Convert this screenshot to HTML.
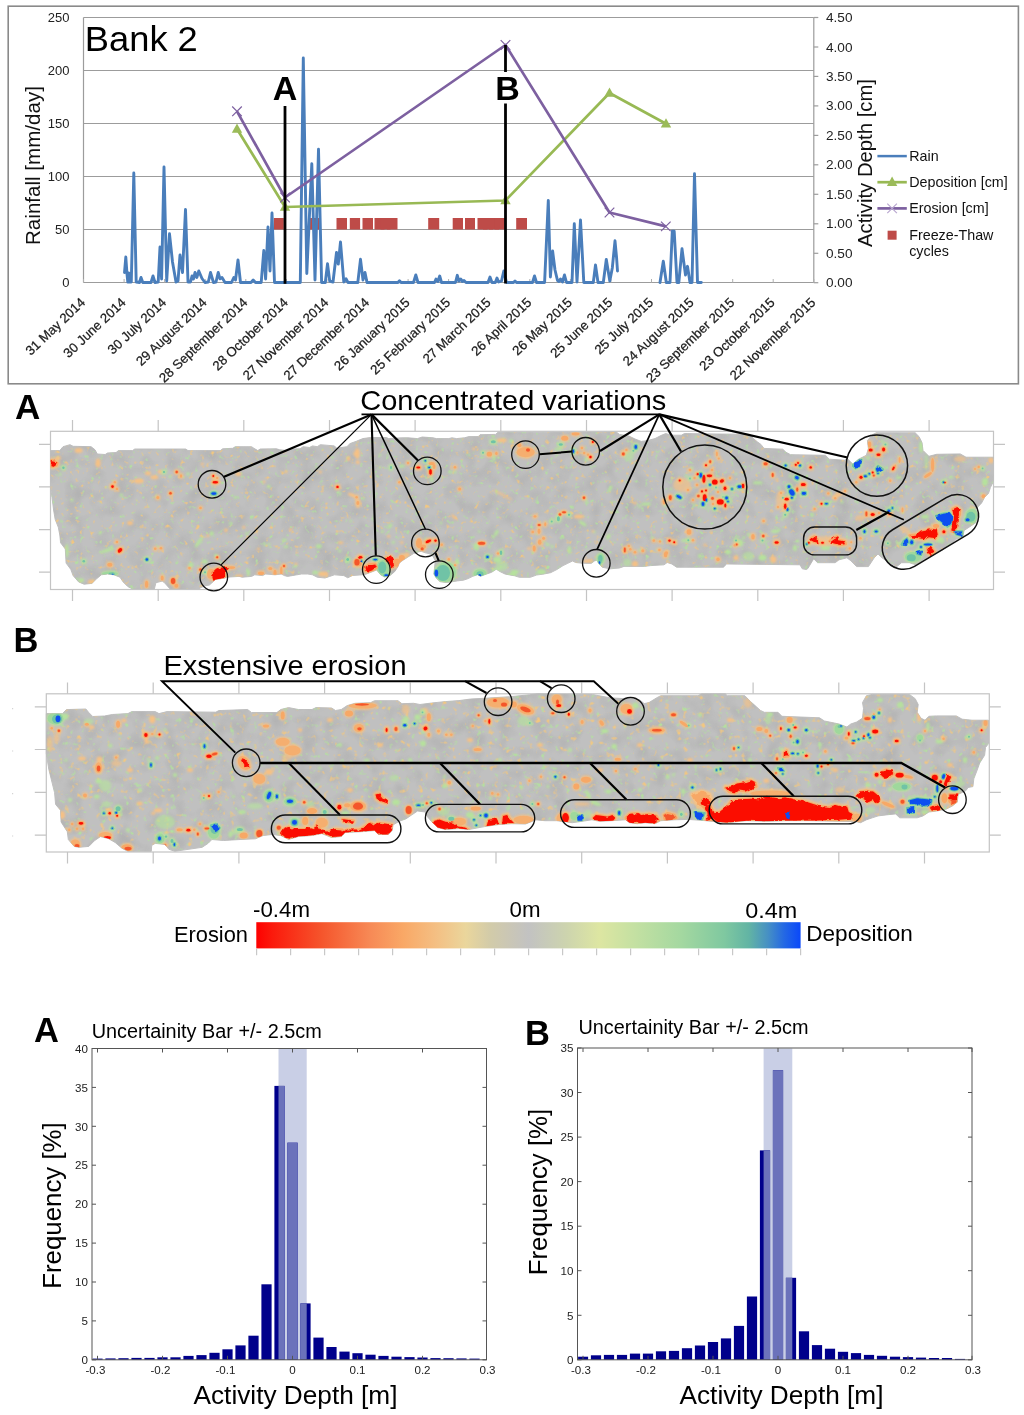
<!DOCTYPE html>
<html lang="en"><head><meta charset="utf-8"><title>Bank 2</title>
<style>html,body{margin:0;padding:0;background:#fff}svg{display:block}text{font-family:"Liberation Sans",sans-serif}</style></head>
<body>
<svg width="1024" height="1415" viewBox="0 0 1024 1415">
<rect width="1024" height="1415" fill="#fff"/>
<defs>
<filter id="nzA" x="0" y="0" width="100%" height="100%" color-interpolation-filters="sRGB">
<feTurbulence type="fractalNoise" baseFrequency="0.2" numOctaves="2" seed="7" result="t"/>
<feColorMatrix in="t" type="matrix" values="0 0 0 0 0.95  0 0 0 0 0.78  0 0 0 0 0.50  4 0 0 0 -2.5" result="o"/>
<feColorMatrix in="t" type="matrix" values="0 0 0 0 0.70  0 0 0 0 0.88  0 0 0 0 0.62  0 4 0 0 -2.55" result="g"/>
<feTurbulence type="fractalNoise" baseFrequency="0.06" numOctaves="2" seed="3" result="t2"/>
<feColorMatrix in="t2" type="matrix" values="0 0 0 0 0.64  0 0 0 0 0.64  0 0 0 0 0.64  0 0 1.0 0 -0.42" result="d"/>
<feMerge result="m0"><feMergeNode in="o"/><feMergeNode in="g"/></feMerge>
<feGaussianBlur in="m0" stdDeviation="0.55" result="m1"/>
<feMerge result="m"><feMergeNode in="d"/><feMergeNode in="m1"/></feMerge>
<feComposite in="m" in2="SourceAlpha" operator="in"/>
</filter>
<filter id="nzB" x="0" y="0" width="100%" height="100%" color-interpolation-filters="sRGB">
<feTurbulence type="fractalNoise" baseFrequency="0.17" numOctaves="2" seed="23" result="t"/>
<feColorMatrix in="t" type="matrix" values="0 0 0 0 0.95  0 0 0 0 0.78  0 0 0 0 0.50  4 0 0 0 -2.5" result="o"/>
<feColorMatrix in="t" type="matrix" values="0 0 0 0 0.70  0 0 0 0 0.88  0 0 0 0 0.62  0 4 0 0 -2.55" result="g"/>
<feTurbulence type="fractalNoise" baseFrequency="0.06" numOctaves="2" seed="5" result="t2"/>
<feColorMatrix in="t2" type="matrix" values="0 0 0 0 0.64  0 0 0 0 0.64  0 0 0 0 0.64  0 0 1.0 0 -0.42" result="d"/>
<feMerge result="m0"><feMergeNode in="o"/><feMergeNode in="g"/></feMerge>
<feGaussianBlur in="m0" stdDeviation="0.55" result="m1"/>
<feMerge result="m"><feMergeNode in="d"/><feMergeNode in="m1"/></feMerge>
<feComposite in="m" in2="SourceAlpha" operator="in"/>
</filter>
<filter id="b1" x="-5%" y="-20%" width="110%" height="140%"><feGaussianBlur stdDeviation="0.8"/></filter>
<filter id="b2" x="-5%" y="-20%" width="110%" height="140%"><feGaussianBlur stdDeviation="0.6"/></filter>
<filter id="jag" x="-5%" y="-20%" width="110%" height="140%"><feTurbulence type="fractalNoise" baseFrequency="0.18" numOctaves="2" seed="11" result="n"/><feDisplacementMap in="SourceGraphic" in2="n" scale="4.5" xChannelSelector="R" yChannelSelector="G" result="dd"/><feGaussianBlur in="dd" stdDeviation="0.4"/></filter>
<filter id="b3" x="-5%" y="-20%" width="110%" height="140%"><feGaussianBlur stdDeviation="0.45"/></filter>
<clipPath id="cpA"><polygon points="50.5,450.6 59.8,450.6 63,446.7 70,444.7 73.1,446.3 91.1,446.7 95,449.8 97.3,454 105.2,454.5 107.5,453 116.1,452.5 118.4,450.6 132.5,450.6 134.8,449 185.6,449 188,450.6 220.3,450.6 222.7,448.8 232.8,448.3 235.2,446.7 251.6,446.7 253.9,448.3 257.8,450.6 260.2,449 276.6,448.8 279.7,449.8 287.5,450.6 290.6,449 300,448.8 303.1,446.7 309.4,447.5 312.5,445.9 317.2,446.7 320.3,444.7 334.4,445.9 336.7,448.3 346.9,446.7 350,443.6 356.3,441.3 362.8,438.6 370.6,437.5 386.3,437.5 388.6,438.6 401.9,437.8 408,437.8 417.5,438.6 422.2,437 433,437.8 436.3,438.6 448.8,438.6 451.9,437.8 456.6,438.6 464.4,437.8 469,436.6 478.4,436.6 480,434.7 495.6,434.4 498,432.3 616.3,432 619.4,434.4 628.8,436 635,439 641.3,441.4 647.5,440.6 655,438.6 661,435.5 665.6,433.6 671.9,435.2 681.3,435.2 684.4,433.6 750,434.4 753.1,438.3 757.8,442.2 761,444.5 764,448.4 782.8,449.2 786,452.3 790.6,454.7 825.4,455.3 829.3,459.2 845,460.2 846.9,458.2 852.7,464 858.6,459.2 866.4,455.3 868.4,448.4 867.4,440.6 872.3,434.8 876.2,432.8 915.2,432.8 919.1,436.7 922,442.6 923,450.4 928.9,456.3 936.7,454.3 960.2,453.9 966,457.2 993.4,457.2 993.4,481.6 990.4,487.5 988.5,493.4 984.6,497.3 981.6,503 975.8,509 977.7,514.8 975.8,522.7 970,526.6 964,530.5 963,536.3 956.3,539.3 950.4,544 942.6,550 934.8,554 925,559.8 915.2,564.6 909.4,562.7 901.6,562.7 896.7,566.6 887.9,561.7 882,557.8 878,554 874.2,557.8 868.4,566.6 856.6,566.6 850.8,560.7 846.9,557.8 839,559.8 835.2,562.7 817.6,562.7 813.7,558.8 807.8,568.6 806.3,569.5 802.3,568.8 800,564.8 726.6,564 723.4,567.2 676.6,567.2 671.9,564 667.2,562.5 664,564.8 650.6,565.6 644.4,566.4 624,566.4 619.4,568 610,568.8 602.2,567.2 599,564 596.7,560.2 594.4,561 591.3,563.3 583.4,563.3 575.6,562.5 572.5,561 567.8,563.3 563.1,565.6 556.9,569.5 550.6,572.7 542.8,574.2 536.6,575 530.3,577.3 519.4,577.3 514.7,575.8 510,575 505,574 500,571.6 496.3,569.2 491.6,572.3 486.9,573.9 480.6,576.3 477.5,574.7 472.8,576.3 468.1,578.6 463.4,580.2 457.2,580.9 452.5,581.7 446.3,582.5 440,581.7 436,577.8 433.8,573.9 434.5,568.4 435.3,560.6 432.2,555.2 429,553.6 425.2,552.8 421.3,551.3 418.1,552 413.4,553.6 407.2,557.5 402.5,560.6 399.4,563 397.8,566.9 394.7,571.6 390,575.5 384.5,577 380.6,574.7 376.7,570 366.6,573.9 363.4,574.7 352.5,575.5 347.8,577.8 343.8,575.6 334.4,574.8 329.7,576.4 325,578 317.2,577.2 312.5,574.8 307.8,574 301.6,574 296.9,574.8 287.5,576.4 284.4,575.6 281.3,574 275,574.8 265.6,574 262.5,575.6 254.7,574.8 251.6,576.4 242.2,577.2 239,576.4 226.6,577.2 225,578 215.6,579.5 209.4,585 204.7,585.8 200,588.1 199,589 170,588.9 164.5,582.7 162.2,581.1 155.9,582.7 154.4,588.9 132.5,588.9 127.8,586.6 123.1,581.9 120,577.2 113.8,574.8 107.5,574 101.3,574.8 96.6,578.8 91.9,583.4 84.1,584.2 78.6,581.9 73.1,575.6 70.8,569.4 66.1,563.1 65.3,549 60.6,542.8 59.8,535 58.3,527.2 55.2,519.4 53.6,510 52,497.5 50.5,486.6"/></clipPath>
<clipPath id="cpB"><polygon points="46.3,713.6 62.5,713.6 66.4,709.6 85.9,709 88.8,712.6 92.7,716.5 104.5,716 112.3,714.5 127.9,713.6 131.8,711.6 155.2,711.6 159,713.6 167,711.6 215.8,712.2 218.7,710.6 247.6,709.5 251.5,712.5 276.9,712.5 280.8,709.5 288.6,707.6 298.4,709.5 312,709.5 316,707.6 331.6,708 335.5,710.5 341.3,709.5 347.2,705.6 355,703.3 370.6,702.7 374.5,700.7 398,700.7 401.9,703.7 413.6,703.3 420,704.5 431.7,703 445.4,701.6 459,700.6 470.8,699 484.5,698.3 509.8,696.7 529.4,694.8 537.2,693.8 592.5,694.5 610,697.8 639.3,699.6 644.2,703.6 649,702.6 656.9,697.7 660.8,695.7 697.9,695.7 701.8,693.8 725.2,693.8 727.2,695.7 744.8,695.7 750.6,701.6 760.4,710.4 764.3,712.3 778,712.3 781.9,716.3 819.5,717.8 824.4,721 834.2,723 839,724 846.9,727 850.8,724 856.6,722 862.5,718.2 863.5,708.4 862.5,702.6 866.4,695.7 872.3,694.4 909.4,694.4 915.2,698.7 918.2,704.5 917.2,712.3 921,718.2 925,720.2 928.9,716.3 936.7,715.9 956.3,715.9 962.1,719.2 971.9,720.2 988.5,720.2 988.5,743.6 985.5,747.5 984.6,755.3 979.7,763 976.8,771 973.8,778.8 972.9,786.6 968,787.5 966,790.5 958.2,794.4 957.2,802.2 952.3,806 946.5,809 936.7,811 928.9,812 923,815.9 917.2,817.8 899.6,817.8 895.7,813.9 886,814.9 878,815.9 872.3,817.8 866.4,819.8 860.5,822.7 856.6,821.7 850,821.5 810,820.7 785.8,820.7 766.3,821.3 746.7,820.7 727.2,822.7 715.5,821.7 705.7,820.7 694,819.8 688,819.4 674.5,819.8 660.8,820.7 655,823.7 645.2,822.7 637.3,823.7 629.5,822.7 625.6,819.8 611.4,820.7 599.7,821.3 591.9,819.8 582.1,821.3 572.3,822.7 564.5,821.7 556.7,820.7 545,820.7 535.2,819.8 531.3,821.7 525.5,824 511.8,823.7 498,824.6 484.5,826.6 468.8,829.5 459,828.6 445.4,829.5 437.6,827.6 431.7,821.7 425.9,814.9 425.3,812 417.5,811 411.6,815 405.8,818.9 400,820.9 393.1,824.8 392.1,830.6 388.2,834.5 378.4,834.5 374.5,830.6 362.8,831.6 345.2,832.6 341.3,836.5 331.6,837.5 321.8,833.6 312,835.5 298.4,836.5 288.6,839.4 280.8,835.5 272,834.5 263.2,835.5 255.4,838.8 240,839.5 223.6,840.5 211.9,839.5 208,843.4 202.1,847.3 174.8,851.3 168.9,849.3 165,844.4 155.2,843.4 151.7,845.4 151.3,851.3 127.9,851.3 122,848.3 115.2,842.5 108.4,838.6 100.5,836.6 94.7,840.5 88.8,846.4 79,847.3 74.2,846.4 68.3,839.5 67.3,831.7 61.1,822 60.5,810.2 55.6,804.4 54.6,792.7 51.7,781 48.8,769.2 46.3,753.6"/></clipPath>
</defs>
<g id="chart">
<rect x="8.2" y="6.2" width="1010.2" height="377.6" fill="#fff" stroke="#8a8a8a" stroke-width="1.6"/>
<line x1="83.5" y1="17.5" x2="813.8" y2="17.5" stroke="#9c9c9c" stroke-width="1.2"/>
<line x1="83.5" y1="70.5" x2="813.8" y2="70.5" stroke="#9c9c9c" stroke-width="1.2"/>
<line x1="83.5" y1="123.5" x2="813.8" y2="123.5" stroke="#9c9c9c" stroke-width="1.2"/>
<line x1="83.5" y1="176.5" x2="813.8" y2="176.5" stroke="#9c9c9c" stroke-width="1.2"/>
<line x1="83.5" y1="229.5" x2="813.8" y2="229.5" stroke="#9c9c9c" stroke-width="1.2"/>
<line x1="83.5" y1="282.5" x2="813.8" y2="282.5" stroke="#9c9c9c" stroke-width="1.2"/>
<line x1="83.5" y1="17.5" x2="83.5" y2="282.5" stroke="#9c9c9c" stroke-width="1.2"/>
<line x1="813.8" y1="17.5" x2="813.8" y2="282.5" stroke="#9c9c9c" stroke-width="1.2"/>
<line x1="813.8" y1="17.5" x2="818.3" y2="17.5" stroke="#9c9c9c" stroke-width="1.2"/>
<line x1="813.8" y1="47" x2="818.3" y2="47" stroke="#9c9c9c" stroke-width="1.2"/>
<line x1="813.8" y1="76.4" x2="818.3" y2="76.4" stroke="#9c9c9c" stroke-width="1.2"/>
<line x1="813.8" y1="105.9" x2="818.3" y2="105.9" stroke="#9c9c9c" stroke-width="1.2"/>
<line x1="813.8" y1="135.4" x2="818.3" y2="135.4" stroke="#9c9c9c" stroke-width="1.2"/>
<line x1="813.8" y1="164.8" x2="818.3" y2="164.8" stroke="#9c9c9c" stroke-width="1.2"/>
<line x1="813.8" y1="194.3" x2="818.3" y2="194.3" stroke="#9c9c9c" stroke-width="1.2"/>
<line x1="813.8" y1="223.8" x2="818.3" y2="223.8" stroke="#9c9c9c" stroke-width="1.2"/>
<line x1="813.8" y1="253.3" x2="818.3" y2="253.3" stroke="#9c9c9c" stroke-width="1.2"/>
<line x1="813.8" y1="282.7" x2="818.3" y2="282.7" stroke="#9c9c9c" stroke-width="1.2"/>
<line x1="83.5" y1="279" x2="83.5" y2="282.5" stroke="#b0b0b0" stroke-width="1"/>
<line x1="124.1" y1="279" x2="124.1" y2="282.5" stroke="#b0b0b0" stroke-width="1"/>
<line x1="164.6" y1="279" x2="164.6" y2="282.5" stroke="#b0b0b0" stroke-width="1"/>
<line x1="205.2" y1="279" x2="205.2" y2="282.5" stroke="#b0b0b0" stroke-width="1"/>
<line x1="245.8" y1="279" x2="245.8" y2="282.5" stroke="#b0b0b0" stroke-width="1"/>
<line x1="286.4" y1="279" x2="286.4" y2="282.5" stroke="#b0b0b0" stroke-width="1"/>
<line x1="326.9" y1="279" x2="326.9" y2="282.5" stroke="#b0b0b0" stroke-width="1"/>
<line x1="367.5" y1="279" x2="367.5" y2="282.5" stroke="#b0b0b0" stroke-width="1"/>
<line x1="408.1" y1="279" x2="408.1" y2="282.5" stroke="#b0b0b0" stroke-width="1"/>
<line x1="448.6" y1="279" x2="448.6" y2="282.5" stroke="#b0b0b0" stroke-width="1"/>
<line x1="489.2" y1="279" x2="489.2" y2="282.5" stroke="#b0b0b0" stroke-width="1"/>
<line x1="529.8" y1="279" x2="529.8" y2="282.5" stroke="#b0b0b0" stroke-width="1"/>
<line x1="570.4" y1="279" x2="570.4" y2="282.5" stroke="#b0b0b0" stroke-width="1"/>
<line x1="610.9" y1="279" x2="610.9" y2="282.5" stroke="#b0b0b0" stroke-width="1"/>
<line x1="651.5" y1="279" x2="651.5" y2="282.5" stroke="#b0b0b0" stroke-width="1"/>
<line x1="692.1" y1="279" x2="692.1" y2="282.5" stroke="#b0b0b0" stroke-width="1"/>
<line x1="732.7" y1="279" x2="732.7" y2="282.5" stroke="#b0b0b0" stroke-width="1"/>
<line x1="773.2" y1="279" x2="773.2" y2="282.5" stroke="#b0b0b0" stroke-width="1"/>
<line x1="813.8" y1="279" x2="813.8" y2="282.5" stroke="#b0b0b0" stroke-width="1"/>
<g font-size="13" fill="#222" text-anchor="end">
<text x="69.5" y="22">250</text>
<text x="69.5" y="75">200</text>
<text x="69.5" y="128">150</text>
<text x="69.5" y="181">100</text>
<text x="69.5" y="234">50</text>
<text x="69.5" y="287">0</text>
</g>
<g font-size="13" fill="#222">
<text x="826" y="22" textLength="26.5" lengthAdjust="spacingAndGlyphs">4.50</text>
<text x="826" y="51.5" textLength="26.5" lengthAdjust="spacingAndGlyphs">4.00</text>
<text x="826" y="80.9" textLength="26.5" lengthAdjust="spacingAndGlyphs">3.50</text>
<text x="826" y="110.4" textLength="26.5" lengthAdjust="spacingAndGlyphs">3.00</text>
<text x="826" y="139.9" textLength="26.5" lengthAdjust="spacingAndGlyphs">2.50</text>
<text x="826" y="169.3" textLength="26.5" lengthAdjust="spacingAndGlyphs">2.00</text>
<text x="826" y="198.8" textLength="26.5" lengthAdjust="spacingAndGlyphs">1.50</text>
<text x="826" y="228.3" textLength="26.5" lengthAdjust="spacingAndGlyphs">1.00</text>
<text x="826" y="257.8" textLength="26.5" lengthAdjust="spacingAndGlyphs">0.50</text>
<text x="826" y="287.2" textLength="26.5" lengthAdjust="spacingAndGlyphs">0.00</text>
</g>
<g font-size="13.2" fill="#1c1c1c" stroke="#1c1c1c" stroke-width="0.25" text-anchor="end">
<text transform="translate(86,303.5) rotate(-43.5)">31 May 2014</text>
<text transform="translate(126.6,303.5) rotate(-43.5)">30 June 2014</text>
<text transform="translate(167.1,303.5) rotate(-43.5)">30 July 2014</text>
<text transform="translate(207.7,303.5) rotate(-43.5)">29 August 2014</text>
<text transform="translate(248.3,303.5) rotate(-43.5)">28 September 2014</text>
<text transform="translate(288.9,303.5) rotate(-43.5)">28 October 2014</text>
<text transform="translate(329.4,303.5) rotate(-43.5)">27 November 2014</text>
<text transform="translate(370,303.5) rotate(-43.5)">27 December 2014</text>
<text transform="translate(410.6,303.5) rotate(-43.5)">26 January 2015</text>
<text transform="translate(451.1,303.5) rotate(-43.5)">25 February 2015</text>
<text transform="translate(491.7,303.5) rotate(-43.5)">27 March 2015</text>
<text transform="translate(532.3,303.5) rotate(-43.5)">26 April 2015</text>
<text transform="translate(572.9,303.5) rotate(-43.5)">26 May 2015</text>
<text transform="translate(613.4,303.5) rotate(-43.5)">25 June 2015</text>
<text transform="translate(654,303.5) rotate(-43.5)">25 July 2015</text>
<text transform="translate(694.6,303.5) rotate(-43.5)">24 August 2015</text>
<text transform="translate(735.2,303.5) rotate(-43.5)">23 September 2015</text>
<text transform="translate(775.7,303.5) rotate(-43.5)">23 October 2015</text>
<text transform="translate(816.3,303.5) rotate(-43.5)">22 November 2015</text>
</g>
<text transform="translate(40,165.5) rotate(-90)" font-size="20.5" text-anchor="middle" fill="#111" textLength="159" lengthAdjust="spacingAndGlyphs">Rainfall [mm/day]</text>
<text transform="translate(872.3,163) rotate(-90)" font-size="20.5" text-anchor="middle" fill="#111" textLength="168" lengthAdjust="spacingAndGlyphs">Activity Depth [cm]</text>
<rect x="273.8" y="218" width="10" height="11.5" fill="#be4b48"/>
<rect x="309.5" y="218" width="11" height="11.5" fill="#be4b48"/>
<rect x="336.5" y="218" width="10.5" height="11.5" fill="#be4b48"/>
<rect x="349.8" y="218" width="10.3" height="11.5" fill="#be4b48"/>
<rect x="362.5" y="218" width="10.5" height="11.5" fill="#be4b48"/>
<rect x="374.5" y="218" width="10" height="11.5" fill="#be4b48"/>
<rect x="380.5" y="218" width="10" height="11.5" fill="#be4b48"/>
<rect x="387" y="218" width="10.5" height="11.5" fill="#be4b48"/>
<rect x="428.2" y="218" width="11" height="11.5" fill="#be4b48"/>
<rect x="452.7" y="218" width="10.3" height="11.5" fill="#be4b48"/>
<rect x="465" y="218" width="10" height="11.5" fill="#be4b48"/>
<rect x="477.5" y="218" width="10" height="11.5" fill="#be4b48"/>
<rect x="483" y="218" width="10" height="11.5" fill="#be4b48"/>
<rect x="489" y="218" width="10" height="11.5" fill="#be4b48"/>
<rect x="494.7" y="218" width="10.3" height="11.5" fill="#be4b48"/>
<rect x="516.2" y="218" width="10.8" height="11.5" fill="#be4b48"/>
<polyline points="124.5,272.5 125.8,257 127,274 127.8,282 128.8,273 129.8,282 131.3,282 133.8,173 136.2,282 139.5,282.5 141,277.5 142.8,282.5 151,282.5 153,276 155,282.5 158.2,282 160,247 161.6,279 164,167 166.7,281 169.5,233.8 172.5,262 176,282 178,281 180,255 182.5,272.5 185.5,209.5 188,282 190.5,282 192,276 193.5,279 195,272.5 196.8,277.5 198.8,271 202,278.5 205,282.5 208.3,282 210.5,272.5 213.5,282.5 216,282 218.2,272.5 220,278.8 222,277.5 225,282.5 231.5,282.5 233.8,277.5 235.5,280 238,260 240.5,282.5 251,282.5 253.2,280 255.5,282.5 261.2,282.5 263.8,250.5 265.6,279 268,227 270,271 272,213 274.5,282.5 300.3,282.5 303.3,58 306.8,273.5 311.8,163.8 315,280 318.5,149.3 321.6,282.5 325.3,282.5 327.5,263.8 329.7,281 333,282 336.5,252.5 338.3,264 340.5,242 343.8,282 346,278.8 348,282.5 357.8,282.5 360.5,259.3 363,280 365,272.5 367,282.5 398,282.5 399.5,280.8 401,282.5 413.5,282.5 415.8,275 418,282.5 434.5,282.5 436,279 437.8,281.5 439.7,276 441.5,282.5 455.5,282.5 457.3,275.3 458.9,281 460.8,279 462.3,281.5 464,280.5 466,282.5 488,282.5 490,277 492,282.5 495.3,282.5 497,278 498.7,282 501.5,281 503.8,271 506.5,282.5 513.5,282.5 515,281 516.5,282.5 532.5,282.5 534.5,276 536.5,282.5 544.6,282.5 548.3,200.5 550.4,277 552.6,251 555,270 557.5,280.5 559,281.5 560.5,279 562.5,282 564.5,275 566.5,282.5 572,282.5 574.3,223.8 577,282 580.5,220 583.8,282.5 593.3,282.5 595.5,265 598,282.5 603.3,282.5 606.3,259.5 609.8,281 612.3,268 615,240.8 616.6,258 617.5,271" fill="none" stroke="#4a7ebb" stroke-width="2.9" stroke-linejoin="round" stroke-linecap="round"/>
<polyline points="660,282.5 663.3,261.3 666.3,282.5 670,282.5 672.3,231.3 674.2,231.3 677,282.5 678.8,282.5 682,248.8 685.5,275 687.5,266.3 690,282.5 692,282.5 694.5,173.8 697.5,282.5 701.3,282.5" fill="none" stroke="#4a7ebb" stroke-width="2.9" stroke-linejoin="round" stroke-linecap="round"/>
<polyline points="237,129 285,207 505.5,200.5 609.5,93 666,123.8" fill="none" stroke="#98b954" stroke-width="2.7" stroke-linejoin="round"/>
<path d="M237 123.4l5.2 9.4h-10.4z" fill="#9bbb59"/>
<path d="M285 201.4l5.2 9.4h-10.4z" fill="#9bbb59"/>
<path d="M505.5 194.9l5.2 9.4h-10.4z" fill="#9bbb59"/>
<path d="M609.5 87.4l5.2 9.4h-10.4z" fill="#9bbb59"/>
<path d="M666 118.2l5.2 9.4h-10.4z" fill="#9bbb59"/>
<polyline points="237,111.3 285,197.5 505.5,45 609.5,212.5 665.8,226.4" fill="none" stroke="#7d60a0" stroke-width="2.7" stroke-linejoin="round"/>
<path d="M232.2 106.5l9.6 9.6m0 -9.6l-9.6 9.6" stroke="#7d60a0" stroke-width="1.2" fill="none"/>
<path d="M280.2 192.7l9.6 9.6m0 -9.6l-9.6 9.6" stroke="#7d60a0" stroke-width="1.2" fill="none"/>
<path d="M500.7 40.2l9.6 9.6m0 -9.6l-9.6 9.6" stroke="#7d60a0" stroke-width="1.2" fill="none"/>
<path d="M604.7 207.7l9.6 9.6m0 -9.6l-9.6 9.6" stroke="#7d60a0" stroke-width="1.2" fill="none"/>
<path d="M661 221.6l9.6 9.6m0 -9.6l-9.6 9.6" stroke="#7d60a0" stroke-width="1.2" fill="none"/>
<line x1="285" y1="106" x2="285" y2="283.8" stroke="#000" stroke-width="2.8"/>
<line x1="505.5" y1="45" x2="505.5" y2="283.5" stroke="#000" stroke-width="2.8"/>
<rect x="495" y="72" width="25" height="31.5" fill="#fff"/>
<text x="285" y="100" font-size="34" font-weight="bold" text-anchor="middle" fill="#000">A</text>
<text x="507.5" y="99.5" font-size="34" font-weight="bold" text-anchor="middle" fill="#000">B</text>
<text x="84.8" y="50.8" font-size="35" fill="#000" textLength="113" lengthAdjust="spacingAndGlyphs">Bank 2</text>
<g font-size="14.3" fill="#111">
<line x1="877.4" y1="156.1" x2="906.8" y2="156.1" stroke="#4a7ebb" stroke-width="2.5"/>
<text x="909.2" y="160.9">Rain</text>
<line x1="877.4" y1="182.2" x2="906.8" y2="182.2" stroke="#98b954" stroke-width="2.7"/>
<path d="M892.1 176.6l5.2 9.4h-10.4z" fill="#9bbb59"/>
<text x="909.2" y="187">Deposition [cm]</text>
<line x1="877.4" y1="208.4" x2="906.8" y2="208.4" stroke="#7d60a0" stroke-width="2.7"/>
<path d="M887.3 203.6l9.6 9.6m0 -9.6l-9.6 9.6" stroke="#b9a8d0" stroke-width="1.2" fill="none"/>
<text x="909.2" y="213.3">Erosion [cm]</text>
<rect x="887.6" y="230.7" width="9" height="9" fill="#be4b48"/>
<text x="909.2" y="239.8">Freeze-Thaw</text>
<text x="909.2" y="255.8">cycles</text>
</g>
</g>
<g id="mapA">
<text x="15" y="418.8" font-size="35" font-weight="bold" fill="#000">A</text>
<rect x="50.5" y="431.3" width="943" height="158.2" fill="#fff" stroke="#c4c4c4" stroke-width="1.2"/>
<path d="M72.5 431.3v-11.3M72.5 589.5v11.5M158.2 431.3v-11.3M158.2 589.5v11.5M243.8 431.3v-11.3M243.8 589.5v11.5M329.5 431.3v-11.3M329.5 589.5v11.5M415.1 431.3v-11.3M415.1 589.5v11.5M500.8 431.3v-11.3M500.8 589.5v11.5M586.5 431.3v-11.3M586.5 589.5v11.5M672.1 431.3v-11.3M672.1 589.5v11.5M757.8 431.3v-11.3M757.8 589.5v11.5M843.4 431.3v-11.3M843.4 589.5v11.5M929.1 431.3v-11.3M929.1 589.5v11.5M50.5 444.3h-11.5M993.5 444.3h11.5M50.5 486.9h-11.5M993.5 486.9h11.5M50.5 529.6h-11.5M993.5 529.6h11.5M50.5 572.2h-11.5M993.5 572.2h11.5" stroke="#c4c4c4" stroke-width="1.2" fill="none"/>
<polygon points="50.5,450.6 59.8,450.6 63,446.7 70,444.7 73.1,446.3 91.1,446.7 95,449.8 97.3,454 105.2,454.5 107.5,453 116.1,452.5 118.4,450.6 132.5,450.6 134.8,449 185.6,449 188,450.6 220.3,450.6 222.7,448.8 232.8,448.3 235.2,446.7 251.6,446.7 253.9,448.3 257.8,450.6 260.2,449 276.6,448.8 279.7,449.8 287.5,450.6 290.6,449 300,448.8 303.1,446.7 309.4,447.5 312.5,445.9 317.2,446.7 320.3,444.7 334.4,445.9 336.7,448.3 346.9,446.7 350,443.6 356.3,441.3 362.8,438.6 370.6,437.5 386.3,437.5 388.6,438.6 401.9,437.8 408,437.8 417.5,438.6 422.2,437 433,437.8 436.3,438.6 448.8,438.6 451.9,437.8 456.6,438.6 464.4,437.8 469,436.6 478.4,436.6 480,434.7 495.6,434.4 498,432.3 616.3,432 619.4,434.4 628.8,436 635,439 641.3,441.4 647.5,440.6 655,438.6 661,435.5 665.6,433.6 671.9,435.2 681.3,435.2 684.4,433.6 750,434.4 753.1,438.3 757.8,442.2 761,444.5 764,448.4 782.8,449.2 786,452.3 790.6,454.7 825.4,455.3 829.3,459.2 845,460.2 846.9,458.2 852.7,464 858.6,459.2 866.4,455.3 868.4,448.4 867.4,440.6 872.3,434.8 876.2,432.8 915.2,432.8 919.1,436.7 922,442.6 923,450.4 928.9,456.3 936.7,454.3 960.2,453.9 966,457.2 993.4,457.2 993.4,481.6 990.4,487.5 988.5,493.4 984.6,497.3 981.6,503 975.8,509 977.7,514.8 975.8,522.7 970,526.6 964,530.5 963,536.3 956.3,539.3 950.4,544 942.6,550 934.8,554 925,559.8 915.2,564.6 909.4,562.7 901.6,562.7 896.7,566.6 887.9,561.7 882,557.8 878,554 874.2,557.8 868.4,566.6 856.6,566.6 850.8,560.7 846.9,557.8 839,559.8 835.2,562.7 817.6,562.7 813.7,558.8 807.8,568.6 806.3,569.5 802.3,568.8 800,564.8 726.6,564 723.4,567.2 676.6,567.2 671.9,564 667.2,562.5 664,564.8 650.6,565.6 644.4,566.4 624,566.4 619.4,568 610,568.8 602.2,567.2 599,564 596.7,560.2 594.4,561 591.3,563.3 583.4,563.3 575.6,562.5 572.5,561 567.8,563.3 563.1,565.6 556.9,569.5 550.6,572.7 542.8,574.2 536.6,575 530.3,577.3 519.4,577.3 514.7,575.8 510,575 505,574 500,571.6 496.3,569.2 491.6,572.3 486.9,573.9 480.6,576.3 477.5,574.7 472.8,576.3 468.1,578.6 463.4,580.2 457.2,580.9 452.5,581.7 446.3,582.5 440,581.7 436,577.8 433.8,573.9 434.5,568.4 435.3,560.6 432.2,555.2 429,553.6 425.2,552.8 421.3,551.3 418.1,552 413.4,553.6 407.2,557.5 402.5,560.6 399.4,563 397.8,566.9 394.7,571.6 390,575.5 384.5,577 380.6,574.7 376.7,570 366.6,573.9 363.4,574.7 352.5,575.5 347.8,577.8 343.8,575.6 334.4,574.8 329.7,576.4 325,578 317.2,577.2 312.5,574.8 307.8,574 301.6,574 296.9,574.8 287.5,576.4 284.4,575.6 281.3,574 275,574.8 265.6,574 262.5,575.6 254.7,574.8 251.6,576.4 242.2,577.2 239,576.4 226.6,577.2 225,578 215.6,579.5 209.4,585 204.7,585.8 200,588.1 199,589 170,588.9 164.5,582.7 162.2,581.1 155.9,582.7 154.4,588.9 132.5,588.9 127.8,586.6 123.1,581.9 120,577.2 113.8,574.8 107.5,574 101.3,574.8 96.6,578.8 91.9,583.4 84.1,584.2 78.6,581.9 73.1,575.6 70.8,569.4 66.1,563.1 65.3,549 60.6,542.8 59.8,535 58.3,527.2 55.2,519.4 53.6,510 52,497.5 50.5,486.6" fill="#c0c0c0" stroke="#c0c0c0" stroke-width="1" stroke-linejoin="round"/>
<polygon points="50.5,450.6 59.8,450.6 63,446.7 70,444.7 73.1,446.3 91.1,446.7 95,449.8 97.3,454 105.2,454.5 107.5,453 116.1,452.5 118.4,450.6 132.5,450.6 134.8,449 185.6,449 188,450.6 220.3,450.6 222.7,448.8 232.8,448.3 235.2,446.7 251.6,446.7 253.9,448.3 257.8,450.6 260.2,449 276.6,448.8 279.7,449.8 287.5,450.6 290.6,449 300,448.8 303.1,446.7 309.4,447.5 312.5,445.9 317.2,446.7 320.3,444.7 334.4,445.9 336.7,448.3 346.9,446.7 350,443.6 356.3,441.3 362.8,438.6 370.6,437.5 386.3,437.5 388.6,438.6 401.9,437.8 408,437.8 417.5,438.6 422.2,437 433,437.8 436.3,438.6 448.8,438.6 451.9,437.8 456.6,438.6 464.4,437.8 469,436.6 478.4,436.6 480,434.7 495.6,434.4 498,432.3 616.3,432 619.4,434.4 628.8,436 635,439 641.3,441.4 647.5,440.6 655,438.6 661,435.5 665.6,433.6 671.9,435.2 681.3,435.2 684.4,433.6 750,434.4 753.1,438.3 757.8,442.2 761,444.5 764,448.4 782.8,449.2 786,452.3 790.6,454.7 825.4,455.3 829.3,459.2 845,460.2 846.9,458.2 852.7,464 858.6,459.2 866.4,455.3 868.4,448.4 867.4,440.6 872.3,434.8 876.2,432.8 915.2,432.8 919.1,436.7 922,442.6 923,450.4 928.9,456.3 936.7,454.3 960.2,453.9 966,457.2 993.4,457.2 993.4,481.6 990.4,487.5 988.5,493.4 984.6,497.3 981.6,503 975.8,509 977.7,514.8 975.8,522.7 970,526.6 964,530.5 963,536.3 956.3,539.3 950.4,544 942.6,550 934.8,554 925,559.8 915.2,564.6 909.4,562.7 901.6,562.7 896.7,566.6 887.9,561.7 882,557.8 878,554 874.2,557.8 868.4,566.6 856.6,566.6 850.8,560.7 846.9,557.8 839,559.8 835.2,562.7 817.6,562.7 813.7,558.8 807.8,568.6 806.3,569.5 802.3,568.8 800,564.8 726.6,564 723.4,567.2 676.6,567.2 671.9,564 667.2,562.5 664,564.8 650.6,565.6 644.4,566.4 624,566.4 619.4,568 610,568.8 602.2,567.2 599,564 596.7,560.2 594.4,561 591.3,563.3 583.4,563.3 575.6,562.5 572.5,561 567.8,563.3 563.1,565.6 556.9,569.5 550.6,572.7 542.8,574.2 536.6,575 530.3,577.3 519.4,577.3 514.7,575.8 510,575 505,574 500,571.6 496.3,569.2 491.6,572.3 486.9,573.9 480.6,576.3 477.5,574.7 472.8,576.3 468.1,578.6 463.4,580.2 457.2,580.9 452.5,581.7 446.3,582.5 440,581.7 436,577.8 433.8,573.9 434.5,568.4 435.3,560.6 432.2,555.2 429,553.6 425.2,552.8 421.3,551.3 418.1,552 413.4,553.6 407.2,557.5 402.5,560.6 399.4,563 397.8,566.9 394.7,571.6 390,575.5 384.5,577 380.6,574.7 376.7,570 366.6,573.9 363.4,574.7 352.5,575.5 347.8,577.8 343.8,575.6 334.4,574.8 329.7,576.4 325,578 317.2,577.2 312.5,574.8 307.8,574 301.6,574 296.9,574.8 287.5,576.4 284.4,575.6 281.3,574 275,574.8 265.6,574 262.5,575.6 254.7,574.8 251.6,576.4 242.2,577.2 239,576.4 226.6,577.2 225,578 215.6,579.5 209.4,585 204.7,585.8 200,588.1 199,589 170,588.9 164.5,582.7 162.2,581.1 155.9,582.7 154.4,588.9 132.5,588.9 127.8,586.6 123.1,581.9 120,577.2 113.8,574.8 107.5,574 101.3,574.8 96.6,578.8 91.9,583.4 84.1,584.2 78.6,581.9 73.1,575.6 70.8,569.4 66.1,563.1 65.3,549 60.6,542.8 59.8,535 58.3,527.2 55.2,519.4 53.6,510 52,497.5 50.5,486.6" fill="#000" filter="url(#nzA)"/>
<g clip-path="url(#cpA)">
<g filter="url(#b1)"><circle cx="63.4" cy="467.8" r="3" fill="#b6e29c" opacity="0.9"/>
<ellipse cx="98.1" cy="463.1" rx="2.5" ry="4.5" fill="#f6c184"/>
<ellipse cx="78.6" cy="450.6" rx="4" ry="2.5" fill="#f6c184"/>
<circle cx="112.5" cy="486.6" r="3.5" fill="#f6c184" opacity="0.9"/>
<circle cx="114.8" cy="482.3" r="2.6" fill="#f6c184" opacity="0.85"/>
<circle cx="116.9" cy="488.9" r="2.6" fill="#f6c184" opacity="0.85"/>
<circle cx="121.3" cy="495.2" r="1.6" fill="#b6e29c"/>
<ellipse cx="138.8" cy="481.1" rx="5" ry="2.5" fill="#f6c184"/>
<ellipse cx="154.4" cy="477.2" rx="4" ry="2" fill="#f6c184"/>
<ellipse cx="160.6" cy="471.7" rx="3" ry="2" fill="#f6c184"/>
<ellipse cx="148" cy="473.3" rx="3" ry="2" fill="#f6c184"/>
<circle cx="164" cy="472" r="2.9" fill="#b6e29c" opacity="0.9"/>
<circle cx="176.7" cy="472" r="3" fill="#f6c184" opacity="0.9"/>
<ellipse cx="181" cy="476" rx="2.6" ry="3.2" fill="#f6c184" opacity="0.85"/>
<circle cx="188" cy="474" r="1.8" fill="#b6e29c"/>
<circle cx="170" cy="476.4" r="1.5" fill="#b6e29c"/>
<circle cx="170.5" cy="493.3" r="3" fill="#f6c184" opacity="0.9"/>
<circle cx="157.8" cy="497.5" r="2.9" fill="#f6c184" opacity="0.85"/>
<circle cx="200.5" cy="508" r="2.7" fill="#f6c184" opacity="0.85"/>
<ellipse cx="120" cy="550.3" rx="4.8" ry="4" fill="#f6c184" transform="rotate(-45 120 550.3)" opacity="0.9"/>
<ellipse cx="107" cy="550.5" rx="8" ry="1.6" fill="#b6e29c" transform="rotate(-17 107 550.5)"/>
<circle cx="83.8" cy="561.3" r="3.1" fill="#b6e29c" opacity="0.9"/>
<circle cx="146.9" cy="559.5" r="3.6" fill="#b6e29c" opacity="0.9"/>
<circle cx="155.2" cy="548.8" r="2.7" fill="#f6c184" opacity="0.85"/>
<circle cx="161" cy="548.3" r="2.7" fill="#f6c184" opacity="0.85"/>
<ellipse cx="109.8" cy="564.7" rx="4" ry="3.4" fill="#f6c184" opacity="0.85"/>
<circle cx="116.9" cy="542" r="2.7" fill="#f6c184" opacity="0.85"/>
<ellipse cx="110" cy="573.6" rx="9.2" ry="3.2" fill="#b6e29c" opacity="0.85"/>
<ellipse cx="111.5" cy="573.8" rx="4.8" ry="3" fill="#b6e29c" opacity="0.9"/>
<ellipse cx="112.6" cy="574.6" rx="3.5" ry="3.3" fill="#b6e29c" opacity="0.9"/>
<ellipse cx="66.9" cy="550.6" rx="1.6" ry="7" fill="#b6e29c"/>
<ellipse cx="81" cy="580.3" rx="3" ry="2" fill="#b6e29c"/>
<ellipse cx="91.9" cy="581.9" rx="4" ry="2.5" fill="#f6c184"/>
<ellipse cx="173.1" cy="581.1" rx="4" ry="4.8" fill="#f6c184" opacity="0.9"/>
<ellipse cx="162.2" cy="578" rx="2.9" ry="3.9" fill="#f6c184" opacity="0.85"/>
<circle cx="176.3" cy="585.8" r="3.4" fill="#f6c184" opacity="0.85"/>
<ellipse cx="146.6" cy="584.2" rx="3" ry="4.9" fill="#f6c184" opacity="0.85"/>
<circle cx="189.5" cy="568.1" r="2.7" fill="#f6c184" opacity="0.85"/>
<circle cx="191" cy="564.7" r="2.5" fill="#b6e29c"/>
<ellipse cx="200.5" cy="569.7" rx="3.1" ry="2.9" fill="#f6c184" opacity="0.9"/>
<ellipse cx="199" cy="542" rx="1.6" ry="7" fill="#b6e29c" transform="rotate(35 199 542)"/>
<circle cx="60" cy="474" r="1.5" fill="#b6e29c"/>
<ellipse cx="58" cy="458" rx="3" ry="2" fill="#f6c184"/>
<circle cx="72" cy="500" r="1.5" fill="#b6e29c"/>
<ellipse cx="130" cy="523" rx="3" ry="2" fill="#f6c184"/>
<circle cx="100" cy="533" r="1.5" fill="#b6e29c"/>
<circle cx="213.3" cy="476" r="3.1" fill="#f6c184" opacity="0.9"/>
<ellipse cx="217.2" cy="478" rx="2.6" ry="2.4" fill="#f6c184" opacity="0.85"/>
<ellipse cx="215.3" cy="482.3" rx="5" ry="3.4" fill="#f6c184" opacity="0.9"/>
<ellipse cx="213.8" cy="493.6" rx="5" ry="3.8" fill="#b6e29c" opacity="0.9"/>
<circle cx="268.8" cy="486.6" r="1.8" fill="#b6e29c"/>
<ellipse cx="238.3" cy="474" rx="3" ry="2" fill="#f6c184"/>
<circle cx="286" cy="471.7" r="1.5" fill="#f6c184"/>
<circle cx="202.3" cy="464" r="1.5" fill="#f6c184"/>
<circle cx="264" cy="481.9" r="1.3" fill="#f6c184"/>
<circle cx="320.3" cy="472" r="1.5" fill="#f6c184"/>
<circle cx="316.4" cy="467" r="1.3" fill="#b6e29c"/>
<circle cx="337.5" cy="486.9" r="3.4" fill="#f6c184" opacity="0.9"/>
<ellipse cx="339.8" cy="493.6" rx="1" ry="2.6" fill="#b6e29c"/>
<ellipse cx="353" cy="495.5" rx="5.5" ry="1.6" fill="#f6c184" transform="rotate(22 353 495.5)"/>
<ellipse cx="357.8" cy="503" rx="2.9" ry="3.4" fill="#f6c184" opacity="0.85"/>
<ellipse cx="356.3" cy="453.8" rx="3" ry="2.5" fill="#f6c184"/>
<ellipse cx="348.4" cy="458.4" rx="2" ry="2.5" fill="#f6c184"/>
<circle cx="357.8" cy="462.3" r="2" fill="#f6c184"/>
<circle cx="235.2" cy="497.5" r="1.5" fill="#b6e29c"/>
<circle cx="230.5" cy="523.3" r="1.5" fill="#b6e29c"/>
<circle cx="246.9" cy="533.4" r="1.5" fill="#b6e29c"/>
<circle cx="243.8" cy="527.2" r="1.5" fill="#f6c184"/>
<ellipse cx="284.4" cy="540" rx="2.6" ry="1.5" fill="#b6e29c"/>
<ellipse cx="286" cy="546.7" rx="2.5" ry="1.3" fill="#b6e29c"/>
<ellipse cx="318.8" cy="546.3" rx="3" ry="2" fill="#b6e29c"/>
<circle cx="264.8" cy="544.4" r="1.5" fill="#b6e29c"/>
<circle cx="269" cy="544.4" r="1.3" fill="#b6e29c"/>
<circle cx="258.6" cy="549" r="1.5" fill="#f6c184"/>
<ellipse cx="225.8" cy="530.3" rx="1.5" ry="2" fill="#f6c184"/>
<ellipse cx="211.7" cy="533.4" rx="2" ry="2.5" fill="#b6e29c"/>
<circle cx="207.8" cy="535.8" r="1.5" fill="#f6c184"/>
<circle cx="350.8" cy="521" r="1.3" fill="#b6e29c"/>
<circle cx="290.6" cy="529.5" r="1.5" fill="#f6c184"/>
<circle cx="217.2" cy="557.2" r="2.8" fill="#f6c184" opacity="0.9"/>
<circle cx="215.6" cy="555.3" r="1.5" fill="#b6e29c"/>
<ellipse cx="204.7" cy="561.6" rx="3" ry="2" fill="#b6e29c"/>
<ellipse cx="211" cy="574" rx="5.4" ry="6.4" fill="#f6c184" opacity="0.85"/>
<ellipse cx="231.5" cy="567.6" rx="4.9" ry="2.7" fill="#f6c184" opacity="0.85"/>
<circle cx="205" cy="572.2" r="2.8" fill="#b6e29c" opacity="0.9"/>
<ellipse cx="239" cy="576" rx="4" ry="1.5" fill="#f6c184"/>
<ellipse cx="248.4" cy="572.5" rx="1.6" ry="3.5" fill="#b6e29c"/>
<ellipse cx="261" cy="573.3" rx="4.4" ry="3.2" fill="#f6c184" opacity="0.85"/>
<ellipse cx="270.3" cy="568.6" rx="3.4" ry="2.9" fill="#f6c184" opacity="0.85"/>
<ellipse cx="275" cy="573.3" rx="3" ry="4.9" fill="#f6c184" opacity="0.85"/>
<ellipse cx="281.3" cy="571" rx="2.6" ry="5.9" fill="#f6c184" opacity="0.85"/>
<circle cx="284" cy="566" r="2.9" fill="#f6c184" opacity="0.9"/>
<circle cx="295.3" cy="566.3" r="1.5" fill="#b6e29c"/>
<ellipse cx="296" cy="564" rx="1.5" ry="1.2" fill="#f6c184"/>
<ellipse cx="323.4" cy="574" rx="5" ry="2.5" fill="#f6c184"/>
<ellipse cx="315.6" cy="572.5" rx="3" ry="1.8" fill="#b6e29c"/>
<circle cx="347.7" cy="559.5" r="3" fill="#b6e29c" opacity="0.9"/>
<ellipse cx="357" cy="562.3" rx="4.4" ry="5" fill="#f6c184" opacity="0.9"/>
<circle cx="359.4" cy="557.7" r="3.2" fill="#f6c184" opacity="0.9"/>
<ellipse cx="340.6" cy="542.8" rx="3" ry="1.3" fill="#f6c184"/>
<circle cx="339.8" cy="551" r="1.5" fill="#b6e29c"/>
<ellipse cx="418.3" cy="467.5" rx="4.2" ry="3.3" fill="#f6c184" opacity="0.9"/>
<ellipse cx="431.6" cy="463.6" rx="4.4" ry="2.9" fill="#f6c184" opacity="0.85"/>
<ellipse cx="434" cy="466.5" rx="2.9" ry="3.9" fill="#f6c184" opacity="0.85"/>
<ellipse cx="430.5" cy="471.9" rx="3.6" ry="5" fill="#f6c184" opacity="0.9"/>
<ellipse cx="429.2" cy="467.5" rx="3.4" ry="3.2" fill="#b6e29c" opacity="0.9"/>
<circle cx="425.3" cy="460.8" r="3.1" fill="#b6e29c" opacity="0.9"/>
<ellipse cx="431.6" cy="479.2" rx="1.8" ry="2.8" fill="#b6e29c"/>
<ellipse cx="391" cy="467.5" rx="2.7" ry="3.6" fill="#b6e29c" opacity="0.9"/>
<ellipse cx="401.9" cy="466" rx="3" ry="1.5" fill="#b6e29c"/>
<circle cx="408" cy="463" r="2.6" fill="#f6c184" opacity="0.85"/>
<circle cx="380" cy="467.5" r="1.3" fill="#b6e29c"/>
<circle cx="380" cy="455" r="1.3" fill="#b6e29c"/>
<ellipse cx="450.3" cy="471.9" rx="2" ry="1.5" fill="#b6e29c"/>
<circle cx="455" cy="471.9" r="1.5" fill="#b6e29c"/>
<circle cx="455" cy="467.2" r="2.7" fill="#f6c184" opacity="0.85"/>
<circle cx="399.5" cy="482.3" r="2.7" fill="#f6c184" opacity="0.85"/>
<circle cx="459.7" cy="489" r="2.9" fill="#f6c184" opacity="0.85"/>
<ellipse cx="357.3" cy="453.4" rx="2.5" ry="5.5" fill="#f6c184"/>
<ellipse cx="358" cy="503.4" rx="2.5" ry="4.5" fill="#f6c184"/>
<circle cx="356.6" cy="497.2" r="2.6" fill="#f6c184" opacity="0.85"/>
<circle cx="363.6" cy="498.8" r="1.3" fill="#b6e29c"/>
<ellipse cx="493.3" cy="441.7" rx="4.3" ry="3.3" fill="#b6e29c" opacity="0.9"/>
<circle cx="483" cy="452.7" r="2.8" fill="#b6e29c" opacity="0.9"/>
<ellipse cx="489.4" cy="454.2" rx="4" ry="3.8" fill="#f6c184" opacity="0.85"/>
<ellipse cx="494" cy="458" rx="1.5" ry="3.5" fill="#b6e29c"/>
<ellipse cx="496.4" cy="453.4" rx="2.7" ry="3" fill="#f6c184" opacity="0.85"/>
<ellipse cx="501.9" cy="440.2" rx="5" ry="2" fill="#f6c184"/>
<circle cx="511.3" cy="441" r="2" fill="#b6e29c"/>
<circle cx="473.8" cy="448.8" r="1.5" fill="#f6c184"/>
<circle cx="469" cy="455" r="1.3" fill="#b6e29c"/>
<ellipse cx="502.6" cy="494.8" rx="11" ry="1.5" fill="#f6c184" transform="rotate(28 502.6 494.8)" opacity="0.65"/>
<ellipse cx="454" cy="517" rx="3.5" ry="1.3" fill="#f6c184" transform="rotate(45 454 517)"/>
<ellipse cx="390" cy="526" rx="1.6" ry="3" fill="#b6e29c" transform="rotate(35 390 526)"/>
<circle cx="382.3" cy="531.6" r="1.5" fill="#b6e29c"/>
<circle cx="388.6" cy="536.3" r="1.5" fill="#f6c184"/>
<circle cx="393.3" cy="542.2" r="1.5" fill="#b6e29c"/>
<circle cx="401.9" cy="542.5" r="1.5" fill="#f6c184"/>
<circle cx="441" cy="523" r="1.3" fill="#b6e29c"/>
<circle cx="479.2" cy="531.6" r="1.3" fill="#b6e29c"/>
<ellipse cx="496.4" cy="533" rx="1.6" ry="3.5" fill="#b6e29c" transform="rotate(30 496.4 533)"/>
<circle cx="493.3" cy="537" r="1.5" fill="#b6e29c"/>
<ellipse cx="419" cy="543.3" rx="4.4" ry="6.4" fill="#f6c184" opacity="0.85"/>
<ellipse cx="423" cy="546.5" rx="4.4" ry="3.4" fill="#f6c184" opacity="0.85"/>
<ellipse cx="428.4" cy="541.3" rx="5.2" ry="3.6" fill="#f6c184" transform="rotate(-25 428.4 541.3)" opacity="0.9"/>
<circle cx="435.5" cy="540.6" r="3.4" fill="#f6c184" opacity="0.9"/>
<circle cx="422.2" cy="548.8" r="3.3" fill="#f6c184" opacity="0.9"/>
<circle cx="425.3" cy="538.6" r="1.2" fill="#b6e29c"/>
<circle cx="441.7" cy="544.8" r="2.6" fill="#f6c184" opacity="0.85"/>
<circle cx="444.8" cy="548.8" r="1.3" fill="#b6e29c"/>
<circle cx="448.8" cy="559.4" r="2.7" fill="#f6c184" opacity="0.85"/>
<ellipse cx="457.3" cy="561.3" rx="1.3" ry="3.5" fill="#b6e29c"/>
<circle cx="455" cy="565.2" r="2.6" fill="#f6c184" opacity="0.85"/>
<ellipse cx="481.6" cy="543.3" rx="5.3" ry="3.3" fill="#f6c184" opacity="0.9"/>
<ellipse cx="476" cy="546.4" rx="2.5" ry="3.5" fill="#b6e29c"/>
<ellipse cx="489.4" cy="546.4" rx="1" ry="2.5" fill="#b6e29c"/>
<circle cx="487.5" cy="556.9" r="3.6" fill="#b6e29c" opacity="0.9"/>
<ellipse cx="501" cy="552.7" rx="3.1" ry="4" fill="#b6e29c" opacity="0.9"/>
<circle cx="498" cy="553.4" r="2.6" fill="#f6c184" opacity="0.85"/>
<ellipse cx="497.2" cy="559.7" rx="4" ry="3" fill="#b6e29c"/>
<ellipse cx="501.9" cy="566" rx="6" ry="5" fill="#b6e29c" opacity="0.65"/>
<ellipse cx="360.5" cy="557.3" rx="4" ry="3.4" fill="#f6c184" opacity="0.9"/>
<circle cx="361.3" cy="561.3" r="3.3" fill="#b6e29c" opacity="0.9"/>
<ellipse cx="358" cy="562.8" rx="5.4" ry="4.9" fill="#f6c184" opacity="0.85"/>
<circle cx="366" cy="568.3" r="4.4" fill="#f6c184" opacity="0.85"/>
<circle cx="347.8" cy="559.4" r="3" fill="#b6e29c" opacity="0.9"/>
<ellipse cx="375.3" cy="559.6" rx="4.4" ry="3.2" fill="#b6e29c" opacity="0.9"/>
<ellipse cx="383" cy="568" rx="7.7" ry="9.2" fill="#b6e29c" opacity="0.85"/>
<ellipse cx="382.3" cy="567.5" rx="5.8" ry="7.8" fill="#b6e29c" opacity="0.9"/>
<ellipse cx="383.5" cy="566.5" rx="1.5" ry="2.5" fill="#b6e29c"/>
<ellipse cx="386.3" cy="575.3" rx="4.4" ry="3.4" fill="#b6e29c" opacity="0.9"/>
<circle cx="397.2" cy="562.8" r="5.4" fill="#f6c184" opacity="0.85"/>
<circle cx="401.9" cy="558" r="4.4" fill="#f6c184" opacity="0.85"/>
<ellipse cx="406.6" cy="555" rx="3" ry="2.5" fill="#f6c184"/>
<circle cx="446" cy="572" r="11.2" fill="#b6e29c" opacity="0.85"/>
<ellipse cx="443" cy="573" rx="8.8" ry="9.8" fill="#b6e29c" opacity="0.9"/>
<ellipse cx="444.8" cy="568.3" rx="3" ry="1.8" fill="#b6e29c"/>
<ellipse cx="436.4" cy="573.2" rx="4.2" ry="5.8" fill="#b6e29c" opacity="0.9"/>
<ellipse cx="480" cy="573.8" rx="7.7" ry="5.7" fill="#b6e29c" opacity="0.85"/>
<ellipse cx="480" cy="574.2" rx="5.3" ry="4.8" fill="#b6e29c" opacity="0.9"/>
<ellipse cx="479.7" cy="575.5" rx="3.9" ry="4" fill="#b6e29c" opacity="0.9"/>
<ellipse cx="495.6" cy="570.6" rx="4" ry="2.5" fill="#b6e29c"/>
<ellipse cx="511.3" cy="575.3" rx="5" ry="2" fill="#b6e29c"/>
<ellipse cx="525.6" cy="452.3" rx="10.4" ry="6.4" fill="#f6c184" opacity="0.85"/>
<ellipse cx="528" cy="450" rx="3.8" ry="3.6" fill="#f6c184" opacity="0.9"/>
<circle cx="519.4" cy="445.3" r="3.4" fill="#f6c184" opacity="0.85"/>
<ellipse cx="564.7" cy="438.3" rx="4.9" ry="3.9" fill="#f6c184" opacity="0.85"/>
<ellipse cx="560.8" cy="444.5" rx="3.8" ry="3.1" fill="#b6e29c" opacity="0.9"/>
<ellipse cx="558.4" cy="449.2" rx="4" ry="1.4" fill="#b6e29c"/>
<ellipse cx="575.6" cy="433.8" rx="5.4" ry="3" fill="#f6c184" opacity="0.85"/>
<ellipse cx="573.3" cy="451.3" rx="3.3" ry="4.2" fill="#b6e29c" opacity="0.9"/>
<circle cx="590.5" cy="457" r="3.4" fill="#f6c184" opacity="0.9"/>
<circle cx="592.8" cy="441.9" r="3.2" fill="#f6c184" opacity="0.9"/>
<circle cx="581.9" cy="448" r="2.7" fill="#f6c184" opacity="0.85"/>
<circle cx="584.2" cy="453" r="2.6" fill="#f6c184" opacity="0.85"/>
<circle cx="588" cy="454.7" r="2.6" fill="#f6c184" opacity="0.85"/>
<ellipse cx="577.5" cy="452.5" rx="2.4" ry="2.6" fill="#f6c184" opacity="0.85"/>
<circle cx="586.3" cy="459.4" r="2" fill="#b6e29c"/>
<ellipse cx="635.8" cy="446.9" rx="3.7" ry="4.3" fill="#b6e29c" opacity="0.9"/>
<circle cx="633.4" cy="450.8" r="2.8" fill="#b6e29c" opacity="0.9"/>
<circle cx="623.3" cy="454" r="3.2" fill="#f6c184" opacity="0.9"/>
<circle cx="626.4" cy="450" r="2.6" fill="#f6c184" opacity="0.85"/>
<circle cx="628.8" cy="456.3" r="5" fill="#b6e29c" opacity="0.65"/>
<ellipse cx="610" cy="489" rx="1.5" ry="4" fill="#b6e29c" transform="rotate(30 610 489)"/>
<circle cx="584" cy="497.7" r="3" fill="#f6c184" opacity="0.9"/>
<ellipse cx="586.5" cy="501.5" rx="1.2" ry="2.5" fill="#b6e29c"/>
<circle cx="560" cy="514.4" r="3" fill="#f6c184" opacity="0.9"/>
<ellipse cx="564" cy="512.2" rx="3.8" ry="2.8" fill="#f6c184" opacity="0.9"/>
<circle cx="569" cy="514.8" r="2.9" fill="#b6e29c" opacity="0.9"/>
<ellipse cx="558.4" cy="518.8" rx="3.3" ry="4.3" fill="#b6e29c" opacity="0.9"/>
<circle cx="551.7" cy="521.4" r="2.8" fill="#b6e29c" opacity="0.9"/>
<ellipse cx="539.2" cy="525" rx="3.3" ry="2.8" fill="#f6c184" opacity="0.9"/>
<ellipse cx="535" cy="516.4" rx="2.9" ry="2.6" fill="#f6c184" opacity="0.85"/>
<ellipse cx="545.2" cy="524.2" rx="2.4" ry="3.4" fill="#f6c184" opacity="0.85"/>
<ellipse cx="539" cy="531.3" rx="2.8" ry="4.2" fill="#f6c184" opacity="0.85"/>
<circle cx="532.7" cy="532" r="2.7" fill="#f6c184" opacity="0.85"/>
<ellipse cx="582.7" cy="523.4" rx="4.5" ry="1.6" fill="#b6e29c" transform="rotate(35 582.7 523.4)"/>
<circle cx="594.4" cy="532" r="1.3" fill="#b6e29c"/>
<circle cx="592.8" cy="531.3" r="1.2" fill="#f6c184"/>
<ellipse cx="578.8" cy="516.4" rx="5" ry="2" fill="#f6c184"/>
<ellipse cx="608.4" cy="536.7" rx="1.8" ry="3" fill="#b6e29c" transform="rotate(30 608.4 536.7)"/>
<ellipse cx="547.5" cy="544.5" rx="2" ry="1.5" fill="#b6e29c"/>
<circle cx="552.2" cy="546.6" r="1.5" fill="#b6e29c"/>
<ellipse cx="539.7" cy="542.2" rx="3.2" ry="4" fill="#f6c184" opacity="0.85"/>
<circle cx="543.6" cy="538.3" r="2.9" fill="#f6c184" opacity="0.85"/>
<ellipse cx="534.2" cy="548.4" rx="2.9" ry="4.4" fill="#f6c184" opacity="0.85"/>
<ellipse cx="569.4" cy="550" rx="1.8" ry="4" fill="#b6e29c"/>
<ellipse cx="624.8" cy="550" rx="2.8" ry="4.2" fill="#f6c184" opacity="0.9"/>
<circle cx="630.3" cy="549.2" r="2.7" fill="#f6c184" opacity="0.85"/>
<circle cx="635" cy="552.3" r="2.7" fill="#f6c184" opacity="0.85"/>
<circle cx="642.8" cy="550.8" r="2.9" fill="#f6c184" opacity="0.85"/>
<circle cx="628.8" cy="546" r="2.6" fill="#f6c184" opacity="0.85"/>
<circle cx="639.7" cy="550" r="1.3" fill="#b6e29c"/>
<circle cx="653.8" cy="540.6" r="2.7" fill="#f6c184" opacity="0.85"/>
<circle cx="660" cy="541.4" r="2.6" fill="#f6c184" opacity="0.85"/>
<circle cx="666.3" cy="553" r="3.2" fill="#f6c184" opacity="0.85"/>
<circle cx="652.2" cy="537.5" r="1.5" fill="#b6e29c"/>
<circle cx="657" cy="550" r="1.3" fill="#b6e29c"/>
<circle cx="660.8" cy="540.6" r="1.3" fill="#b6e29c"/>
<ellipse cx="646" cy="504" rx="5" ry="1.5" fill="#b6e29c"/>
<circle cx="639.7" cy="506.3" r="1.5" fill="#b6e29c"/>
<circle cx="635" cy="503" r="1.5" fill="#f6c184"/>
<ellipse cx="600.6" cy="558.6" rx="4.7" ry="6.2" fill="#b6e29c" opacity="0.85"/>
<ellipse cx="600.4" cy="558.4" rx="4" ry="5.3" fill="#b6e29c" opacity="0.9"/>
<ellipse cx="599.5" cy="562.6" rx="3.2" ry="3.8" fill="#b6e29c" opacity="0.9"/>
<ellipse cx="588" cy="561" rx="5" ry="1.8" fill="#f6c184"/>
<circle cx="627.2" cy="562.5" r="4" fill="#b6e29c" opacity="0.65"/>
<circle cx="635" cy="564" r="3" fill="#f6c184"/>
<ellipse cx="514.7" cy="572" rx="4" ry="2.2" fill="#b6e29c"/>
<ellipse cx="541.3" cy="572" rx="4.5" ry="2.8" fill="#b6e29c"/>
<circle cx="528.8" cy="548.4" r="1.5" fill="#f6c184"/>
<ellipse cx="664" cy="501.6" rx="2.8" ry="4.2" fill="#f6c184" opacity="0.85"/>
<ellipse cx="703.9" cy="478.9" rx="3.7" ry="6" fill="#f6c184" opacity="0.9"/>
<ellipse cx="709.4" cy="475.8" rx="5" ry="3.6" fill="#f6c184" opacity="0.9"/>
<ellipse cx="714.8" cy="482" rx="5" ry="4.8" fill="#f6c184" opacity="0.9"/>
<ellipse cx="721.9" cy="481" rx="4.4" ry="3.8" fill="#f6c184" transform="rotate(-30 721.9 481)" opacity="0.9"/>
<ellipse cx="704.7" cy="497.7" rx="4.1" ry="5.6" fill="#f6c184" opacity="0.9"/>
<ellipse cx="720.3" cy="501.9" rx="5.6" ry="4.8" fill="#f6c184" opacity="0.9"/>
<ellipse cx="725.3" cy="505.5" rx="3.2" ry="4.2" fill="#f6c184" opacity="0.9"/>
<ellipse cx="725" cy="488.3" rx="3.6" ry="4.1" fill="#f6c184" opacity="0.9"/>
<ellipse cx="743" cy="486" rx="3.6" ry="4.5" fill="#f6c184" opacity="0.9"/>
<ellipse cx="710.2" cy="461.7" rx="2.8" ry="3.2" fill="#f6c184" opacity="0.9"/>
<circle cx="706" cy="465.3" r="3.2" fill="#f6c184" opacity="0.9"/>
<circle cx="697.7" cy="474.2" r="3.3" fill="#f6c184" opacity="0.9"/>
<circle cx="679.7" cy="480.5" r="3.2" fill="#f6c184" opacity="0.9"/>
<ellipse cx="670.3" cy="497.7" rx="3.2" ry="4.2" fill="#f6c184" opacity="0.9"/>
<circle cx="702" cy="491.4" r="3.3" fill="#f6c184" opacity="0.9"/>
<circle cx="706" cy="490.6" r="3.2" fill="#f6c184" opacity="0.9"/>
<circle cx="698.4" cy="496" r="3.1" fill="#f6c184" opacity="0.9"/>
<circle cx="712.5" cy="498.4" r="3.1" fill="#f6c184" opacity="0.9"/>
<ellipse cx="716.9" cy="454" rx="2.4" ry="3.8" fill="#f6c184" opacity="0.85"/>
<circle cx="718.8" cy="458.6" r="2.5" fill="#f6c184" opacity="0.85"/>
<ellipse cx="700.8" cy="475.3" rx="3.7" ry="4.8" fill="#b6e29c" opacity="0.9"/>
<ellipse cx="679" cy="496.9" rx="5.2" ry="3.8" fill="#b6e29c" transform="rotate(30 679 496.9)" opacity="0.9"/>
<ellipse cx="739.5" cy="486.7" rx="4.4" ry="3.8" fill="#b6e29c" opacity="0.9"/>
<ellipse cx="703" cy="504" rx="3.8" ry="4.3" fill="#b6e29c" opacity="0.9"/>
<circle cx="726.6" cy="498" r="3.8" fill="#b6e29c" opacity="0.9"/>
<circle cx="728" cy="501.6" r="3.2" fill="#b6e29c" opacity="0.9"/>
<circle cx="710" cy="484.8" r="3.3" fill="#b6e29c" opacity="0.9"/>
<ellipse cx="706.3" cy="500" rx="3.3" ry="3.8" fill="#b6e29c" opacity="0.9"/>
<circle cx="714.8" cy="508.6" r="3.2" fill="#b6e29c" opacity="0.9"/>
<circle cx="732" cy="489" r="3.2" fill="#b6e29c" opacity="0.9"/>
<ellipse cx="682" cy="485" rx="9" ry="7" fill="#f6c184" opacity="0.65"/>
<circle cx="690" cy="470" r="2.7" fill="#f6c184" opacity="0.85"/>
<circle cx="694.5" cy="478" r="2.6" fill="#f6c184" opacity="0.85"/>
<circle cx="688" cy="490" r="2.7" fill="#f6c184" opacity="0.85"/>
<circle cx="693" cy="500" r="2.6" fill="#f6c184" opacity="0.85"/>
<circle cx="712" cy="470" r="2.7" fill="#f6c184" opacity="0.85"/>
<circle cx="718" cy="492" r="2.6" fill="#f6c184" opacity="0.85"/>
<circle cx="697" cy="485" r="2.7" fill="#f6c184" opacity="0.85"/>
<circle cx="730" cy="478" r="2.6" fill="#f6c184" opacity="0.85"/>
<circle cx="713" cy="504" r="2.6" fill="#f6c184" opacity="0.85"/>
<circle cx="692" cy="468" r="1.4" fill="#b6e29c"/>
<circle cx="686" cy="476" r="1.4" fill="#b6e29c"/>
<circle cx="722" cy="494" r="1.3" fill="#b6e29c"/>
<circle cx="733" cy="495" r="1.3" fill="#b6e29c"/>
<circle cx="709" cy="508" r="1.5" fill="#b6e29c"/>
<circle cx="695" cy="505" r="1.4" fill="#b6e29c"/>
<circle cx="736" cy="474" r="1.3" fill="#b6e29c"/>
<circle cx="716" cy="487.5" r="2.7" fill="#b6e29c" opacity="0.9"/>
<circle cx="690" cy="478.5" r="2.7" fill="#b6e29c" opacity="0.9"/>
<circle cx="723" cy="497" r="2.6" fill="#b6e29c" opacity="0.9"/>
<circle cx="671" cy="489" r="1.3" fill="#b6e29c"/>
<circle cx="700" cy="520" r="1.5" fill="#b6e29c"/>
<circle cx="665" cy="506" r="1.4" fill="#b6e29c"/>
<ellipse cx="791.9" cy="492.5" rx="4.8" ry="5.8" fill="#b6e29c" transform="rotate(-30 791.9 492.5)" opacity="0.9"/>
<circle cx="789" cy="486.7" r="3.8" fill="#b6e29c" opacity="0.9"/>
<ellipse cx="796.9" cy="477.7" rx="4.4" ry="4" fill="#b6e29c" transform="rotate(30 796.9 477.7)" opacity="0.9"/>
<ellipse cx="803.9" cy="493.3" rx="4.3" ry="3.8" fill="#b6e29c" opacity="0.9"/>
<circle cx="785.6" cy="465.6" r="3.4" fill="#b6e29c" opacity="0.9"/>
<circle cx="800" cy="465.6" r="3.4" fill="#b6e29c" opacity="0.9"/>
<ellipse cx="787.5" cy="509.4" rx="3.4" ry="3.9" fill="#b6e29c" opacity="0.9"/>
<circle cx="791.9" cy="497.7" r="3.4" fill="#b6e29c" opacity="0.9"/>
<circle cx="795.8" cy="464.8" r="3.3" fill="#f6c184" opacity="0.9"/>
<circle cx="798" cy="463" r="3.2" fill="#f6c184" opacity="0.9"/>
<ellipse cx="803.4" cy="484.7" rx="4.6" ry="3.6" fill="#f6c184" opacity="0.9"/>
<ellipse cx="786.7" cy="499.2" rx="4.2" ry="3.6" fill="#f6c184" opacity="0.9"/>
<ellipse cx="785.2" cy="506.3" rx="3.5" ry="5.1" fill="#f6c184" opacity="0.9"/>
<ellipse cx="797.2" cy="489.4" rx="2.8" ry="3.8" fill="#f6c184" opacity="0.9"/>
<ellipse cx="765.6" cy="463.8" rx="3.8" ry="3.3" fill="#f6c184" opacity="0.9"/>
<ellipse cx="772.7" cy="475" rx="2.8" ry="3.8" fill="#f6c184" opacity="0.9"/>
<ellipse cx="776.6" cy="542.5" rx="4.2" ry="3.4" fill="#f6c184" opacity="0.9"/>
<circle cx="763.6" cy="521" r="2.7" fill="#f6c184" opacity="0.85"/>
<circle cx="785.2" cy="514.8" r="2.9" fill="#b6e29c" opacity="0.9"/>
<circle cx="782.8" cy="497.7" r="2.8" fill="#b6e29c" opacity="0.9"/>
<ellipse cx="757.8" cy="482.8" rx="5" ry="1.5" fill="#b6e29c"/>
<ellipse cx="780" cy="500" rx="4" ry="9" fill="#f6c184" opacity="0.65"/>
<circle cx="777" cy="480" r="1.5" fill="#f6c184"/>
<circle cx="778" cy="507" r="2.6" fill="#f6c184" opacity="0.85"/>
<circle cx="781" cy="493" r="2.6" fill="#f6c184" opacity="0.85"/>
<circle cx="782" cy="519" r="1.5" fill="#b6e29c"/>
<circle cx="779" cy="488" r="1.4" fill="#b6e29c"/>
<circle cx="790" cy="476" r="1.5" fill="#b6e29c"/>
<circle cx="669.5" cy="540.6" r="3.4" fill="#f6c184" opacity="0.9"/>
<circle cx="674.2" cy="542.2" r="3.2" fill="#f6c184" opacity="0.9"/>
<ellipse cx="689" cy="532" rx="3.8" ry="4.2" fill="#f6c184" opacity="0.85"/>
<ellipse cx="685" cy="540.6" rx="4" ry="1.5" fill="#b6e29c"/>
<circle cx="688.3" cy="540.3" r="2.8" fill="#b6e29c" opacity="0.9"/>
<circle cx="693" cy="540.3" r="2.6" fill="#f6c184" opacity="0.85"/>
<circle cx="736" cy="540.6" r="2.8" fill="#b6e29c" opacity="0.9"/>
<circle cx="739.8" cy="543" r="3.5" fill="#b6e29c"/>
<circle cx="735" cy="545.3" r="2.7" fill="#f6c184" opacity="0.85"/>
<circle cx="736.7" cy="544.5" r="2.7" fill="#f6c184" opacity="0.9"/>
<ellipse cx="753" cy="536.7" rx="3.2" ry="4.2" fill="#f6c184" opacity="0.85"/>
<circle cx="748.4" cy="534.4" r="1.6" fill="#b6e29c"/>
<circle cx="743.8" cy="537.5" r="1.5" fill="#b6e29c"/>
<ellipse cx="775" cy="531.3" rx="4" ry="1.8" fill="#b6e29c"/>
<circle cx="779" cy="529.7" r="1.5" fill="#b6e29c"/>
<circle cx="763.3" cy="536" r="3" fill="#f6c184" opacity="0.9"/>
<circle cx="762.5" cy="540.6" r="2.8" fill="#b6e29c" opacity="0.9"/>
<ellipse cx="748.4" cy="556.3" rx="6" ry="4.5" fill="#b6e29c" opacity="0.65"/>
<ellipse cx="762.5" cy="557.8" rx="4" ry="3" fill="#b6e29c"/>
<ellipse cx="773.4" cy="559.4" rx="3" ry="3.5" fill="#f6c184"/>
<circle cx="736" cy="557.8" r="2.5" fill="#f6c184"/>
<circle cx="718" cy="559.4" r="3.2" fill="#f6c184" opacity="0.85"/>
<ellipse cx="665.6" cy="554.7" rx="3.2" ry="4" fill="#f6c184" opacity="0.85"/>
<circle cx="659.4" cy="550" r="2.7" fill="#f6c184" opacity="0.85"/>
<ellipse cx="728" cy="552" rx="3" ry="2.5" fill="#b6e29c"/>
<circle cx="700" cy="556" r="2" fill="#b6e29c"/>
<circle cx="705" cy="545" r="1.5" fill="#f6c184"/>
<ellipse cx="795" cy="548" rx="2" ry="3" fill="#b6e29c"/>
<circle cx="798" cy="541" r="1.5" fill="#b6e29c"/>
<ellipse cx="870.7" cy="450" rx="4.2" ry="3.7" fill="#f6c184" opacity="0.9"/>
<ellipse cx="869.3" cy="444.5" rx="3.4" ry="4.4" fill="#f6c184" opacity="0.85"/>
<ellipse cx="883.6" cy="449.4" rx="3.7" ry="4.2" fill="#f6c184" opacity="0.9"/>
<ellipse cx="878.5" cy="454.7" rx="4.2" ry="3.5" fill="#f6c184" opacity="0.9"/>
<ellipse cx="865.4" cy="476.2" rx="3.9" ry="3.4" fill="#b6e29c" opacity="0.9"/>
<circle cx="869.3" cy="473.8" r="3.2" fill="#b6e29c" opacity="0.9"/>
<circle cx="878" cy="473.4" r="3.1" fill="#b6e29c" opacity="0.9"/>
<circle cx="861" cy="477.3" r="3.7" fill="#f6c184" opacity="0.9"/>
<circle cx="872.7" cy="472.5" r="3.2" fill="#f6c184" opacity="0.9"/>
<circle cx="873.8" cy="475.4" r="2.8" fill="#f6c184" opacity="0.9"/>
<ellipse cx="893.4" cy="468.4" rx="3.2" ry="4.2" fill="#f6c184" transform="rotate(30 893.4 468.4)" opacity="0.9"/>
<circle cx="890.2" cy="480.7" r="2.6" fill="#f6c184" opacity="0.85"/>
<circle cx="856.3" cy="482.2" r="2.6" fill="#f6c184" opacity="0.85"/>
<ellipse cx="898.6" cy="477.7" rx="3" ry="1.4" fill="#b6e29c"/>
<ellipse cx="899.6" cy="460" rx="2.4" ry="4.4" fill="#f6c184" opacity="0.85"/>
<ellipse cx="895.3" cy="466" rx="2.4" ry="2.9" fill="#f6c184" opacity="0.85"/>
<circle cx="885.4" cy="444.5" r="2.8" fill="#b6e29c" opacity="0.9"/>
<circle cx="882" cy="441" r="1.5" fill="#b6e29c"/>
<circle cx="876" cy="462" r="1.5" fill="#b6e29c"/>
<circle cx="868" cy="458" r="2" fill="#b6e29c"/>
<ellipse cx="932.6" cy="465" rx="3" ry="8.4" fill="#f6c184" opacity="0.85"/>
<ellipse cx="928" cy="475" rx="5.9" ry="3" fill="#f6c184" transform="rotate(-32 928 475)" opacity="0.85"/>
<ellipse cx="926.3" cy="462" rx="1.8" ry="8" fill="#b6e29c" opacity="0.65"/>
<ellipse cx="921" cy="447" rx="2" ry="6" fill="#b6e29c"/>
<circle cx="944.9" cy="482.6" r="3" fill="#f6c184" opacity="0.9"/>
<circle cx="943.5" cy="482.2" r="3.1" fill="#b6e29c" opacity="0.9"/>
<circle cx="978.7" cy="467" r="2.6" fill="#f6c184" opacity="0.85"/>
<circle cx="975" cy="469" r="2.4" fill="#f6c184" opacity="0.85"/>
<circle cx="982.6" cy="468.4" r="2.7" fill="#b6e29c" opacity="0.9"/>
<ellipse cx="951.4" cy="477.3" rx="3" ry="1.1" fill="#b6e29c"/>
<circle cx="946" cy="479" r="1.3" fill="#b6e29c"/>
<circle cx="810.7" cy="467.4" r="3.4" fill="#f6c184" opacity="0.9"/>
<ellipse cx="803" cy="484.6" rx="4.2" ry="3.5" fill="#f6c184" opacity="0.9"/>
<ellipse cx="803.9" cy="493.4" rx="4.4" ry="3.7" fill="#b6e29c" opacity="0.9"/>
<circle cx="828.3" cy="493.4" r="2.6" fill="#f6c184" opacity="0.85"/>
<circle cx="835.2" cy="498.2" r="2.6" fill="#f6c184" opacity="0.85"/>
<circle cx="845" cy="491" r="2.6" fill="#f6c184" opacity="0.85"/>
<circle cx="821.5" cy="503.7" r="3.2" fill="#f6c184" opacity="0.9"/>
<ellipse cx="826.4" cy="503.7" rx="3.9" ry="3.2" fill="#b6e29c" opacity="0.9"/>
<circle cx="814.6" cy="509" r="2.6" fill="#f6c184" opacity="0.85"/>
<ellipse cx="838" cy="495" rx="6" ry="2" fill="#f6c184" transform="rotate(-20 838 495)"/>
<circle cx="812" cy="515" r="2" fill="#b6e29c"/>
<circle cx="842" cy="502" r="1.5" fill="#b6e29c"/>
<ellipse cx="872.7" cy="514.5" rx="4.2" ry="3.7" fill="#f6c184" opacity="0.9"/>
<ellipse cx="866.4" cy="513.9" rx="2.8" ry="4.2" fill="#f6c184" opacity="0.9"/>
<circle cx="879" cy="513" r="2.6" fill="#f6c184" opacity="0.85"/>
<circle cx="888.9" cy="511" r="3.9" fill="#b6e29c" opacity="0.9"/>
<circle cx="892.4" cy="508" r="3.2" fill="#b6e29c" opacity="0.9"/>
<ellipse cx="889.8" cy="514" rx="3.7" ry="3.2" fill="#f6c184" opacity="0.9"/>
<ellipse cx="902.5" cy="510" rx="2.4" ry="3.8" fill="#f6c184" opacity="0.85"/>
<ellipse cx="876.2" cy="531.4" rx="3.9" ry="3.4" fill="#b6e29c" opacity="0.9"/>
<ellipse cx="864.5" cy="531.4" rx="3.4" ry="3.9" fill="#b6e29c" opacity="0.9"/>
<circle cx="860.5" cy="538.3" r="2.6" fill="#f6c184" opacity="0.85"/>
<ellipse cx="860" cy="518" rx="5" ry="3" fill="#f6c184" opacity="0.65"/>
<circle cx="898" cy="508" r="1.3" fill="#b6e29c"/>
<ellipse cx="822.5" cy="542.8" rx="3.7" ry="3.2" fill="#f6c184" opacity="0.9"/>
<circle cx="849.8" cy="548.4" r="2.6" fill="#f6c184" opacity="0.85"/>
<circle cx="851.2" cy="542.2" r="2.4" fill="#f6c184" opacity="0.85"/>
<circle cx="808.8" cy="542.8" r="3.2" fill="#f6c184" opacity="0.9"/>
<ellipse cx="825.4" cy="548" rx="5" ry="2" fill="#b6e29c"/>
<circle cx="806.8" cy="544.1" r="3.1" fill="#b6e29c" opacity="0.9"/>
<ellipse cx="828" cy="541" rx="20" ry="5" fill="#f6c184" opacity="0.65"/>
<circle cx="943.9" cy="531.8" r="3.7" fill="#f6c184" opacity="0.9"/>
<ellipse cx="972" cy="516" rx="7.7" ry="8.2" fill="#b6e29c" opacity="0.85"/>
<ellipse cx="970.9" cy="516.8" rx="6.3" ry="6.8" fill="#b6e29c" opacity="0.9"/>
<ellipse cx="967.6" cy="519.7" rx="4.4" ry="3.9" fill="#b6e29c" opacity="0.9"/>
<ellipse cx="911.7" cy="542.2" rx="3.9" ry="4.4" fill="#b6e29c" opacity="0.9"/>
<ellipse cx="928" cy="544.5" rx="6.4" ry="3.4" fill="#b6e29c" opacity="0.9"/>
<circle cx="921" cy="547" r="3.3" fill="#b6e29c" opacity="0.9"/>
<ellipse cx="913" cy="557" rx="9.2" ry="6.2" fill="#b6e29c" opacity="0.85"/>
<ellipse cx="911.3" cy="557.8" rx="6.3" ry="5.3" fill="#b6e29c" opacity="0.9"/>
<ellipse cx="925" cy="516.8" rx="4" ry="2" fill="#b6e29c"/>
<circle cx="897.7" cy="543.2" r="1.5" fill="#b6e29c"/>
<circle cx="887.9" cy="543.2" r="2.8" fill="#b6e29c" opacity="0.9"/>
<ellipse cx="905" cy="530" rx="6" ry="3" fill="#f6c184" transform="rotate(30 905 530)" opacity="0.65"/>
<circle cx="983.6" cy="496.3" r="3.4" fill="#f6c184" opacity="0.85"/>
<ellipse cx="991" cy="460.5" rx="2.5" ry="3" fill="#f6c184"/>
<ellipse cx="940" cy="540" rx="4" ry="3" fill="#b6e29c"/>
<ellipse cx="950" cy="546" rx="3" ry="2" fill="#b6e29c"/>
<ellipse cx="936" cy="526" rx="4.4" ry="3.4" fill="#f6c184" opacity="0.85"/>
<ellipse cx="985" cy="482" rx="3" ry="4" fill="#b6e29c"/>
<ellipse cx="960" cy="459" rx="6" ry="3" fill="#f6c184" opacity="0.65"/>
<polygon points="50.5,460 54.4,460.8 57.5,463.1 56.7,465.5 52.8,466.7 50.5,466.3" fill="#f6c184" stroke="#f6c184" stroke-width="5" stroke-linejoin="round" opacity="0.9"/>
<polygon points="211.7,572.5 215.6,569.4 220.3,567.8 225.8,567 228.9,567.8 225,571 225,578 217.2,579.5 213.3,579.5 212.5,576.4" fill="#f6c184" stroke="#f6c184" stroke-width="5" stroke-linejoin="round" opacity="0.9"/>
<polygon points="364.4,567.5 369,564.4 375.3,563.6 376.9,567.5 373.8,569.8 369,571.4 365.2,570.6" fill="#f6c184" stroke="#f6c184" stroke-width="5" stroke-linejoin="round" opacity="0.9"/>
<polygon points="386.3,557.3 391,556.6 393.3,561.3 394,566 391.7,567.5 388.6,562.8 386.3,560.5" fill="#f6c184" stroke="#f6c184" stroke-width="5" stroke-linejoin="round" opacity="0.9"/>
<polygon points="853.7,463 858.6,459.8 861.5,459.8 859.6,466 855.7,468.4 853.1,466" fill="#b6e29c" stroke="#b6e29c" stroke-width="5" stroke-linejoin="round" opacity="0.9"/>
<polygon points="875.8,469 878,466 883,469.5 877,471.9" fill="#b6e29c" stroke="#b6e29c" stroke-width="5" stroke-linejoin="round" opacity="0.9"/>
<polygon points="810.7,538.3 814.6,536.3 817.6,539.3 818.6,543.2 814.6,542.2 810.7,540.2" fill="#f6c184" stroke="#f6c184" stroke-width="5" stroke-linejoin="round" opacity="0.9"/>
<polygon points="829.3,541.2 833.2,538.3 837.1,536.3 839,540.2 844.9,541.2 845.9,544.1 840,545.1 833.2,543.2" fill="#f6c184" stroke="#f6c184" stroke-width="5" stroke-linejoin="round" opacity="0.9"/>
<polygon points="952.3,509 956.3,507 960.2,510 959.8,514.8 957.8,518.8 957.2,526.6 954.3,532.4 951.4,531.4 952.3,522.7 953.3,514.8" fill="#f6c184" stroke="#f6c184" stroke-width="5" stroke-linejoin="round" opacity="0.9"/>
<polygon points="936.3,515.8 942.6,513.9 949.4,512.9 952.3,516.8 951.4,523.6 947.5,526.6 942.6,522.7 938.7,519.7" fill="#b6e29c" stroke="#b6e29c" stroke-width="5" stroke-linejoin="round" opacity="0.9"/>
<polygon points="954.3,531.4 962.1,531.4 962.5,535.9 956.3,534.4" fill="#b6e29c" stroke="#b6e29c" stroke-width="5" stroke-linejoin="round" opacity="0.9"/>
<polygon points="909.4,535.4 917.2,534.4 921,531.4 927,530.5 928.9,528.5 936.7,529.5 937.7,534.4 935.7,538.3 928.9,537.3 925,539.3 919.1,538.3 911.3,537.3" fill="#f6c184" stroke="#f6c184" stroke-width="5" stroke-linejoin="round" opacity="0.9"/>
<polygon points="903.5,541.2 907,538.3 908.4,542.2 905.5,545.1 901.6,544.5" fill="#b6e29c" stroke="#b6e29c" stroke-width="5" stroke-linejoin="round" opacity="0.9"/>
<polygon points="916.2,552 922,551 921,554.9 917.2,553.9" fill="#b6e29c" stroke="#b6e29c" stroke-width="5" stroke-linejoin="round" opacity="0.9"/>
<polygon points="927,548 930.9,547 934.8,552 930.9,554.9 928,552.9" fill="#f6c184" stroke="#f6c184" stroke-width="5" stroke-linejoin="round" opacity="0.9"/></g>
<g filter="url(#b2)"><circle cx="63.4" cy="467.8" r="1.2" fill="#6fc3a6"/>
<circle cx="112.5" cy="486.6" r="2.3" fill="#f7a866"/>
<circle cx="114.8" cy="482.3" r="1.2" fill="#f7a866"/>
<circle cx="116.9" cy="488.9" r="1.2" fill="#f7a866"/>
<circle cx="164" cy="472" r="1.1" fill="#6fc3a6"/>
<circle cx="176.7" cy="472" r="2" fill="#f7a866"/>
<ellipse cx="181" cy="476" rx="1.2" ry="1.8" fill="#f7a866"/>
<circle cx="170.5" cy="493.3" r="2" fill="#f7a866"/>
<circle cx="157.8" cy="497.5" r="1.5" fill="#f7a866"/>
<circle cx="200.5" cy="508" r="1.3" fill="#f7a866"/>
<ellipse cx="120" cy="550.3" rx="3.6" ry="2.8" fill="#f7a866" transform="rotate(-45 120 550.3)"/>
<circle cx="83.8" cy="561.3" r="1.3" fill="#6fc3a6"/>
<circle cx="146.9" cy="559.5" r="2.3" fill="#6fc3a6"/>
<circle cx="155.2" cy="548.8" r="1.3" fill="#f7a866"/>
<circle cx="161" cy="548.3" r="1.3" fill="#f7a866"/>
<ellipse cx="109.8" cy="564.7" rx="2.6" ry="2" fill="#f7a866"/>
<circle cx="116.9" cy="542" r="1.3" fill="#f7a866"/>
<ellipse cx="110" cy="573.6" rx="8" ry="2" fill="#9fd89c"/>
<ellipse cx="111.5" cy="573.8" rx="3" ry="1.2" fill="#6fc3a6"/>
<ellipse cx="112.6" cy="574.6" rx="2.2" ry="2" fill="#6fc3a6"/>
<ellipse cx="173.1" cy="581.1" rx="3" ry="3.8" fill="#f7a866"/>
<ellipse cx="162.2" cy="578" rx="1.5" ry="2.5" fill="#f7a866"/>
<circle cx="176.3" cy="585.8" r="2" fill="#f7a866"/>
<ellipse cx="146.6" cy="584.2" rx="1.6" ry="3.5" fill="#f7a866"/>
<circle cx="189.5" cy="568.1" r="1.3" fill="#f7a866"/>
<ellipse cx="200.5" cy="569.7" rx="2.1" ry="1.9" fill="#f7a866"/>
<circle cx="213.3" cy="476" r="1.9" fill="#f7a866"/>
<ellipse cx="217.2" cy="478" rx="1.2" ry="1" fill="#f7a866"/>
<ellipse cx="215.3" cy="482.3" rx="3.8" ry="2.2" fill="#f7a866"/>
<ellipse cx="213.8" cy="493.6" rx="3.7" ry="2.5" fill="#6fc3a6"/>
<circle cx="337.5" cy="486.9" r="2.2" fill="#f7a866"/>
<ellipse cx="357.8" cy="503" rx="1.5" ry="2" fill="#f7a866"/>
<circle cx="217.2" cy="557.2" r="1.8" fill="#f7a866"/>
<ellipse cx="211" cy="574" rx="4" ry="5" fill="#f7a866" opacity="0.75"/>
<ellipse cx="231.5" cy="567.6" rx="3.5" ry="1.3" fill="#f7a866"/>
<circle cx="205" cy="572.2" r="1" fill="#6fc3a6"/>
<ellipse cx="261" cy="573.3" rx="3" ry="1.8" fill="#f7a866"/>
<ellipse cx="270.3" cy="568.6" rx="2" ry="1.5" fill="#f7a866"/>
<ellipse cx="275" cy="573.3" rx="1.6" ry="3.5" fill="#f7a866"/>
<ellipse cx="281.3" cy="571" rx="1.2" ry="4.5" fill="#f7a866"/>
<circle cx="284" cy="566" r="1.9" fill="#f7a866"/>
<circle cx="347.7" cy="559.5" r="1.2" fill="#6fc3a6"/>
<ellipse cx="357" cy="562.3" rx="3.4" ry="4" fill="#f7a866"/>
<circle cx="359.4" cy="557.7" r="2" fill="#f7a866"/>
<ellipse cx="418.3" cy="467.5" rx="3" ry="2.1" fill="#f7a866"/>
<ellipse cx="431.6" cy="463.6" rx="3" ry="1.5" fill="#f7a866"/>
<ellipse cx="434" cy="466.5" rx="1.5" ry="2.5" fill="#f7a866"/>
<ellipse cx="430.5" cy="471.9" rx="2.4" ry="3.8" fill="#f7a866"/>
<ellipse cx="429.2" cy="467.5" rx="2.1" ry="1.9" fill="#6fc3a6"/>
<circle cx="425.3" cy="460.8" r="1.8" fill="#6fc3a6"/>
<ellipse cx="391" cy="467.5" rx="0.9" ry="1.8" fill="#6fc3a6"/>
<circle cx="408" cy="463" r="1.2" fill="#f7a866"/>
<circle cx="455" cy="467.2" r="1.3" fill="#f7a866"/>
<circle cx="399.5" cy="482.3" r="1.3" fill="#f7a866"/>
<circle cx="459.7" cy="489" r="1.5" fill="#f7a866"/>
<circle cx="356.6" cy="497.2" r="1.2" fill="#f7a866"/>
<ellipse cx="493.3" cy="441.7" rx="2.5" ry="1.5" fill="#6fc3a6"/>
<circle cx="483" cy="452.7" r="1" fill="#6fc3a6"/>
<ellipse cx="489.4" cy="454.2" rx="2.6" ry="2.4" fill="#f7a866"/>
<ellipse cx="496.4" cy="453.4" rx="1.3" ry="1.6" fill="#f7a866"/>
<ellipse cx="419" cy="543.3" rx="3" ry="5" fill="#f7a866"/>
<ellipse cx="423" cy="546.5" rx="3" ry="2" fill="#f7a866"/>
<ellipse cx="428.4" cy="541.3" rx="4" ry="2.4" fill="#f7a866" transform="rotate(-25 428.4 541.3)"/>
<circle cx="435.5" cy="540.6" r="2.2" fill="#f7a866"/>
<circle cx="422.2" cy="548.8" r="2.3" fill="#f7a866"/>
<circle cx="441.7" cy="544.8" r="1.2" fill="#f7a866"/>
<circle cx="448.8" cy="559.4" r="1.3" fill="#f7a866"/>
<circle cx="455" cy="565.2" r="1.2" fill="#f7a866"/>
<ellipse cx="481.6" cy="543.3" rx="4.3" ry="2.3" fill="#f7a866"/>
<circle cx="487.5" cy="556.9" r="2.3" fill="#6fc3a6"/>
<ellipse cx="501" cy="552.7" rx="1.3" ry="2.2" fill="#6fc3a6"/>
<circle cx="498" cy="553.4" r="1.2" fill="#f7a866"/>
<ellipse cx="360.5" cy="557.3" rx="2.8" ry="2.2" fill="#f7a866"/>
<circle cx="361.3" cy="561.3" r="2" fill="#6fc3a6"/>
<ellipse cx="358" cy="562.8" rx="4" ry="3.5" fill="#f7a866"/>
<circle cx="366" cy="568.3" r="3" fill="#f7a866"/>
<circle cx="347.8" cy="559.4" r="1.2" fill="#6fc3a6"/>
<ellipse cx="375.3" cy="559.6" rx="3.1" ry="1.9" fill="#6fc3a6"/>
<ellipse cx="383" cy="568" rx="6.5" ry="8" fill="#9fd89c"/>
<ellipse cx="382.3" cy="567.5" rx="4" ry="6" fill="#6fc3a6"/>
<ellipse cx="386.3" cy="575.3" rx="3.1" ry="2.1" fill="#6fc3a6"/>
<circle cx="397.2" cy="562.8" r="4" fill="#f7a866"/>
<circle cx="401.9" cy="558" r="3" fill="#f7a866"/>
<circle cx="446" cy="572" r="10" fill="#9fd89c"/>
<ellipse cx="443" cy="573" rx="7" ry="8" fill="#6fc3a6"/>
<ellipse cx="436.4" cy="573.2" rx="2.9" ry="4.5" fill="#6fc3a6"/>
<ellipse cx="480" cy="573.8" rx="6.5" ry="4.5" fill="#9fd89c"/>
<ellipse cx="480" cy="574.2" rx="3.5" ry="3" fill="#6fc3a6"/>
<ellipse cx="479.7" cy="575.5" rx="2.6" ry="2.7" fill="#6fc3a6"/>
<ellipse cx="525.6" cy="452.3" rx="9" ry="5" fill="#f7a866" opacity="0.75"/>
<ellipse cx="528" cy="450" rx="2.8" ry="2.6" fill="#f7a866"/>
<circle cx="519.4" cy="445.3" r="2" fill="#f7a866"/>
<ellipse cx="564.7" cy="438.3" rx="3.5" ry="2.5" fill="#f7a866"/>
<ellipse cx="560.8" cy="444.5" rx="2" ry="1.3" fill="#6fc3a6"/>
<ellipse cx="575.6" cy="433.8" rx="4" ry="1.6" fill="#f7a866"/>
<ellipse cx="573.3" cy="451.3" rx="2" ry="2.9" fill="#6fc3a6"/>
<circle cx="590.5" cy="457" r="2.2" fill="#f7a866"/>
<circle cx="592.8" cy="441.9" r="2" fill="#f7a866"/>
<circle cx="581.9" cy="448" r="1.3" fill="#f7a866"/>
<circle cx="584.2" cy="453" r="1.2" fill="#f7a866"/>
<circle cx="588" cy="454.7" r="1.2" fill="#f7a866"/>
<ellipse cx="577.5" cy="452.5" rx="1" ry="1.2" fill="#f7a866"/>
<ellipse cx="635.8" cy="446.9" rx="2.4" ry="3" fill="#6fc3a6"/>
<circle cx="633.4" cy="450.8" r="1" fill="#6fc3a6"/>
<circle cx="623.3" cy="454" r="2.2" fill="#f7a866"/>
<circle cx="626.4" cy="450" r="1.2" fill="#f7a866"/>
<circle cx="584" cy="497.7" r="2" fill="#f7a866"/>
<circle cx="560" cy="514.4" r="2" fill="#f7a866"/>
<ellipse cx="564" cy="512.2" rx="2.8" ry="1.8" fill="#f7a866"/>
<circle cx="569" cy="514.8" r="1.1" fill="#6fc3a6"/>
<ellipse cx="558.4" cy="518.8" rx="1.5" ry="2.5" fill="#6fc3a6"/>
<circle cx="551.7" cy="521.4" r="1" fill="#6fc3a6"/>
<ellipse cx="539.2" cy="525" rx="2.3" ry="1.8" fill="#f7a866"/>
<ellipse cx="535" cy="516.4" rx="1.5" ry="1.2" fill="#f7a866"/>
<ellipse cx="545.2" cy="524.2" rx="1" ry="2" fill="#f7a866"/>
<ellipse cx="539" cy="531.3" rx="1.4" ry="2.8" fill="#f7a866"/>
<circle cx="532.7" cy="532" r="1.3" fill="#f7a866"/>
<ellipse cx="539.7" cy="542.2" rx="1.8" ry="2.6" fill="#f7a866"/>
<circle cx="543.6" cy="538.3" r="1.5" fill="#f7a866"/>
<ellipse cx="534.2" cy="548.4" rx="1.5" ry="3" fill="#f7a866"/>
<ellipse cx="624.8" cy="550" rx="1.8" ry="3.2" fill="#f7a866"/>
<circle cx="630.3" cy="549.2" r="1.3" fill="#f7a866"/>
<circle cx="635" cy="552.3" r="1.3" fill="#f7a866"/>
<circle cx="642.8" cy="550.8" r="1.5" fill="#f7a866"/>
<circle cx="628.8" cy="546" r="1.2" fill="#f7a866"/>
<circle cx="653.8" cy="540.6" r="1.3" fill="#f7a866"/>
<circle cx="660" cy="541.4" r="1.2" fill="#f7a866"/>
<circle cx="666.3" cy="553" r="1.8" fill="#f7a866"/>
<ellipse cx="600.6" cy="558.6" rx="3.5" ry="5" fill="#9fd89c"/>
<ellipse cx="600.4" cy="558.4" rx="2.2" ry="3.5" fill="#6fc3a6"/>
<ellipse cx="599.5" cy="562.6" rx="1.9" ry="2.5" fill="#6fc3a6"/>
<ellipse cx="664" cy="501.6" rx="1.4" ry="2.8" fill="#f7a866"/>
<ellipse cx="703.9" cy="478.9" rx="2.5" ry="4.8" fill="#f7a866"/>
<ellipse cx="709.4" cy="475.8" rx="3.8" ry="2.4" fill="#f7a866"/>
<ellipse cx="714.8" cy="482" rx="3.8" ry="3.6" fill="#f7a866"/>
<ellipse cx="721.9" cy="481" rx="3.2" ry="2.6" fill="#f7a866" transform="rotate(-30 721.9 481)"/>
<ellipse cx="704.7" cy="497.7" rx="2.9" ry="4.4" fill="#f7a866"/>
<ellipse cx="720.3" cy="501.9" rx="4.4" ry="3.6" fill="#f7a866"/>
<ellipse cx="725.3" cy="505.5" rx="2" ry="3" fill="#f7a866"/>
<ellipse cx="725" cy="488.3" rx="2.4" ry="2.9" fill="#f7a866"/>
<ellipse cx="743" cy="486" rx="2.4" ry="3.3" fill="#f7a866"/>
<ellipse cx="710.2" cy="461.7" rx="1.8" ry="2.2" fill="#f7a866"/>
<circle cx="706" cy="465.3" r="2" fill="#f7a866"/>
<circle cx="697.7" cy="474.2" r="2.1" fill="#f7a866"/>
<circle cx="679.7" cy="480.5" r="2" fill="#f7a866"/>
<ellipse cx="670.3" cy="497.7" rx="2.2" ry="3.2" fill="#f7a866"/>
<circle cx="702" cy="491.4" r="2.1" fill="#f7a866"/>
<circle cx="706" cy="490.6" r="2" fill="#f7a866"/>
<circle cx="698.4" cy="496" r="2.1" fill="#f7a866"/>
<circle cx="712.5" cy="498.4" r="2.1" fill="#f7a866"/>
<ellipse cx="716.9" cy="454" rx="1" ry="2.4" fill="#f7a866"/>
<circle cx="718.8" cy="458.6" r="1.1" fill="#f7a866"/>
<ellipse cx="700.8" cy="475.3" rx="2.4" ry="3.5" fill="#6fc3a6"/>
<ellipse cx="679" cy="496.9" rx="3.9" ry="2.5" fill="#6fc3a6" transform="rotate(30 679 496.9)"/>
<ellipse cx="739.5" cy="486.7" rx="3.1" ry="2.5" fill="#6fc3a6"/>
<ellipse cx="703" cy="504" rx="2.5" ry="3" fill="#6fc3a6"/>
<circle cx="726.6" cy="498" r="2.5" fill="#6fc3a6"/>
<circle cx="728" cy="501.6" r="1.9" fill="#6fc3a6"/>
<circle cx="710" cy="484.8" r="2" fill="#6fc3a6"/>
<ellipse cx="706.3" cy="500" rx="2" ry="2.5" fill="#6fc3a6"/>
<circle cx="714.8" cy="508.6" r="1.9" fill="#6fc3a6"/>
<circle cx="732" cy="489" r="1.9" fill="#6fc3a6"/>
<circle cx="690" cy="470" r="1.3" fill="#f7a866"/>
<circle cx="694.5" cy="478" r="1.2" fill="#f7a866"/>
<circle cx="688" cy="490" r="1.3" fill="#f7a866"/>
<circle cx="693" cy="500" r="1.2" fill="#f7a866"/>
<circle cx="712" cy="470" r="1.3" fill="#f7a866"/>
<circle cx="718" cy="492" r="1.2" fill="#f7a866"/>
<circle cx="697" cy="485" r="1.3" fill="#f7a866"/>
<circle cx="730" cy="478" r="1.2" fill="#f7a866"/>
<circle cx="713" cy="504" r="1.2" fill="#f7a866"/>
<circle cx="716" cy="487.5" r="0.9" fill="#6fc3a6"/>
<circle cx="690" cy="478.5" r="0.9" fill="#6fc3a6"/>
<circle cx="723" cy="497" r="0.8" fill="#6fc3a6"/>
<ellipse cx="791.9" cy="492.5" rx="3.5" ry="4.5" fill="#6fc3a6" transform="rotate(-30 791.9 492.5)"/>
<circle cx="789" cy="486.7" r="2.5" fill="#6fc3a6"/>
<ellipse cx="796.9" cy="477.7" rx="3.1" ry="2.7" fill="#6fc3a6" transform="rotate(30 796.9 477.7)"/>
<ellipse cx="803.9" cy="493.3" rx="3" ry="2.5" fill="#6fc3a6"/>
<circle cx="785.6" cy="465.6" r="2.1" fill="#6fc3a6"/>
<circle cx="800" cy="465.6" r="2.1" fill="#6fc3a6"/>
<ellipse cx="787.5" cy="509.4" rx="2.1" ry="2.6" fill="#6fc3a6"/>
<circle cx="791.9" cy="497.7" r="2.1" fill="#6fc3a6"/>
<circle cx="795.8" cy="464.8" r="2.1" fill="#f7a866"/>
<circle cx="798" cy="463" r="2" fill="#f7a866"/>
<ellipse cx="803.4" cy="484.7" rx="3.4" ry="2.4" fill="#f7a866"/>
<ellipse cx="786.7" cy="499.2" rx="3" ry="2.4" fill="#f7a866"/>
<ellipse cx="785.2" cy="506.3" rx="2.3" ry="3.9" fill="#f7a866"/>
<ellipse cx="797.2" cy="489.4" rx="1.8" ry="2.8" fill="#f7a866"/>
<ellipse cx="765.6" cy="463.8" rx="2.8" ry="2.3" fill="#f7a866"/>
<ellipse cx="772.7" cy="475" rx="1.8" ry="2.8" fill="#f7a866"/>
<ellipse cx="776.6" cy="542.5" rx="3" ry="2.2" fill="#f7a866"/>
<circle cx="763.6" cy="521" r="1.3" fill="#f7a866"/>
<circle cx="785.2" cy="514.8" r="1.1" fill="#6fc3a6"/>
<circle cx="782.8" cy="497.7" r="1" fill="#6fc3a6"/>
<circle cx="778" cy="507" r="1.2" fill="#f7a866"/>
<circle cx="781" cy="493" r="1.2" fill="#f7a866"/>
<circle cx="669.5" cy="540.6" r="2.2" fill="#f7a866"/>
<circle cx="674.2" cy="542.2" r="2" fill="#f7a866"/>
<ellipse cx="689" cy="532" rx="2.4" ry="2.8" fill="#f7a866"/>
<circle cx="688.3" cy="540.3" r="1" fill="#6fc3a6"/>
<circle cx="693" cy="540.3" r="1.2" fill="#f7a866"/>
<circle cx="736" cy="540.6" r="1" fill="#6fc3a6"/>
<circle cx="735" cy="545.3" r="1.3" fill="#f7a866"/>
<circle cx="736.7" cy="544.5" r="1.7" fill="#f7a866"/>
<ellipse cx="753" cy="536.7" rx="1.8" ry="2.8" fill="#f7a866"/>
<circle cx="763.3" cy="536" r="2" fill="#f7a866"/>
<circle cx="762.5" cy="540.6" r="1" fill="#6fc3a6"/>
<circle cx="718" cy="559.4" r="1.8" fill="#f7a866"/>
<ellipse cx="665.6" cy="554.7" rx="1.8" ry="2.6" fill="#f7a866"/>
<circle cx="659.4" cy="550" r="1.3" fill="#f7a866"/>
<ellipse cx="870.7" cy="450" rx="3" ry="2.5" fill="#f7a866"/>
<ellipse cx="869.3" cy="444.5" rx="2" ry="3" fill="#f7a866"/>
<ellipse cx="883.6" cy="449.4" rx="2.5" ry="3" fill="#f7a866"/>
<ellipse cx="878.5" cy="454.7" rx="3" ry="2.3" fill="#f7a866"/>
<ellipse cx="865.4" cy="476.2" rx="2.6" ry="2.1" fill="#6fc3a6"/>
<circle cx="869.3" cy="473.8" r="1.9" fill="#6fc3a6"/>
<circle cx="878" cy="473.4" r="1.8" fill="#6fc3a6"/>
<circle cx="861" cy="477.3" r="2.5" fill="#f7a866"/>
<circle cx="872.7" cy="472.5" r="2" fill="#f7a866"/>
<circle cx="873.8" cy="475.4" r="1.8" fill="#f7a866"/>
<ellipse cx="893.4" cy="468.4" rx="2" ry="3" fill="#f7a866" transform="rotate(30 893.4 468.4)"/>
<circle cx="890.2" cy="480.7" r="1.2" fill="#f7a866"/>
<circle cx="856.3" cy="482.2" r="1.2" fill="#f7a866"/>
<ellipse cx="899.6" cy="460" rx="1" ry="3" fill="#f7a866"/>
<ellipse cx="895.3" cy="466" rx="1" ry="1.5" fill="#f7a866"/>
<circle cx="885.4" cy="444.5" r="1" fill="#6fc3a6"/>
<ellipse cx="932.6" cy="465" rx="1.6" ry="7" fill="#f7a866"/>
<ellipse cx="928" cy="475" rx="4.5" ry="1.6" fill="#f7a866" transform="rotate(-32 928 475)"/>
<circle cx="944.9" cy="482.6" r="1.8" fill="#f7a866"/>
<circle cx="943.5" cy="482.2" r="1.8" fill="#6fc3a6"/>
<circle cx="978.7" cy="467" r="1.2" fill="#f7a866"/>
<circle cx="975" cy="469" r="1" fill="#f7a866"/>
<circle cx="982.6" cy="468.4" r="0.9" fill="#6fc3a6"/>
<circle cx="810.7" cy="467.4" r="2.2" fill="#f7a866"/>
<ellipse cx="803" cy="484.6" rx="3" ry="2.3" fill="#f7a866"/>
<ellipse cx="803.9" cy="493.4" rx="3.1" ry="2.4" fill="#6fc3a6"/>
<circle cx="828.3" cy="493.4" r="1.2" fill="#f7a866"/>
<circle cx="835.2" cy="498.2" r="1.2" fill="#f7a866"/>
<circle cx="845" cy="491" r="1.2" fill="#f7a866"/>
<circle cx="821.5" cy="503.7" r="2" fill="#f7a866"/>
<ellipse cx="826.4" cy="503.7" rx="2.6" ry="1.9" fill="#6fc3a6"/>
<circle cx="814.6" cy="509" r="1.2" fill="#f7a866"/>
<ellipse cx="872.7" cy="514.5" rx="3" ry="2.5" fill="#f7a866"/>
<ellipse cx="866.4" cy="513.9" rx="1.8" ry="3.2" fill="#f7a866"/>
<circle cx="879" cy="513" r="1.2" fill="#f7a866"/>
<circle cx="888.9" cy="511" r="2.6" fill="#6fc3a6"/>
<circle cx="892.4" cy="508" r="1.9" fill="#6fc3a6"/>
<ellipse cx="889.8" cy="514" rx="2.5" ry="2" fill="#f7a866"/>
<ellipse cx="902.5" cy="510" rx="1" ry="2.4" fill="#f7a866"/>
<ellipse cx="876.2" cy="531.4" rx="2.6" ry="2.1" fill="#6fc3a6"/>
<ellipse cx="864.5" cy="531.4" rx="2.1" ry="2.6" fill="#6fc3a6"/>
<circle cx="860.5" cy="538.3" r="1.2" fill="#f7a866"/>
<ellipse cx="822.5" cy="542.8" rx="2.5" ry="2" fill="#f7a866"/>
<circle cx="849.8" cy="548.4" r="1.2" fill="#f7a866"/>
<circle cx="851.2" cy="542.2" r="1" fill="#f7a866"/>
<circle cx="808.8" cy="542.8" r="2" fill="#f7a866"/>
<circle cx="806.8" cy="544.1" r="1.8" fill="#6fc3a6"/>
<circle cx="943.9" cy="531.8" r="2.5" fill="#f7a866"/>
<ellipse cx="972" cy="516" rx="6.5" ry="7" fill="#9fd89c"/>
<ellipse cx="970.9" cy="516.8" rx="4.5" ry="5" fill="#6fc3a6"/>
<ellipse cx="967.6" cy="519.7" rx="3.1" ry="2.6" fill="#6fc3a6"/>
<ellipse cx="911.7" cy="542.2" rx="2.6" ry="3.1" fill="#6fc3a6"/>
<ellipse cx="928" cy="544.5" rx="5.1" ry="2.1" fill="#6fc3a6"/>
<circle cx="921" cy="547" r="2" fill="#6fc3a6"/>
<ellipse cx="913" cy="557" rx="8" ry="5" fill="#9fd89c"/>
<ellipse cx="911.3" cy="557.8" rx="4.5" ry="3.5" fill="#6fc3a6"/>
<circle cx="887.9" cy="543.2" r="1" fill="#6fc3a6"/>
<circle cx="983.6" cy="496.3" r="2" fill="#f7a866"/>
<ellipse cx="936" cy="526" rx="3" ry="2" fill="#f7a866"/>
<polygon points="50.5,460 54.4,460.8 57.5,463.1 56.7,465.5 52.8,466.7 50.5,466.3" fill="#f7a866" stroke="#f7a866" stroke-width="2.2" stroke-linejoin="round"/>
<polygon points="211.7,572.5 215.6,569.4 220.3,567.8 225.8,567 228.9,567.8 225,571 225,578 217.2,579.5 213.3,579.5 212.5,576.4" fill="#f7a866" stroke="#f7a866" stroke-width="2.2" stroke-linejoin="round"/>
<polygon points="364.4,567.5 369,564.4 375.3,563.6 376.9,567.5 373.8,569.8 369,571.4 365.2,570.6" fill="#f7a866" stroke="#f7a866" stroke-width="2.2" stroke-linejoin="round"/>
<polygon points="386.3,557.3 391,556.6 393.3,561.3 394,566 391.7,567.5 388.6,562.8 386.3,560.5" fill="#f7a866" stroke="#f7a866" stroke-width="2.2" stroke-linejoin="round"/>
<polygon points="853.7,463 858.6,459.8 861.5,459.8 859.6,466 855.7,468.4 853.1,466" fill="#6fc3a6" stroke="#6fc3a6" stroke-width="2.2" stroke-linejoin="round"/>
<polygon points="875.8,469 878,466 883,469.5 877,471.9" fill="#6fc3a6" stroke="#6fc3a6" stroke-width="2.2" stroke-linejoin="round"/>
<polygon points="810.7,538.3 814.6,536.3 817.6,539.3 818.6,543.2 814.6,542.2 810.7,540.2" fill="#f7a866" stroke="#f7a866" stroke-width="2.2" stroke-linejoin="round"/>
<polygon points="829.3,541.2 833.2,538.3 837.1,536.3 839,540.2 844.9,541.2 845.9,544.1 840,545.1 833.2,543.2" fill="#f7a866" stroke="#f7a866" stroke-width="2.2" stroke-linejoin="round"/>
<polygon points="952.3,509 956.3,507 960.2,510 959.8,514.8 957.8,518.8 957.2,526.6 954.3,532.4 951.4,531.4 952.3,522.7 953.3,514.8" fill="#f7a866" stroke="#f7a866" stroke-width="2.2" stroke-linejoin="round"/>
<polygon points="936.3,515.8 942.6,513.9 949.4,512.9 952.3,516.8 951.4,523.6 947.5,526.6 942.6,522.7 938.7,519.7" fill="#6fc3a6" stroke="#6fc3a6" stroke-width="2.2" stroke-linejoin="round"/>
<polygon points="954.3,531.4 962.1,531.4 962.5,535.9 956.3,534.4" fill="#6fc3a6" stroke="#6fc3a6" stroke-width="2.2" stroke-linejoin="round"/>
<polygon points="909.4,535.4 917.2,534.4 921,531.4 927,530.5 928.9,528.5 936.7,529.5 937.7,534.4 935.7,538.3 928.9,537.3 925,539.3 919.1,538.3 911.3,537.3" fill="#f7a866" stroke="#f7a866" stroke-width="2.2" stroke-linejoin="round"/>
<polygon points="903.5,541.2 907,538.3 908.4,542.2 905.5,545.1 901.6,544.5" fill="#6fc3a6" stroke="#6fc3a6" stroke-width="2.2" stroke-linejoin="round"/>
<polygon points="916.2,552 922,551 921,554.9 917.2,553.9" fill="#6fc3a6" stroke="#6fc3a6" stroke-width="2.2" stroke-linejoin="round"/>
<polygon points="927,548 930.9,547 934.8,552 930.9,554.9 928,552.9" fill="#f7a866" stroke="#f7a866" stroke-width="2.2" stroke-linejoin="round"/></g>
<g filter="url(#jag)"><polygon points="50.5,460 54.4,460.8 57.5,463.1 56.7,465.5 52.8,466.7 50.5,466.3" fill="#fb0a04"/>
<polygon points="211.7,572.5 215.6,569.4 220.3,567.8 225.8,567 228.9,567.8 225,571 225,578 217.2,579.5 213.3,579.5 212.5,576.4" fill="#fb0a04"/>
<polygon points="364.4,567.5 369,564.4 375.3,563.6 376.9,567.5 373.8,569.8 369,571.4 365.2,570.6" fill="#fb0a04"/>
<polygon points="386.3,557.3 391,556.6 393.3,561.3 394,566 391.7,567.5 388.6,562.8 386.3,560.5" fill="#fb0a04"/>
<polygon points="853.7,463 858.6,459.8 861.5,459.8 859.6,466 855.7,468.4 853.1,466" fill="#0a50f0"/>
<polygon points="875.8,469 878,466 883,469.5 877,471.9" fill="#0a50f0"/>
<polygon points="810.7,538.3 814.6,536.3 817.6,539.3 818.6,543.2 814.6,542.2 810.7,540.2" fill="#fb0a04"/>
<polygon points="829.3,541.2 833.2,538.3 837.1,536.3 839,540.2 844.9,541.2 845.9,544.1 840,545.1 833.2,543.2" fill="#fb0a04"/>
<polygon points="952.3,509 956.3,507 960.2,510 959.8,514.8 957.8,518.8 957.2,526.6 954.3,532.4 951.4,531.4 952.3,522.7 953.3,514.8" fill="#fb0a04"/>
<polygon points="936.3,515.8 942.6,513.9 949.4,512.9 952.3,516.8 951.4,523.6 947.5,526.6 942.6,522.7 938.7,519.7" fill="#0a50f0"/>
<polygon points="954.3,531.4 962.1,531.4 962.5,535.9 956.3,534.4" fill="#0a50f0"/>
<polygon points="909.4,535.4 917.2,534.4 921,531.4 927,530.5 928.9,528.5 936.7,529.5 937.7,534.4 935.7,538.3 928.9,537.3 925,539.3 919.1,538.3 911.3,537.3" fill="#fb0a04"/>
<polygon points="903.5,541.2 907,538.3 908.4,542.2 905.5,545.1 901.6,544.5" fill="#0a50f0"/>
<polygon points="916.2,552 922,551 921,554.9 917.2,553.9" fill="#0a50f0"/>
<polygon points="927,548 930.9,547 934.8,552 930.9,554.9 928,552.9" fill="#fb0a04"/></g>
<g filter="url(#b3)"><circle cx="112.5" cy="486.6" r="1.3" fill="#fb0a04"/>
<circle cx="176.7" cy="472" r="1.2" fill="#f4562c"/>
<circle cx="170.5" cy="493.3" r="1.2" fill="#f4562c"/>
<ellipse cx="120" cy="550.3" rx="2.6" ry="1.8" fill="#fb0a04" transform="rotate(-45 120 550.3)"/>
<circle cx="146.9" cy="559.5" r="1.2" fill="#0a50f0"/>
<ellipse cx="112.6" cy="574.6" rx="1.1" ry="0.9" fill="#0a50f0"/>
<ellipse cx="173.1" cy="581.1" rx="2.2" ry="3" fill="#f4562c"/>
<ellipse cx="200.5" cy="569.7" rx="1.3" ry="1.1" fill="#f4562c"/>
<circle cx="213.3" cy="476" r="0.9" fill="#fb0a04"/>
<ellipse cx="215.3" cy="482.3" rx="2.8" ry="1.2" fill="#fb0a04"/>
<ellipse cx="213.8" cy="493.6" rx="2.6" ry="1.4" fill="#0a50f0"/>
<circle cx="337.5" cy="486.9" r="1.2" fill="#fb0a04"/>
<circle cx="217.2" cy="557.2" r="1" fill="#f4562c"/>
<circle cx="284" cy="566" r="1.1" fill="#f4562c"/>
<ellipse cx="357" cy="562.3" rx="2.6" ry="3.2" fill="#f4562c"/>
<circle cx="359.4" cy="557.7" r="1" fill="#fb0a04"/>
<ellipse cx="418.3" cy="467.5" rx="2" ry="1.1" fill="#fb0a04"/>
<ellipse cx="430.5" cy="471.9" rx="1.4" ry="2.8" fill="#fb0a04"/>
<ellipse cx="429.2" cy="467.5" rx="1" ry="0.8" fill="#0a50f0"/>
<circle cx="425.3" cy="460.8" r="0.7" fill="#0a50f0"/>
<ellipse cx="428.4" cy="541.3" rx="3" ry="1.4" fill="#fb0a04" transform="rotate(-25 428.4 541.3)"/>
<circle cx="435.5" cy="540.6" r="1.2" fill="#fb0a04"/>
<circle cx="422.2" cy="548.8" r="1.5" fill="#f4562c"/>
<ellipse cx="481.6" cy="543.3" rx="3.5" ry="1.5" fill="#f4562c"/>
<circle cx="487.5" cy="556.9" r="1.2" fill="#0a50f0"/>
<ellipse cx="360.5" cy="557.3" rx="1.8" ry="1.2" fill="#fb0a04"/>
<circle cx="361.3" cy="561.3" r="0.9" fill="#0a50f0"/>
<ellipse cx="375.3" cy="559.6" rx="2" ry="0.8" fill="#0a50f0"/>
<ellipse cx="386.3" cy="575.3" rx="2" ry="1" fill="#0a50f0"/>
<ellipse cx="436.4" cy="573.2" rx="1.8" ry="3.4" fill="#0a50f0"/>
<ellipse cx="479.7" cy="575.5" rx="1.5" ry="1.6" fill="#0a50f0"/>
<ellipse cx="528" cy="450" rx="2" ry="1.8" fill="#f4562c"/>
<ellipse cx="573.3" cy="451.3" rx="0.9" ry="1.8" fill="#0a50f0"/>
<circle cx="590.5" cy="457" r="1.2" fill="#fb0a04"/>
<circle cx="592.8" cy="441.9" r="1" fill="#fb0a04"/>
<ellipse cx="635.8" cy="446.9" rx="1.3" ry="1.9" fill="#0a50f0"/>
<circle cx="623.3" cy="454" r="1.4" fill="#f4562c"/>
<circle cx="584" cy="497.7" r="1.2" fill="#f4562c"/>
<circle cx="560" cy="514.4" r="1.2" fill="#f4562c"/>
<ellipse cx="564" cy="512.2" rx="2" ry="1" fill="#f4562c"/>
<ellipse cx="539.2" cy="525" rx="1.5" ry="1" fill="#f4562c"/>
<ellipse cx="624.8" cy="550" rx="1" ry="2.4" fill="#f4562c"/>
<ellipse cx="599.5" cy="562.6" rx="0.8" ry="1.4" fill="#0a50f0"/>
<ellipse cx="703.9" cy="478.9" rx="1.5" ry="3.8" fill="#fb0a04"/>
<ellipse cx="709.4" cy="475.8" rx="2.8" ry="1.4" fill="#fb0a04"/>
<ellipse cx="714.8" cy="482" rx="2.8" ry="2.6" fill="#fb0a04"/>
<ellipse cx="721.9" cy="481" rx="2.2" ry="1.6" fill="#fb0a04" transform="rotate(-30 721.9 481)"/>
<ellipse cx="704.7" cy="497.7" rx="1.9" ry="3.4" fill="#fb0a04"/>
<ellipse cx="720.3" cy="501.9" rx="3.4" ry="2.6" fill="#fb0a04"/>
<ellipse cx="725.3" cy="505.5" rx="1" ry="2" fill="#fb0a04"/>
<ellipse cx="725" cy="488.3" rx="1.4" ry="1.9" fill="#fb0a04"/>
<ellipse cx="743" cy="486" rx="1.4" ry="2.3" fill="#fb0a04"/>
<ellipse cx="710.2" cy="461.7" rx="1" ry="1.4" fill="#f4562c"/>
<circle cx="706" cy="465.3" r="1" fill="#fb0a04"/>
<circle cx="697.7" cy="474.2" r="1.1" fill="#fb0a04"/>
<circle cx="679.7" cy="480.5" r="1" fill="#fb0a04"/>
<ellipse cx="670.3" cy="497.7" rx="1.4" ry="2.4" fill="#f4562c"/>
<circle cx="702" cy="491.4" r="1.1" fill="#fb0a04"/>
<circle cx="706" cy="490.6" r="1" fill="#fb0a04"/>
<circle cx="698.4" cy="496" r="1.3" fill="#f4562c"/>
<circle cx="712.5" cy="498.4" r="1.3" fill="#f4562c"/>
<ellipse cx="700.8" cy="475.3" rx="1.3" ry="2.4" fill="#0a50f0"/>
<ellipse cx="679" cy="496.9" rx="2.8" ry="1.4" fill="#0a50f0" transform="rotate(30 679 496.9)"/>
<ellipse cx="739.5" cy="486.7" rx="2" ry="1.4" fill="#0a50f0"/>
<ellipse cx="703" cy="504" rx="1.4" ry="1.9" fill="#0a50f0"/>
<circle cx="726.6" cy="498" r="1.4" fill="#0a50f0"/>
<circle cx="728" cy="501.6" r="0.8" fill="#0a50f0"/>
<circle cx="710" cy="484.8" r="0.9" fill="#0a50f0"/>
<ellipse cx="706.3" cy="500" rx="0.9" ry="1.4" fill="#0a50f0"/>
<circle cx="714.8" cy="508.6" r="0.8" fill="#0a50f0"/>
<circle cx="732" cy="489" r="0.8" fill="#0a50f0"/>
<ellipse cx="791.9" cy="492.5" rx="2.4" ry="3.4" fill="#0a50f0" transform="rotate(-30 791.9 492.5)"/>
<circle cx="789" cy="486.7" r="1.4" fill="#0a50f0"/>
<ellipse cx="796.9" cy="477.7" rx="2" ry="1.6" fill="#0a50f0" transform="rotate(30 796.9 477.7)"/>
<ellipse cx="803.9" cy="493.3" rx="1.9" ry="1.4" fill="#0a50f0"/>
<circle cx="785.6" cy="465.6" r="1" fill="#0a50f0"/>
<circle cx="800" cy="465.6" r="1" fill="#0a50f0"/>
<ellipse cx="787.5" cy="509.4" rx="1" ry="1.5" fill="#0a50f0"/>
<circle cx="791.9" cy="497.7" r="1" fill="#0a50f0"/>
<circle cx="795.8" cy="464.8" r="1.1" fill="#fb0a04"/>
<circle cx="798" cy="463" r="1" fill="#fb0a04"/>
<ellipse cx="803.4" cy="484.7" rx="2.4" ry="1.4" fill="#fb0a04"/>
<ellipse cx="786.7" cy="499.2" rx="2" ry="1.4" fill="#fb0a04"/>
<ellipse cx="785.2" cy="506.3" rx="1.3" ry="2.9" fill="#fb0a04"/>
<ellipse cx="797.2" cy="489.4" rx="1" ry="2" fill="#f4562c"/>
<ellipse cx="765.6" cy="463.8" rx="2" ry="1.5" fill="#f4562c"/>
<ellipse cx="772.7" cy="475" rx="1" ry="2" fill="#f4562c"/>
<ellipse cx="776.6" cy="542.5" rx="2" ry="1.2" fill="#fb0a04"/>
<circle cx="669.5" cy="540.6" r="1.2" fill="#fb0a04"/>
<circle cx="674.2" cy="542.2" r="1" fill="#fb0a04"/>
<circle cx="736.7" cy="544.5" r="0.9" fill="#f4562c"/>
<circle cx="763.3" cy="536" r="1.2" fill="#f4562c"/>
<ellipse cx="870.7" cy="450" rx="2" ry="1.5" fill="#fb0a04"/>
<ellipse cx="883.6" cy="449.4" rx="1.5" ry="2" fill="#fb0a04"/>
<ellipse cx="878.5" cy="454.7" rx="2" ry="1.3" fill="#fb0a04"/>
<ellipse cx="865.4" cy="476.2" rx="1.5" ry="1" fill="#0a50f0"/>
<circle cx="869.3" cy="473.8" r="0.8" fill="#0a50f0"/>
<circle cx="878" cy="473.4" r="0.7" fill="#0a50f0"/>
<circle cx="861" cy="477.3" r="1.5" fill="#fb0a04"/>
<circle cx="872.7" cy="472.5" r="1" fill="#fb0a04"/>
<circle cx="873.8" cy="475.4" r="1" fill="#f4562c"/>
<ellipse cx="893.4" cy="468.4" rx="1" ry="2" fill="#fb0a04" transform="rotate(30 893.4 468.4)"/>
<circle cx="944.9" cy="482.6" r="0.8" fill="#fb0a04"/>
<circle cx="943.5" cy="482.2" r="0.7" fill="#0a50f0"/>
<circle cx="810.7" cy="467.4" r="1.2" fill="#fb0a04"/>
<ellipse cx="803" cy="484.6" rx="2" ry="1.3" fill="#fb0a04"/>
<ellipse cx="803.9" cy="493.4" rx="2" ry="1.3" fill="#0a50f0"/>
<circle cx="821.5" cy="503.7" r="1" fill="#fb0a04"/>
<ellipse cx="826.4" cy="503.7" rx="1.5" ry="0.8" fill="#0a50f0"/>
<ellipse cx="872.7" cy="514.5" rx="2" ry="1.5" fill="#fb0a04"/>
<ellipse cx="866.4" cy="513.9" rx="1" ry="2.4" fill="#f4562c"/>
<circle cx="888.9" cy="511" r="1.5" fill="#0a50f0"/>
<circle cx="892.4" cy="508" r="0.8" fill="#0a50f0"/>
<ellipse cx="889.8" cy="514" rx="1.5" ry="1" fill="#fb0a04"/>
<ellipse cx="876.2" cy="531.4" rx="1.5" ry="1" fill="#0a50f0"/>
<ellipse cx="864.5" cy="531.4" rx="1" ry="1.5" fill="#0a50f0"/>
<ellipse cx="822.5" cy="542.8" rx="1.5" ry="1" fill="#fb0a04"/>
<circle cx="808.8" cy="542.8" r="1" fill="#fb0a04"/>
<circle cx="806.8" cy="544.1" r="0.7" fill="#0a50f0"/>
<circle cx="943.9" cy="531.8" r="1.5" fill="#fb0a04"/>
<ellipse cx="967.6" cy="519.7" rx="2" ry="1.5" fill="#0a50f0"/>
<ellipse cx="911.7" cy="542.2" rx="1.5" ry="2" fill="#0a50f0"/>
<ellipse cx="928" cy="544.5" rx="4" ry="1" fill="#0a50f0"/>
<circle cx="921" cy="547" r="0.9" fill="#0a50f0"/></g>
</g>
<text x="360.3" y="410" font-size="28" fill="#000" textLength="306" lengthAdjust="spacingAndGlyphs">Concentrated variations</text>
<line x1="361.5" y1="414.4" x2="660" y2="414.4" stroke="#000" stroke-width="1.8"/>
<line x1="371.5" y1="414.4" x2="223.5" y2="477" stroke="#000" stroke-width="2.2"/>
<line x1="371.5" y1="414.4" x2="221" y2="564.9" stroke="#000" stroke-width="1.3"/>
<line x1="371.5" y1="414.4" x2="375.8" y2="555.8" stroke="#000" stroke-width="2.1"/>
<line x1="371.5" y1="414.4" x2="425.6" y2="529.5" stroke="#000" stroke-width="1.5"/>
<line x1="371.5" y1="414.4" x2="418" y2="460.5" stroke="#000" stroke-width="2.2"/>
<line x1="435.5" y1="553" x2="438.8" y2="560.8" stroke="#000" stroke-width="2"/>
<line x1="539.5" y1="454.2" x2="572" y2="451.6" stroke="#000" stroke-width="2"/>
<line x1="659.3" y1="414.4" x2="600" y2="451" stroke="#000" stroke-width="2.1"/>
<line x1="659.3" y1="414.4" x2="597" y2="549.6" stroke="#000" stroke-width="1.7"/>
<line x1="659.3" y1="414.4" x2="681" y2="451.5" stroke="#000" stroke-width="2.2"/>
<line x1="659.3" y1="414.4" x2="847.5" y2="457.5" stroke="#000" stroke-width="2.2"/>
<line x1="659.3" y1="414.4" x2="903.8" y2="519.8" stroke="#000" stroke-width="1.7"/>
<line x1="856.3" y1="530" x2="888.8" y2="512" stroke="#000" stroke-width="2.2"/>
<circle cx="212" cy="484.3" r="13.8" fill="none" stroke="#111" stroke-width="1.3"/>
<circle cx="213.8" cy="577" r="13.8" fill="none" stroke="#111" stroke-width="1.3"/>
<circle cx="376.3" cy="569.6" r="13.8" fill="none" stroke="#111" stroke-width="1.3"/>
<circle cx="427.3" cy="470.9" r="13.8" fill="none" stroke="#111" stroke-width="1.3"/>
<circle cx="425.4" cy="543" r="13.8" fill="none" stroke="#111" stroke-width="1.3"/>
<circle cx="439.3" cy="574.6" r="13.8" fill="none" stroke="#111" stroke-width="1.3"/>
<circle cx="525.5" cy="454.6" r="13.8" fill="none" stroke="#111" stroke-width="1.3"/>
<circle cx="585.7" cy="451.3" r="13.8" fill="none" stroke="#111" stroke-width="1.3"/>
<circle cx="596.3" cy="563.3" r="13.8" fill="none" stroke="#111" stroke-width="1.3"/>
<circle cx="704.8" cy="487.1" r="42" fill="none" stroke="#111" stroke-width="1.5"/>
<circle cx="876.9" cy="465.6" r="30.7" fill="none" stroke="#111" stroke-width="1.5"/>
<rect x="803.6" y="527" width="53" height="27.9" rx="11" fill="none" stroke="#111" stroke-width="1.4"/>
<rect x="877.8" y="510.6" width="105.2" height="42.6" rx="21.3" fill="none" stroke="#111" stroke-width="1.5" transform="rotate(-31 930.4 531.9)"/>
</g>
<g id="mapB">
<text x="13.5" y="652" font-size="34.5" font-weight="bold" fill="#000">B</text>
<rect x="46.3" y="693.8" width="943" height="158.2" fill="#fff" stroke="#c4c4c4" stroke-width="1.2"/>
<path d="M67.5 693.8v-11.3M67.5 852v11.5M153.2 693.8v-11.3M153.2 852v11.5M238.9 693.8v-11.3M238.9 852v11.5M324.6 693.8v-11.3M324.6 852v11.5M410.3 693.8v-11.3M410.3 852v11.5M496 693.8v-11.3M496 852v11.5M581.7 693.8v-11.3M581.7 852v11.5M667.4 693.8v-11.3M667.4 852v11.5M753.1 693.8v-11.3M753.1 852v11.5M838.8 693.8v-11.3M838.8 852v11.5M924.5 693.8v-11.3M924.5 852v11.5M46.3 706.8h-11.5M989.3 706.8h11.5M46.3 749.5h-11.5M989.3 749.5h11.5M46.3 792.3h-11.5M989.3 792.3h11.5M46.3 835.2h-11.5M989.3 835.2h11.5" stroke="#c4c4c4" stroke-width="1.2" fill="none"/>
<path d="M12 708.6h1.2M12 751h1.2M12 793.6h1.2M12 836h1.2" stroke="#d4d4d4" stroke-width="1.2" fill="none"/>
<polygon points="46.3,713.6 62.5,713.6 66.4,709.6 85.9,709 88.8,712.6 92.7,716.5 104.5,716 112.3,714.5 127.9,713.6 131.8,711.6 155.2,711.6 159,713.6 167,711.6 215.8,712.2 218.7,710.6 247.6,709.5 251.5,712.5 276.9,712.5 280.8,709.5 288.6,707.6 298.4,709.5 312,709.5 316,707.6 331.6,708 335.5,710.5 341.3,709.5 347.2,705.6 355,703.3 370.6,702.7 374.5,700.7 398,700.7 401.9,703.7 413.6,703.3 420,704.5 431.7,703 445.4,701.6 459,700.6 470.8,699 484.5,698.3 509.8,696.7 529.4,694.8 537.2,693.8 592.5,694.5 610,697.8 639.3,699.6 644.2,703.6 649,702.6 656.9,697.7 660.8,695.7 697.9,695.7 701.8,693.8 725.2,693.8 727.2,695.7 744.8,695.7 750.6,701.6 760.4,710.4 764.3,712.3 778,712.3 781.9,716.3 819.5,717.8 824.4,721 834.2,723 839,724 846.9,727 850.8,724 856.6,722 862.5,718.2 863.5,708.4 862.5,702.6 866.4,695.7 872.3,694.4 909.4,694.4 915.2,698.7 918.2,704.5 917.2,712.3 921,718.2 925,720.2 928.9,716.3 936.7,715.9 956.3,715.9 962.1,719.2 971.9,720.2 988.5,720.2 988.5,743.6 985.5,747.5 984.6,755.3 979.7,763 976.8,771 973.8,778.8 972.9,786.6 968,787.5 966,790.5 958.2,794.4 957.2,802.2 952.3,806 946.5,809 936.7,811 928.9,812 923,815.9 917.2,817.8 899.6,817.8 895.7,813.9 886,814.9 878,815.9 872.3,817.8 866.4,819.8 860.5,822.7 856.6,821.7 850,821.5 810,820.7 785.8,820.7 766.3,821.3 746.7,820.7 727.2,822.7 715.5,821.7 705.7,820.7 694,819.8 688,819.4 674.5,819.8 660.8,820.7 655,823.7 645.2,822.7 637.3,823.7 629.5,822.7 625.6,819.8 611.4,820.7 599.7,821.3 591.9,819.8 582.1,821.3 572.3,822.7 564.5,821.7 556.7,820.7 545,820.7 535.2,819.8 531.3,821.7 525.5,824 511.8,823.7 498,824.6 484.5,826.6 468.8,829.5 459,828.6 445.4,829.5 437.6,827.6 431.7,821.7 425.9,814.9 425.3,812 417.5,811 411.6,815 405.8,818.9 400,820.9 393.1,824.8 392.1,830.6 388.2,834.5 378.4,834.5 374.5,830.6 362.8,831.6 345.2,832.6 341.3,836.5 331.6,837.5 321.8,833.6 312,835.5 298.4,836.5 288.6,839.4 280.8,835.5 272,834.5 263.2,835.5 255.4,838.8 240,839.5 223.6,840.5 211.9,839.5 208,843.4 202.1,847.3 174.8,851.3 168.9,849.3 165,844.4 155.2,843.4 151.7,845.4 151.3,851.3 127.9,851.3 122,848.3 115.2,842.5 108.4,838.6 100.5,836.6 94.7,840.5 88.8,846.4 79,847.3 74.2,846.4 68.3,839.5 67.3,831.7 61.1,822 60.5,810.2 55.6,804.4 54.6,792.7 51.7,781 48.8,769.2 46.3,753.6" fill="#c0c0c0" stroke="#c0c0c0" stroke-width="1" stroke-linejoin="round"/>
<polygon points="46.3,713.6 62.5,713.6 66.4,709.6 85.9,709 88.8,712.6 92.7,716.5 104.5,716 112.3,714.5 127.9,713.6 131.8,711.6 155.2,711.6 159,713.6 167,711.6 215.8,712.2 218.7,710.6 247.6,709.5 251.5,712.5 276.9,712.5 280.8,709.5 288.6,707.6 298.4,709.5 312,709.5 316,707.6 331.6,708 335.5,710.5 341.3,709.5 347.2,705.6 355,703.3 370.6,702.7 374.5,700.7 398,700.7 401.9,703.7 413.6,703.3 420,704.5 431.7,703 445.4,701.6 459,700.6 470.8,699 484.5,698.3 509.8,696.7 529.4,694.8 537.2,693.8 592.5,694.5 610,697.8 639.3,699.6 644.2,703.6 649,702.6 656.9,697.7 660.8,695.7 697.9,695.7 701.8,693.8 725.2,693.8 727.2,695.7 744.8,695.7 750.6,701.6 760.4,710.4 764.3,712.3 778,712.3 781.9,716.3 819.5,717.8 824.4,721 834.2,723 839,724 846.9,727 850.8,724 856.6,722 862.5,718.2 863.5,708.4 862.5,702.6 866.4,695.7 872.3,694.4 909.4,694.4 915.2,698.7 918.2,704.5 917.2,712.3 921,718.2 925,720.2 928.9,716.3 936.7,715.9 956.3,715.9 962.1,719.2 971.9,720.2 988.5,720.2 988.5,743.6 985.5,747.5 984.6,755.3 979.7,763 976.8,771 973.8,778.8 972.9,786.6 968,787.5 966,790.5 958.2,794.4 957.2,802.2 952.3,806 946.5,809 936.7,811 928.9,812 923,815.9 917.2,817.8 899.6,817.8 895.7,813.9 886,814.9 878,815.9 872.3,817.8 866.4,819.8 860.5,822.7 856.6,821.7 850,821.5 810,820.7 785.8,820.7 766.3,821.3 746.7,820.7 727.2,822.7 715.5,821.7 705.7,820.7 694,819.8 688,819.4 674.5,819.8 660.8,820.7 655,823.7 645.2,822.7 637.3,823.7 629.5,822.7 625.6,819.8 611.4,820.7 599.7,821.3 591.9,819.8 582.1,821.3 572.3,822.7 564.5,821.7 556.7,820.7 545,820.7 535.2,819.8 531.3,821.7 525.5,824 511.8,823.7 498,824.6 484.5,826.6 468.8,829.5 459,828.6 445.4,829.5 437.6,827.6 431.7,821.7 425.9,814.9 425.3,812 417.5,811 411.6,815 405.8,818.9 400,820.9 393.1,824.8 392.1,830.6 388.2,834.5 378.4,834.5 374.5,830.6 362.8,831.6 345.2,832.6 341.3,836.5 331.6,837.5 321.8,833.6 312,835.5 298.4,836.5 288.6,839.4 280.8,835.5 272,834.5 263.2,835.5 255.4,838.8 240,839.5 223.6,840.5 211.9,839.5 208,843.4 202.1,847.3 174.8,851.3 168.9,849.3 165,844.4 155.2,843.4 151.7,845.4 151.3,851.3 127.9,851.3 122,848.3 115.2,842.5 108.4,838.6 100.5,836.6 94.7,840.5 88.8,846.4 79,847.3 74.2,846.4 68.3,839.5 67.3,831.7 61.1,822 60.5,810.2 55.6,804.4 54.6,792.7 51.7,781 48.8,769.2 46.3,753.6" fill="#000" filter="url(#nzB)"/>
<g clip-path="url(#cpB)">
<g filter="url(#b1)"><ellipse cx="55.6" cy="718.4" rx="9.2" ry="7.2" fill="#b6e29c" opacity="0.85"/>
<ellipse cx="57" cy="719" rx="6.8" ry="6.3" fill="#b6e29c" opacity="0.9"/>
<ellipse cx="58" cy="718.8" rx="4.9" ry="5.8" fill="#b6e29c" opacity="0.9"/>
<circle cx="65.4" cy="716.5" r="3" fill="#b6e29c"/>
<circle cx="58.9" cy="730.7" r="3" fill="#f6c184" opacity="0.9"/>
<circle cx="51.7" cy="728.2" r="2.6" fill="#f6c184" opacity="0.85"/>
<ellipse cx="49.8" cy="743.8" rx="3" ry="8" fill="#f6c184" opacity="0.65"/>
<ellipse cx="56.6" cy="738" rx="3" ry="5" fill="#f6c184" opacity="0.65"/>
<ellipse cx="86.9" cy="724.3" rx="3.4" ry="2.9" fill="#f6c184" opacity="0.85"/>
<ellipse cx="91.8" cy="727.2" rx="2.6" ry="2" fill="#f6c184"/>
<ellipse cx="88.8" cy="721.4" rx="5" ry="3" fill="#b6e29c" opacity="0.65"/>
<ellipse cx="118.1" cy="724.3" rx="3.4" ry="4.9" fill="#f6c184" opacity="0.85"/>
<ellipse cx="124" cy="720.4" rx="2.5" ry="2" fill="#f6c184"/>
<ellipse cx="152.3" cy="719.4" rx="3" ry="4" fill="#f6c184"/>
<ellipse cx="146.4" cy="741" rx="2" ry="3" fill="#f6c184"/>
<ellipse cx="145.9" cy="735" rx="3.9" ry="4.1" fill="#f6c184" opacity="0.9"/>
<circle cx="159.5" cy="734.6" r="3.2" fill="#f6c184" opacity="0.9"/>
<ellipse cx="152.3" cy="734" rx="2.7" ry="2.5" fill="#f6c184" opacity="0.85"/>
<circle cx="165" cy="729.8" r="1.5" fill="#b6e29c"/>
<ellipse cx="98.6" cy="767.7" rx="4.8" ry="6.8" fill="#f6c184" opacity="0.85"/>
<ellipse cx="98.6" cy="768.5" rx="3.6" ry="4.8" fill="#f6c184" opacity="0.9"/>
<circle cx="99.5" cy="759.5" r="3" fill="#f6c184"/>
<ellipse cx="116.2" cy="763.4" rx="5" ry="3" fill="#f6c184" opacity="0.65"/>
<circle cx="116.2" cy="757.5" r="2.7" fill="#f6c184" opacity="0.85"/>
<ellipse cx="82" cy="758.5" rx="4" ry="2" fill="#f6c184"/>
<circle cx="105.4" cy="785.8" r="6" fill="#b6e29c" opacity="0.65"/>
<ellipse cx="98.6" cy="781" rx="3" ry="2.5" fill="#b6e29c"/>
<circle cx="110.3" cy="745.8" r="2" fill="#b6e29c"/>
<circle cx="85" cy="795.6" r="3.4" fill="#f6c184" opacity="0.85"/>
<ellipse cx="96.6" cy="796.6" rx="3" ry="2" fill="#b6e29c"/>
<ellipse cx="151" cy="765" rx="3.3" ry="4.2" fill="#b6e29c" opacity="0.9"/>
<circle cx="148.4" cy="759.5" r="1.5" fill="#b6e29c"/>
<circle cx="157.2" cy="758" r="2" fill="#b6e29c"/>
<ellipse cx="204.5" cy="746.2" rx="3.3" ry="4.3" fill="#b6e29c" opacity="0.9"/>
<ellipse cx="209" cy="756.3" rx="5" ry="4" fill="#f6c184" opacity="0.9"/>
<ellipse cx="214.5" cy="754" rx="4.8" ry="3.1" fill="#f6c184" transform="rotate(-15 214.5 754)" opacity="0.9"/>
<circle cx="209" cy="796" r="3.2" fill="#f6c184" opacity="0.9"/>
<circle cx="203.7" cy="798" r="2.8" fill="#b6e29c" opacity="0.9"/>
<circle cx="204.1" cy="795.6" r="2.4" fill="#f6c184" opacity="0.85"/>
<circle cx="218.7" cy="792" r="2.6" fill="#f6c184" opacity="0.85"/>
<circle cx="233.4" cy="796.6" r="1.5" fill="#b6e29c"/>
<circle cx="103.9" cy="813.2" r="3.2" fill="#b6e29c" opacity="0.9"/>
<circle cx="109.7" cy="813.2" r="3.4" fill="#f6c184" opacity="0.9"/>
<circle cx="116.2" cy="812.8" r="3.4" fill="#b6e29c" opacity="0.9"/>
<circle cx="117.1" cy="815.7" r="3.2" fill="#f6c184" opacity="0.9"/>
<circle cx="118.1" cy="808.7" r="4.3" fill="#b6e29c" opacity="0.9"/>
<ellipse cx="106.4" cy="804.4" rx="5" ry="3" fill="#b6e29c" opacity="0.65"/>
<ellipse cx="81" cy="823.3" rx="4.6" ry="3.6" fill="#f6c184" opacity="0.9"/>
<circle cx="72.2" cy="824" r="2.6" fill="#f6c184" opacity="0.85"/>
<circle cx="77.1" cy="828.8" r="2.6" fill="#f6c184" opacity="0.85"/>
<circle cx="83" cy="828.8" r="2.6" fill="#f6c184" opacity="0.85"/>
<circle cx="69.3" cy="829.8" r="2.6" fill="#f6c184" opacity="0.85"/>
<circle cx="112.3" cy="828.2" r="3.2" fill="#b6e29c" opacity="0.9"/>
<ellipse cx="105.4" cy="835" rx="7.9" ry="4.4" fill="#f6c184" opacity="0.85"/>
<ellipse cx="107.4" cy="837.4" rx="5.7" ry="3.7" fill="#f6c184" opacity="0.9"/>
<ellipse cx="75.2" cy="843.4" rx="5.9" ry="5.4" fill="#f6c184" opacity="0.85"/>
<ellipse cx="77" cy="846" rx="4.3" ry="3.8" fill="#f6c184" opacity="0.9"/>
<ellipse cx="126.9" cy="847.3" rx="6.9" ry="4.4" fill="#f6c184" opacity="0.85"/>
<ellipse cx="128" cy="848.6" rx="5.3" ry="3.6" fill="#f6c184" opacity="0.9"/>
<ellipse cx="165" cy="822" rx="10" ry="7" fill="#b6e29c" opacity="0.65"/>
<ellipse cx="139.6" cy="803.4" rx="3" ry="2" fill="#f6c184"/>
<ellipse cx="158.2" cy="810.2" rx="4" ry="2" fill="#f6c184"/>
<ellipse cx="153.3" cy="813.2" rx="2" ry="1.5" fill="#f6c184"/>
<ellipse cx="160" cy="838.5" rx="5.7" ry="6.2" fill="#b6e29c" opacity="0.85"/>
<ellipse cx="159.5" cy="838.6" rx="3.9" ry="4.4" fill="#b6e29c" opacity="0.9"/>
<circle cx="166" cy="836.6" r="3" fill="#b6e29c" opacity="0.9"/>
<ellipse cx="174.4" cy="844.4" rx="3.2" ry="3.9" fill="#b6e29c" opacity="0.9"/>
<circle cx="165" cy="845.4" r="3.1" fill="#f6c184" opacity="0.9"/>
<ellipse cx="172" cy="841" rx="3.3" ry="3.8" fill="#b6e29c" opacity="0.9"/>
<ellipse cx="188.4" cy="830.2" rx="4.2" ry="3.6" fill="#f6c184" opacity="0.9"/>
<ellipse cx="179.6" cy="829.8" rx="4.4" ry="2.9" fill="#f6c184" opacity="0.85"/>
<ellipse cx="197.8" cy="834" rx="2.8" ry="3.3" fill="#f6c184" opacity="0.9"/>
<circle cx="194.3" cy="829.8" r="2.6" fill="#f6c184" opacity="0.85"/>
<circle cx="200" cy="824" r="2.7" fill="#f6c184" opacity="0.85"/>
<ellipse cx="207" cy="828.4" rx="4.3" ry="2.8" fill="#f6c184" opacity="0.9"/>
<ellipse cx="213.8" cy="831.7" rx="7.2" ry="8.2" fill="#b6e29c" opacity="0.85"/>
<ellipse cx="214.5" cy="829" rx="5.8" ry="6.8" fill="#b6e29c" opacity="0.9"/>
<ellipse cx="230.4" cy="834.6" rx="2" ry="3" fill="#b6e29c"/>
<circle cx="237.3" cy="829.8" r="2" fill="#b6e29c"/>
<circle cx="66" cy="760" r="1.5" fill="#b6e29c"/>
<circle cx="70" cy="800" r="2" fill="#b6e29c"/>
<ellipse cx="62" cy="815" rx="3" ry="4" fill="#f6c184"/>
<ellipse cx="130" cy="770" rx="3" ry="2" fill="#f6c184"/>
<circle cx="175" cy="775" r="2" fill="#b6e29c"/>
<ellipse cx="190" cy="770" rx="3" ry="2" fill="#f6c184"/>
<circle cx="140" cy="790" r="2" fill="#b6e29c"/>
<circle cx="128" cy="830" r="2" fill="#b6e29c"/>
<ellipse cx="244" cy="763" rx="6.9" ry="8.9" fill="#f6c184" transform="rotate(-35 244 763)" opacity="0.85"/>
<ellipse cx="266" cy="726" rx="4.4" ry="2.9" fill="#f6c184" opacity="0.85"/>
<ellipse cx="282.7" cy="715.4" rx="3.4" ry="5.4" fill="#f6c184" opacity="0.85"/>
<ellipse cx="282.7" cy="741.8" rx="8.4" ry="5.4" fill="#f6c184" opacity="0.85"/>
<ellipse cx="292.5" cy="750.5" rx="9.4" ry="6.4" fill="#f6c184" opacity="0.85"/>
<ellipse cx="286.6" cy="757.4" rx="5" ry="3" fill="#f6c184" opacity="0.65"/>
<ellipse cx="259.3" cy="778.9" rx="7.4" ry="6.4" fill="#f6c184" opacity="0.85"/>
<ellipse cx="269" cy="772" rx="4" ry="3" fill="#f6c184"/>
<ellipse cx="362.8" cy="705.6" rx="15.4" ry="4.4" fill="#f6c184" opacity="0.85"/>
<ellipse cx="362" cy="704.5" rx="8.8" ry="3" fill="#f6c184" opacity="0.9"/>
<ellipse cx="358.9" cy="728" rx="6.4" ry="5.4" fill="#f6c184" opacity="0.85"/>
<ellipse cx="359.5" cy="728.8" rx="4" ry="3.4" fill="#f6c184" opacity="0.9"/>
<ellipse cx="349" cy="713.4" rx="5.4" ry="4.4" fill="#f6c184" opacity="0.85"/>
<ellipse cx="405.8" cy="709.5" rx="4" ry="5" fill="#f6c184" opacity="0.65"/>
<circle cx="425" cy="711" r="3" fill="#f6c184"/>
<ellipse cx="386.6" cy="730" rx="3.2" ry="4.2" fill="#f6c184" opacity="0.9"/>
<ellipse cx="396" cy="729" rx="3.3" ry="3.8" fill="#f6c184" opacity="0.9"/>
<ellipse cx="404.8" cy="725.2" rx="3.9" ry="3.6" fill="#b6e29c" opacity="0.9"/>
<circle cx="414.6" cy="723.6" r="3.2" fill="#b6e29c" opacity="0.9"/>
<circle cx="405.8" cy="719.3" r="3" fill="#b6e29c"/>
<circle cx="417.5" cy="717.3" r="3" fill="#b6e29c"/>
<ellipse cx="269" cy="796" rx="6.2" ry="7.2" fill="#b6e29c" opacity="0.85"/>
<ellipse cx="269" cy="795.5" rx="4.2" ry="6.2" fill="#b6e29c" transform="rotate(20 269 795.5)" opacity="0.9"/>
<ellipse cx="276.9" cy="796.4" rx="3.5" ry="4.3" fill="#b6e29c" opacity="0.9"/>
<ellipse cx="290" cy="801.5" rx="7.2" ry="5.2" fill="#b6e29c" opacity="0.85"/>
<ellipse cx="290" cy="801.3" rx="5.4" ry="4.1" fill="#b6e29c" opacity="0.9"/>
<ellipse cx="255" cy="806" rx="8" ry="3" fill="#b6e29c" opacity="0.65"/>
<ellipse cx="310" cy="804" rx="5" ry="3" fill="#b6e29c" opacity="0.65"/>
<ellipse cx="242" cy="812" rx="4" ry="2" fill="#b6e29c"/>
<ellipse cx="394" cy="778" rx="5" ry="3" fill="#b6e29c" opacity="0.65"/>
<circle cx="319.8" cy="768" r="1.5" fill="#b6e29c"/>
<ellipse cx="366.7" cy="760.3" rx="3" ry="1.5" fill="#b6e29c"/>
<ellipse cx="426" cy="803" rx="3" ry="2" fill="#b6e29c"/>
<ellipse cx="358" cy="806.2" rx="9.4" ry="6.4" fill="#f6c184" opacity="0.85"/>
<ellipse cx="358" cy="806.2" rx="6.8" ry="5.4" fill="#f6c184" opacity="0.9"/>
<ellipse cx="339.4" cy="807.2" rx="4.2" ry="4.6" fill="#f6c184" opacity="0.9"/>
<ellipse cx="347.2" cy="805.2" rx="4.4" ry="3.4" fill="#f6c184" opacity="0.85"/>
<ellipse cx="312" cy="811" rx="6.4" ry="4.4" fill="#f6c184" opacity="0.85"/>
<circle cx="304.2" cy="802.3" r="3" fill="#f6c184" opacity="0.9"/>
<circle cx="324.7" cy="812" r="3.8" fill="#b6e29c" opacity="0.9"/>
<ellipse cx="345.2" cy="813" rx="4" ry="2" fill="#b6e29c"/>
<ellipse cx="408.7" cy="810" rx="4.8" ry="5.8" fill="#f6c184" opacity="0.9"/>
<ellipse cx="418.5" cy="805.2" rx="4.4" ry="3.2" fill="#b6e29c" opacity="0.9"/>
<ellipse cx="396" cy="802.3" rx="4" ry="3" fill="#b6e29c"/>
<circle cx="294.5" cy="822.4" r="5.7" fill="#b6e29c" opacity="0.85"/>
<ellipse cx="294.5" cy="822.4" rx="4.9" ry="4.8" fill="#b6e29c" opacity="0.9"/>
<ellipse cx="305.2" cy="820.9" rx="4.4" ry="5.4" fill="#f6c184" opacity="0.85"/>
<ellipse cx="321.8" cy="822.8" rx="7.4" ry="6.4" fill="#f6c184" opacity="0.85"/>
<circle cx="278.8" cy="827.7" r="3.8" fill="#f6c184" opacity="0.9"/>
<ellipse cx="259.3" cy="833.6" rx="4.8" ry="5.4" fill="#f6c184" opacity="0.9"/>
<ellipse cx="243.7" cy="835.5" rx="5.4" ry="4.4" fill="#f6c184" opacity="0.85"/>
<ellipse cx="239.8" cy="829.6" rx="4.8" ry="3.3" fill="#b6e29c" opacity="0.9"/>
<ellipse cx="235" cy="832" rx="5" ry="3" fill="#b6e29c" opacity="0.65"/>
<ellipse cx="330" cy="720" rx="3" ry="2" fill="#f6c184"/>
<circle cx="300" cy="730" r="2" fill="#f6c184"/>
<circle cx="340" cy="745" r="2" fill="#b6e29c"/>
<ellipse cx="380" cy="745" rx="3" ry="2" fill="#f6c184"/>
<circle cx="410" cy="760" r="2" fill="#b6e29c"/>
<ellipse cx="350" cy="790" rx="3" ry="2" fill="#f6c184"/>
<ellipse cx="498" cy="702.6" rx="12.4" ry="6.4" fill="#f6c184" opacity="0.85"/>
<ellipse cx="504" cy="704.5" rx="4.8" ry="3.8" fill="#f6c184" opacity="0.9"/>
<ellipse cx="495" cy="700.6" rx="3.8" ry="3.3" fill="#f6c184" opacity="0.9"/>
<ellipse cx="525.5" cy="709.4" rx="10.4" ry="5.9" fill="#f6c184" transform="rotate(20 525.5 709.4)" opacity="0.85"/>
<ellipse cx="525.5" cy="709.4" rx="7.3" ry="4.2" fill="#f6c184" transform="rotate(20 525.5 709.4)" opacity="0.9"/>
<circle cx="513.8" cy="704.5" r="4.4" fill="#f6c184" opacity="0.85"/>
<circle cx="556.7" cy="699.6" r="6.4" fill="#f6c184" opacity="0.85"/>
<ellipse cx="558.7" cy="705.5" rx="4.7" ry="3.7" fill="#f6c184" opacity="0.9"/>
<ellipse cx="557.5" cy="702" rx="3.3" ry="4.3" fill="#f6c184" opacity="0.9"/>
<ellipse cx="568.8" cy="714.3" rx="3.2" ry="3.7" fill="#f6c184" opacity="0.9"/>
<ellipse cx="552.8" cy="713.3" rx="3.3" ry="2.8" fill="#f6c184" opacity="0.9"/>
<ellipse cx="489.3" cy="721.5" rx="3.2" ry="4.6" fill="#f6c184" opacity="0.9"/>
<circle cx="478.6" cy="715.3" r="2.8" fill="#f6c184" opacity="0.9"/>
<circle cx="485.4" cy="721" r="2.6" fill="#f6c184" opacity="0.85"/>
<circle cx="472.7" cy="726" r="2.6" fill="#f6c184" opacity="0.85"/>
<ellipse cx="425.5" cy="728.4" rx="4.2" ry="4.1" fill="#f6c184" transform="rotate(-30 425.5 728.4)" opacity="0.9"/>
<ellipse cx="428.8" cy="717.2" rx="3.4" ry="5.4" fill="#f6c184" opacity="0.85"/>
<ellipse cx="428.8" cy="734.8" rx="2.9" ry="3.4" fill="#f6c184" opacity="0.85"/>
<circle cx="438.5" cy="731" r="2.9" fill="#f6c184" opacity="0.85"/>
<ellipse cx="423" cy="712.3" rx="2.5" ry="3" fill="#b6e29c"/>
<circle cx="422.5" cy="712.3" r="2.7" fill="#b6e29c" opacity="0.9"/>
<circle cx="423" cy="732" r="2" fill="#b6e29c"/>
<circle cx="423" cy="743.6" r="3" fill="#b6e29c"/>
<circle cx="446.4" cy="734.8" r="2.7" fill="#f6c184" opacity="0.85"/>
<circle cx="451.3" cy="734.8" r="2.7" fill="#f6c184" opacity="0.85"/>
<ellipse cx="477.6" cy="749.5" rx="5.4" ry="2.9" fill="#f6c184" opacity="0.85"/>
<ellipse cx="523.5" cy="721" rx="6" ry="5" fill="#b6e29c" opacity="0.65"/>
<circle cx="529.8" cy="723" r="2.8" fill="#b6e29c" opacity="0.9"/>
<ellipse cx="601.6" cy="723" rx="3.2" ry="4.4" fill="#f6c184" transform="rotate(-30 601.6 723)" opacity="0.85"/>
<ellipse cx="604.6" cy="731" rx="4" ry="2" fill="#b6e29c"/>
<circle cx="614.3" cy="746.5" r="2.5" fill="#b6e29c"/>
<ellipse cx="590" cy="710.4" rx="3" ry="3.4" fill="#f6c184" opacity="0.85"/>
<ellipse cx="582.1" cy="722" rx="2.9" ry="3.4" fill="#f6c184" opacity="0.85"/>
<circle cx="555.4" cy="776.8" r="3.4" fill="#b6e29c" opacity="0.9"/>
<circle cx="564.5" cy="777.2" r="2.8" fill="#f6c184" opacity="0.9"/>
<circle cx="541" cy="776.8" r="2.6" fill="#f6c184" opacity="0.85"/>
<circle cx="529.4" cy="780.7" r="2.6" fill="#f6c184" opacity="0.85"/>
<circle cx="550" cy="773" r="1.5" fill="#b6e29c"/>
<circle cx="548" cy="786.6" r="1.5" fill="#b6e29c"/>
<circle cx="536.2" cy="787.5" r="1.5" fill="#b6e29c"/>
<circle cx="521.6" cy="787.5" r="1.8" fill="#b6e29c"/>
<ellipse cx="586" cy="779.7" rx="6.4" ry="4.4" fill="#f6c184" opacity="0.85"/>
<circle cx="576.3" cy="786.6" r="4.4" fill="#f6c184" opacity="0.85"/>
<ellipse cx="588" cy="794.4" rx="1.8" ry="5" fill="#b6e29c" transform="rotate(-30 588 794.4)"/>
<ellipse cx="608.5" cy="791.4" rx="3" ry="2" fill="#b6e29c"/>
<circle cx="445.4" cy="785.6" r="2.5" fill="#b6e29c"/>
<circle cx="449.3" cy="782.7" r="3.2" fill="#f6c184" opacity="0.85"/>
<circle cx="444.4" cy="776.8" r="1.5" fill="#b6e29c"/>
<circle cx="492.3" cy="793.4" r="2.7" fill="#f6c184" opacity="0.85"/>
<circle cx="498" cy="794.4" r="2.6" fill="#f6c184" opacity="0.85"/>
<circle cx="490.3" cy="798.3" r="1.5" fill="#b6e29c"/>
<circle cx="431.3" cy="802.8" r="3.2" fill="#b6e29c" opacity="0.9"/>
<circle cx="426.8" cy="803.2" r="2.8" fill="#f6c184" opacity="0.9"/>
<circle cx="423" cy="805" r="2.8" fill="#b6e29c" opacity="0.9"/>
<circle cx="532.3" cy="804" r="2.8" fill="#b6e29c" opacity="0.9"/>
<circle cx="538.2" cy="804" r="2.9" fill="#f6c184" opacity="0.9"/>
<ellipse cx="459" cy="821.7" rx="8.4" ry="5.4" fill="#f6c184" opacity="0.85"/>
<circle cx="439.5" cy="809" r="3" fill="#f6c184" opacity="0.9"/>
<ellipse cx="475.7" cy="808.4" rx="6.4" ry="3.4" fill="#f6c184" opacity="0.85"/>
<ellipse cx="523.5" cy="819.8" rx="11.4" ry="5.4" fill="#f6c184" opacity="0.85"/>
<ellipse cx="486" cy="815.5" rx="4.2" ry="4.3" fill="#b6e29c" opacity="0.9"/>
<circle cx="480.5" cy="815.5" r="3.1" fill="#b6e29c" opacity="0.9"/>
<circle cx="474" cy="819.8" r="3.2" fill="#b6e29c" opacity="0.9"/>
<circle cx="476.3" cy="825.2" r="3.1" fill="#b6e29c" opacity="0.9"/>
<ellipse cx="451.3" cy="818.8" rx="4.8" ry="3.8" fill="#b6e29c" opacity="0.9"/>
<ellipse cx="443.4" cy="812" rx="6" ry="4" fill="#b6e29c" opacity="0.65"/>
<ellipse cx="470" cy="815" rx="4" ry="3" fill="#b6e29c"/>
<ellipse cx="561" cy="818.8" rx="5.9" ry="6.9" fill="#f6c184" opacity="0.85"/>
<ellipse cx="565.5" cy="817.8" rx="5.6" ry="7" fill="#f6c184" opacity="0.9"/>
<circle cx="574.3" cy="815.9" r="5.2" fill="#b6e29c" opacity="0.85"/>
<circle cx="588" cy="814" r="4" fill="#b6e29c" opacity="0.65"/>
<ellipse cx="595.8" cy="803.2" rx="6" ry="1.8" fill="#b6e29c" transform="rotate(20 595.8 803.2)"/>
<ellipse cx="582.1" cy="804" rx="8" ry="2" fill="#f6c184" opacity="0.65"/>
<ellipse cx="619.2" cy="813" rx="3.6" ry="4.4" fill="#b6e29c" opacity="0.9"/>
<ellipse cx="470" cy="740" rx="3" ry="2" fill="#f6c184"/>
<circle cx="500" cy="760" r="2" fill="#b6e29c"/>
<ellipse cx="540" cy="745" rx="3" ry="2" fill="#f6c184"/>
<circle cx="570" cy="750" r="2" fill="#b6e29c"/>
<ellipse cx="600" cy="770" rx="3" ry="2" fill="#f6c184"/>
<ellipse cx="626.5" cy="709" rx="7.4" ry="6.4" fill="#f6c184" opacity="0.85"/>
<circle cx="629.5" cy="711.4" r="4.6" fill="#f6c184" opacity="0.9"/>
<circle cx="635.4" cy="705.5" r="3" fill="#b6e29c"/>
<ellipse cx="673.5" cy="714.7" rx="4.3" ry="3.3" fill="#f6c184" opacity="0.9"/>
<ellipse cx="684" cy="724" rx="6.4" ry="2.9" fill="#f6c184" transform="rotate(35 684 724)" opacity="0.85"/>
<circle cx="688.7" cy="725.6" r="2.8" fill="#b6e29c" opacity="0.9"/>
<ellipse cx="656.9" cy="730.3" rx="9.4" ry="4" fill="#f6c184" opacity="0.85"/>
<ellipse cx="656.9" cy="730.3" rx="6.8" ry="3.1" fill="#f6c184" opacity="0.9"/>
<ellipse cx="734" cy="748.5" rx="2.8" ry="3.3" fill="#f6c184" opacity="0.9"/>
<circle cx="738.5" cy="747.5" r="3" fill="#b6e29c" opacity="0.9"/>
<ellipse cx="658.4" cy="764.7" rx="3.2" ry="3.7" fill="#b6e29c" opacity="0.9"/>
<ellipse cx="720.4" cy="769" rx="3.1" ry="3.4" fill="#b6e29c" opacity="0.9"/>
<ellipse cx="716.5" cy="770" rx="3" ry="3.2" fill="#b6e29c" opacity="0.9"/>
<circle cx="613.9" cy="746.5" r="2.5" fill="#b6e29c"/>
<ellipse cx="667.6" cy="776.8" rx="2" ry="2.5" fill="#b6e29c"/>
<circle cx="673.5" cy="774.8" r="1.5" fill="#b6e29c"/>
<ellipse cx="617.8" cy="759.2" rx="4.4" ry="2.9" fill="#f6c184" opacity="0.85"/>
<circle cx="615.9" cy="771" r="2.7" fill="#f6c184" opacity="0.85"/>
<circle cx="635.4" cy="769" r="2.7" fill="#f6c184" opacity="0.85"/>
<circle cx="692.4" cy="787.5" r="3.4" fill="#b6e29c" opacity="0.9"/>
<ellipse cx="683.2" cy="791.4" rx="2" ry="3" fill="#b6e29c"/>
<ellipse cx="780.9" cy="728.4" rx="3" ry="3.7" fill="#f6c184" opacity="0.9"/>
<circle cx="788.7" cy="730" r="3.6" fill="#b6e29c" opacity="0.9"/>
<ellipse cx="795.2" cy="727.6" rx="3.7" ry="3.2" fill="#f6c184" opacity="0.9"/>
<circle cx="806.3" cy="730" r="3.4" fill="#b6e29c" opacity="0.9"/>
<circle cx="793.2" cy="725" r="2.8" fill="#b6e29c" opacity="0.9"/>
<circle cx="789.7" cy="720" r="4.4" fill="#f6c184" opacity="0.85"/>
<ellipse cx="790.7" cy="736.2" rx="2.8" ry="3.3" fill="#f6c184" opacity="0.9"/>
<ellipse cx="797.5" cy="741.6" rx="3.6" ry="4.3" fill="#b6e29c" opacity="0.9"/>
<circle cx="793.6" cy="742.6" r="2.8" fill="#b6e29c" opacity="0.9"/>
<ellipse cx="792.6" cy="753.4" rx="3.9" ry="3.2" fill="#b6e29c" opacity="0.9"/>
<circle cx="797.9" cy="753.8" r="3.2" fill="#b6e29c" opacity="0.9"/>
<ellipse cx="806.3" cy="755.7" rx="3.7" ry="3.2" fill="#f6c184" opacity="0.9"/>
<circle cx="781.9" cy="749.5" r="2" fill="#b6e29c"/>
<circle cx="803.4" cy="752.4" r="2" fill="#b6e29c"/>
<ellipse cx="777" cy="758.8" rx="2.8" ry="3.3" fill="#f6c184" opacity="0.9"/>
<circle cx="782.8" cy="759.2" r="2.8" fill="#b6e29c" opacity="0.9"/>
<circle cx="776" cy="773" r="2.6" fill="#f6c184" opacity="0.9"/>
<circle cx="782.8" cy="773.9" r="3" fill="#b6e29c" opacity="0.9"/>
<circle cx="777" cy="769.4" r="2.5" fill="#b6e29c"/>
<ellipse cx="759.4" cy="729" rx="4.4" ry="3.4" fill="#f6c184" opacity="0.85"/>
<circle cx="766.3" cy="731" r="3.4" fill="#f6c184" opacity="0.85"/>
<circle cx="770.2" cy="735.8" r="2.8" fill="#f6c184" opacity="0.9"/>
<ellipse cx="768.2" cy="719.2" rx="3" ry="5" fill="#b6e29c" opacity="0.65"/>
<ellipse cx="770" cy="714.3" rx="3" ry="2" fill="#b6e29c"/>
<ellipse cx="770.2" cy="793.4" rx="21.4" ry="4.4" fill="#f6c184" opacity="0.85"/>
<ellipse cx="766.3" cy="780.7" rx="3" ry="2" fill="#f6c184"/>
<ellipse cx="681.3" cy="814" rx="2.5" ry="3" fill="#b6e29c"/>
<ellipse cx="681.3" cy="814.3" rx="3.1" ry="3.4" fill="#b6e29c" opacity="0.9"/>
<ellipse cx="618.8" cy="812" rx="2.8" ry="3.8" fill="#b6e29c" opacity="0.9"/>
<circle cx="787.7" cy="814" r="6.2" fill="#b6e29c" opacity="0.85"/>
<ellipse cx="640" cy="745" rx="3" ry="2" fill="#f6c184"/>
<circle cx="700" cy="715" r="2" fill="#b6e29c"/>
<ellipse cx="730" cy="720" rx="3" ry="2" fill="#f6c184"/>
<circle cx="750" cy="760" r="2" fill="#b6e29c"/>
<ellipse cx="690" cy="760" rx="3" ry="2" fill="#f6c184"/>
<circle cx="640" cy="790" r="2" fill="#b6e29c"/>
<ellipse cx="660" cy="800" rx="3" ry="2" fill="#f6c184"/>
<ellipse cx="748" cy="703" rx="4" ry="5" fill="#f6c184" opacity="0.65"/>
<ellipse cx="856.6" cy="817.8" rx="6.4" ry="5.4" fill="#f6c184" opacity="0.85"/>
<ellipse cx="888" cy="804.6" rx="8.4" ry="3.2" fill="#f6c184" transform="rotate(22 888 804.6)" opacity="0.85"/>
<circle cx="902.5" cy="801.8" r="3.8" fill="#f6c184" opacity="0.9"/>
<circle cx="876.6" cy="774.8" r="4.2" fill="#f6c184" opacity="0.9"/>
<ellipse cx="899.6" cy="775.2" rx="6.2" ry="4.6" fill="#f6c184" opacity="0.9"/>
<ellipse cx="908" cy="776.8" rx="6.4" ry="2.9" fill="#f6c184" transform="rotate(12 908 776.8)" opacity="0.85"/>
<ellipse cx="901.6" cy="786.6" rx="10.2" ry="5.2" fill="#b6e29c" opacity="0.85"/>
<ellipse cx="904.5" cy="787" rx="4.8" ry="4.2" fill="#b6e29c" opacity="0.9"/>
<circle cx="880" cy="781.7" r="2" fill="#b6e29c"/>
<circle cx="889.8" cy="789.5" r="2" fill="#b6e29c"/>
<circle cx="934.8" cy="777.8" r="5.2" fill="#f6c184" opacity="0.9"/>
<circle cx="940.6" cy="781.7" r="3.7" fill="#f6c184" opacity="0.9"/>
<ellipse cx="943.6" cy="776.4" rx="3.9" ry="4.8" fill="#b6e29c" transform="rotate(20 943.6 776.4)" opacity="0.9"/>
<ellipse cx="937.3" cy="788.5" rx="3.4" ry="5.8" fill="#b6e29c" opacity="0.9"/>
<circle cx="934.8" cy="796.7" r="3.2" fill="#b6e29c" opacity="0.9"/>
<ellipse cx="954.3" cy="788.5" rx="6.4" ry="4.3" fill="#b6e29c" opacity="0.9"/>
<ellipse cx="944.5" cy="798.3" rx="4.4" ry="6.4" fill="#f6c184" opacity="0.85"/>
<ellipse cx="960.2" cy="783.6" rx="5" ry="3" fill="#b6e29c" opacity="0.65"/>
<ellipse cx="875.2" cy="731.5" rx="5.2" ry="4.1" fill="#f6c184" opacity="0.9"/>
<ellipse cx="867.4" cy="718.6" rx="4.8" ry="3.3" fill="#f6c184" opacity="0.9"/>
<ellipse cx="873.8" cy="717.2" rx="3.6" ry="3.9" fill="#b6e29c" opacity="0.9"/>
<circle cx="879" cy="713" r="3.2" fill="#b6e29c" opacity="0.9"/>
<circle cx="879.7" cy="709.4" r="2.4" fill="#f6c184" opacity="0.85"/>
<circle cx="873.8" cy="714.3" r="2.4" fill="#f6c184" opacity="0.85"/>
<ellipse cx="896.7" cy="741" rx="4.2" ry="3.5" fill="#f6c184" opacity="0.9"/>
<ellipse cx="848.8" cy="733.8" rx="3.2" ry="4.1" fill="#f6c184" opacity="0.9"/>
<circle cx="855.7" cy="731.9" r="3.2" fill="#b6e29c" opacity="0.9"/>
<ellipse cx="853.7" cy="740.7" rx="3.9" ry="3.2" fill="#b6e29c" opacity="0.9"/>
<ellipse cx="853" cy="743.2" rx="3.3" ry="2.8" fill="#f6c184" opacity="0.9"/>
<ellipse cx="868.4" cy="734.8" rx="3.4" ry="3.9" fill="#b6e29c" opacity="0.9"/>
<circle cx="870" cy="737.7" r="3.2" fill="#b6e29c" opacity="0.9"/>
<circle cx="863.5" cy="738" r="3.2" fill="#b6e29c" opacity="0.9"/>
<circle cx="858.6" cy="739.3" r="3.2" fill="#b6e29c" opacity="0.9"/>
<circle cx="864" cy="736.2" r="3.1" fill="#f6c184" opacity="0.9"/>
<ellipse cx="846.5" cy="738" rx="3.4" ry="2.9" fill="#f6c184" opacity="0.85"/>
<circle cx="806.4" cy="730.3" r="3.4" fill="#b6e29c" opacity="0.9"/>
<circle cx="806.4" cy="755.7" r="3.2" fill="#f6c184" opacity="0.9"/>
<circle cx="803" cy="752.4" r="2.8" fill="#b6e29c" opacity="0.9"/>
<ellipse cx="817.6" cy="766" rx="3.4" ry="3.9" fill="#b6e29c" opacity="0.9"/>
<circle cx="821.5" cy="766.6" r="3.2" fill="#f6c184" opacity="0.9"/>
<circle cx="828" cy="764.5" r="3" fill="#f6c184" opacity="0.9"/>
<circle cx="818.2" cy="773" r="3.1" fill="#b6e29c" opacity="0.9"/>
<circle cx="831.3" cy="759.8" r="3.1" fill="#b6e29c" opacity="0.9"/>
<circle cx="825.4" cy="751.4" r="2.7" fill="#f6c184" opacity="0.85"/>
<ellipse cx="839" cy="729" rx="5.7" ry="6.2" fill="#b6e29c" opacity="0.85"/>
<ellipse cx="840" cy="726.4" rx="4.3" ry="3.3" fill="#b6e29c" opacity="0.9"/>
<ellipse cx="841" cy="726" rx="3.4" ry="3.1" fill="#b6e29c" opacity="0.9"/>
<circle cx="920" cy="737.7" r="4.2" fill="#b6e29c" opacity="0.85"/>
<circle cx="920" cy="740.6" r="2.8" fill="#b6e29c" opacity="0.9"/>
<ellipse cx="928" cy="727" rx="1.6" ry="5" fill="#b6e29c"/>
<ellipse cx="919.1" cy="716.3" rx="2" ry="6" fill="#f6c184"/>
<circle cx="925" cy="731" r="2.6" fill="#f6c184" opacity="0.85"/>
<ellipse cx="939.6" cy="741.6" rx="4" ry="2" fill="#b6e29c"/>
<circle cx="981.6" cy="730.3" r="3.2" fill="#f6c184" opacity="0.9"/>
<circle cx="969" cy="736.8" r="2.8" fill="#b6e29c" opacity="0.9"/>
<ellipse cx="985.5" cy="723" rx="3.4" ry="4.4" fill="#f6c184" opacity="0.85"/>
<circle cx="943.6" cy="738.7" r="2.7" fill="#f6c184" opacity="0.85"/>
<circle cx="973.8" cy="752.4" r="2.7" fill="#f6c184" opacity="0.85"/>
<circle cx="820" cy="745" r="2" fill="#b6e29c"/>
<ellipse cx="835" cy="770" rx="3" ry="2" fill="#f6c184"/>
<circle cx="850" cy="760" r="2" fill="#b6e29c"/>
<ellipse cx="890" cy="720" rx="2" ry="3" fill="#f6c184"/>
<circle cx="900" cy="705" r="3" fill="#b6e29c"/>
<ellipse cx="880" cy="700" rx="3" ry="2" fill="#b6e29c"/>
<ellipse cx="950" cy="765" rx="3" ry="2" fill="#f6c184"/>
<ellipse cx="965" cy="760" rx="2" ry="3" fill="#b6e29c"/>
<ellipse cx="868" cy="785" rx="3" ry="2" fill="#b6e29c"/>
<ellipse cx="840" cy="790" rx="5" ry="3" fill="#f6c184" opacity="0.65"/>
<ellipse cx="870" cy="810" rx="5" ry="3" fill="#b6e29c" opacity="0.65"/>
<ellipse cx="925" cy="812" rx="4" ry="2" fill="#b6e29c"/>
<polygon points="241,760 244,758.3 247.5,762.5 249.5,767.5 246.5,768 243,764.3" fill="#f6c184" stroke="#f6c184" stroke-width="5" stroke-linejoin="round" opacity="0.9"/>
<polygon points="375.5,794.5 379.4,793.5 383.3,798.4 387.2,800.4 386.3,803.3 380.4,801.3 376.5,798.4" fill="#f6c184" stroke="#f6c184" stroke-width="5" stroke-linejoin="round" opacity="0.9"/>
<polygon points="281.2,832.6 283.7,828.7 288.6,826.7 294.5,829 304.2,829 308.1,827.7 314,829.6 316,824.8 318.9,826.7 321.8,830.6 327.7,831.6 335.5,829 342.3,829.6 343.3,831.6 347.2,829.6 358.9,829.6 362.8,827.7 366.7,824.8 370.6,822.8 374.5,824.8 378.4,822.8 386.3,823.8 392.1,824.8 392.5,829.6 390.2,833.6 378.4,834.5 374.5,831.6 364.8,832.2 358.9,831.6 347.2,832.2 342.3,834.5 339.4,836.5 331.6,836.9 323.8,833.6 316,834.5 312,835.5 298.4,836.5 290.5,838.8 284.7,837.5 281.2,835.5" fill="#f6c184" stroke="#f6c184" stroke-width="5" stroke-linejoin="round" opacity="0.9"/>
<polygon points="342.3,818.9 354,820.5 353,822.8 343.3,821.8" fill="#f6c184" stroke="#f6c184" stroke-width="5" stroke-linejoin="round" opacity="0.9"/>
<polygon points="431.7,824.6 434.6,820.7 439.5,819.4 445.4,821.7 453.2,822.7 458,826.6 465,827.6 468.8,829.5 462,830.5 457,828.6 447.3,829.5 441.5,830.5 435.6,828.6" fill="#f6c184" stroke="#f6c184" stroke-width="5" stroke-linejoin="round" opacity="0.9"/>
<polygon points="486.4,826.6 488.4,819.8 496.2,818.8 499,823.7 494.2,825.6" fill="#f6c184" stroke="#f6c184" stroke-width="5" stroke-linejoin="round" opacity="0.9"/>
<polygon points="502,823.7 503,815.9 507,814.9 510.8,819.8 513.8,822.7 511.8,824" fill="#f6c184" stroke="#f6c184" stroke-width="5" stroke-linejoin="round" opacity="0.9"/>
<polygon points="577.8,815.5 583,815.5 582.1,820.7 578.6,820.7" fill="#b6e29c" stroke="#b6e29c" stroke-width="5" stroke-linejoin="round" opacity="0.9"/>
<polygon points="592.9,817.8 595.8,814.9 603.6,815.9 607.5,816.8 612.4,814.9 615.3,817.8 613.4,820.7 603.6,821.7 595.8,821.3" fill="#f6c184" stroke="#f6c184" stroke-width="5" stroke-linejoin="round" opacity="0.9"/>
<polygon points="625.6,817.8 629.5,813.9 637.3,813 641.3,814.9 649,813.9 656.9,815.9 658.8,819.8 655,822.7 645.2,823.7 637.3,822.7 629.5,823.7 626.6,821.7" fill="#f6c184" stroke="#f6c184" stroke-width="5" stroke-linejoin="round" opacity="0.9"/>
<polygon points="663.7,814.9 667.6,813 674.5,814.9 676.4,817.8 670.5,820.7 664.7,819.8" fill="#f6c184" stroke="#f6c184" stroke-width="5" stroke-linejoin="round" opacity="0.9"/>
<polygon points="725.2,787.5 731,786.6 737,783.6 744.8,782.3 750.6,780.3 755.5,782.7 756.5,786.6 752.6,788.5 746.7,791.4 738.9,790.5 735,793.4 729.1,792" fill="#f6c184" stroke="#f6c184" stroke-width="5" stroke-linejoin="round" opacity="0.9"/>
<polygon points="692,794.4 701.8,791.4 709.6,794.4 711.6,800.2 707.7,806 701.8,808 696,802.2" fill="#f6c184" stroke="#f6c184" stroke-width="5" stroke-linejoin="round" opacity="0.9"/>
<polygon points="701.8,798.3 707.7,797.3 709.6,802.2 705.7,807 701.8,804.1" fill="#f6c184" stroke="#f6c184" stroke-width="5" stroke-linejoin="round" opacity="0.9"/>
<polygon points="703.8,807 709.6,804.1 713.5,812 711.6,819.8 705.7,820.7 707.7,813.9" fill="#f6c184" stroke="#f6c184" stroke-width="5" stroke-linejoin="round" opacity="0.9"/>
<polygon points="710.6,812 719.4,812 727.2,806 731,801.3 738.9,799.3 750.6,798.7 758.4,799.3 766.3,796.7 778,798.3 785.8,797.3 793.6,799.3 807.8,802.2 819.5,806 829.3,807 835.2,805 843,807 846.9,806 848.8,812 852.7,813.9 850.8,818.8 839,819.8 810,820.7 797.5,820.7 766.3,821.3 746.7,820.7 727.2,822.7 715.5,821.7 711.6,817.8" fill="#f6c184" stroke="#f6c184" stroke-width="5" stroke-linejoin="round" opacity="0.9"/>
<polygon points="784.8,812 790.7,812 789.3,819.8 786.8,818.8" fill="#b6e29c" stroke="#b6e29c" stroke-width="5" stroke-linejoin="round" opacity="0.9"/>
<polygon points="694.4,812 704.7,813 701.8,819.8 696,816.8" fill="#b6e29c" stroke="#b6e29c" stroke-width="5" stroke-linejoin="round" opacity="0.9"/>
<polygon points="778,768 781.9,768 783.8,771 780,771" fill="#b6e29c" stroke="#b6e29c" stroke-width="5" stroke-linejoin="round" opacity="0.9"/>
<polygon points="783.8,752.4 786.8,750.4 788.7,756.3 783.8,756.9" fill="#f6c184" stroke="#f6c184" stroke-width="5" stroke-linejoin="round" opacity="0.9"/>
<polygon points="856.6,796.3 860.5,791.4 866.4,790.5 873.2,791.4 877,794.4 880,800.2 877,803.2 872.3,800.2 868.4,802.2 862.5,798.3" fill="#f6c184" stroke="#f6c184" stroke-width="5" stroke-linejoin="round" opacity="0.9"/>
<polygon points="881,771.9 886,769.4 891.8,770.5 893.8,773.9 889.8,776.8 884,777.8 881,775.2" fill="#f6c184" stroke="#f6c184" stroke-width="5" stroke-linejoin="round" opacity="0.9"/>
<polygon points="909.4,800.2 917.2,798.3 927,799.3 931.8,800.2 930.9,804.1 925,806 917.2,804.5 910.4,803.8" fill="#b6e29c" stroke="#b6e29c" stroke-width="5" stroke-linejoin="round" opacity="0.9"/>
<polygon points="907,808 914.3,807 913.9,813 907.4,813" fill="#b6e29c" stroke="#b6e29c" stroke-width="5" stroke-linejoin="round" opacity="0.9"/>
<polygon points="929.9,807 936.7,805 940.6,807 939.6,811 932.8,811" fill="#f6c184" stroke="#f6c184" stroke-width="5" stroke-linejoin="round" opacity="0.9"/>
<polygon points="943.6,784.6 947.5,774.8 951.4,776.8 948.4,782.7 946.5,787.5" fill="#f6c184" stroke="#f6c184" stroke-width="5" stroke-linejoin="round" opacity="0.9"/>
<polygon points="949.4,794.4 958.2,794.4 957.8,799 953.5,801 949.4,799" fill="#f6c184" stroke="#f6c184" stroke-width="5" stroke-linejoin="round" opacity="0.9"/>
<polygon points="949.4,799 953.5,801 957.8,799 957.2,802.2 952.3,804.6 949.4,801.5" fill="#f6c184" stroke="#f6c184" stroke-width="5" stroke-linejoin="round" opacity="0.9"/>
<polygon points="210.9,825.5 215.8,823.9 219.7,827.8 216.8,831.7 213.8,829.8" fill="#b6e29c" stroke="#b6e29c" stroke-width="5" stroke-linejoin="round" opacity="0.9"/></g>
<g filter="url(#b2)"><ellipse cx="55.6" cy="718.4" rx="8" ry="6" fill="#9fd89c"/>
<ellipse cx="57" cy="719" rx="5" ry="4.5" fill="#6fc3a6"/>
<ellipse cx="58" cy="718.8" rx="3.6" ry="4.5" fill="#6fc3a6"/>
<circle cx="58.9" cy="730.7" r="2" fill="#f7a866"/>
<circle cx="51.7" cy="728.2" r="1.2" fill="#f7a866"/>
<ellipse cx="86.9" cy="724.3" rx="2" ry="1.5" fill="#f7a866"/>
<ellipse cx="118.1" cy="724.3" rx="2" ry="3.5" fill="#f7a866"/>
<ellipse cx="145.9" cy="735" rx="2.7" ry="2.9" fill="#f7a866"/>
<circle cx="159.5" cy="734.6" r="2" fill="#f7a866"/>
<ellipse cx="152.3" cy="734" rx="1.3" ry="1.1" fill="#f7a866"/>
<ellipse cx="98.6" cy="767.7" rx="3.4" ry="5.4" fill="#f7a866" opacity="0.75"/>
<ellipse cx="98.6" cy="768.5" rx="2.6" ry="3.8" fill="#f7a866"/>
<circle cx="116.2" cy="757.5" r="1.3" fill="#f7a866"/>
<circle cx="85" cy="795.6" r="2" fill="#f7a866"/>
<ellipse cx="151" cy="765" rx="2" ry="2.9" fill="#6fc3a6"/>
<ellipse cx="204.5" cy="746.2" rx="2" ry="3" fill="#6fc3a6"/>
<ellipse cx="209" cy="756.3" rx="3.8" ry="2.8" fill="#f7a866"/>
<ellipse cx="214.5" cy="754" rx="3.8" ry="2.1" fill="#f7a866" transform="rotate(-15 214.5 754)"/>
<circle cx="209" cy="796" r="2" fill="#f7a866"/>
<circle cx="203.7" cy="798" r="1" fill="#6fc3a6"/>
<circle cx="204.1" cy="795.6" r="1" fill="#f7a866"/>
<circle cx="218.7" cy="792" r="1.2" fill="#f7a866"/>
<circle cx="103.9" cy="813.2" r="1.9" fill="#6fc3a6"/>
<circle cx="109.7" cy="813.2" r="2.2" fill="#f7a866"/>
<circle cx="116.2" cy="812.8" r="2.1" fill="#6fc3a6"/>
<circle cx="117.1" cy="815.7" r="2" fill="#f7a866"/>
<circle cx="118.1" cy="808.7" r="2.5" fill="#6fc3a6"/>
<ellipse cx="81" cy="823.3" rx="3.4" ry="2.4" fill="#f7a866"/>
<circle cx="72.2" cy="824" r="1.2" fill="#f7a866"/>
<circle cx="77.1" cy="828.8" r="1.2" fill="#f7a866"/>
<circle cx="83" cy="828.8" r="1.2" fill="#f7a866"/>
<circle cx="69.3" cy="829.8" r="1.2" fill="#f7a866"/>
<circle cx="112.3" cy="828.2" r="1.9" fill="#6fc3a6"/>
<ellipse cx="105.4" cy="835" rx="6.5" ry="3" fill="#f7a866" opacity="0.75"/>
<ellipse cx="107.4" cy="837.4" rx="4.5" ry="2.5" fill="#f7a866"/>
<ellipse cx="75.2" cy="843.4" rx="4.5" ry="4" fill="#f7a866" opacity="0.75"/>
<ellipse cx="77" cy="846" rx="3.3" ry="2.8" fill="#f7a866"/>
<ellipse cx="126.9" cy="847.3" rx="5.5" ry="3" fill="#f7a866"/>
<ellipse cx="128" cy="848.6" rx="4.3" ry="2.6" fill="#f7a866"/>
<ellipse cx="160" cy="838.5" rx="4.5" ry="5" fill="#9fd89c"/>
<ellipse cx="159.5" cy="838.6" rx="2.6" ry="3.1" fill="#6fc3a6"/>
<circle cx="166" cy="836.6" r="1.2" fill="#6fc3a6"/>
<ellipse cx="174.4" cy="844.4" rx="1.9" ry="2.6" fill="#6fc3a6"/>
<circle cx="165" cy="845.4" r="1.9" fill="#f7a866"/>
<ellipse cx="172" cy="841" rx="1.5" ry="2" fill="#6fc3a6"/>
<ellipse cx="188.4" cy="830.2" rx="3" ry="2.4" fill="#f7a866"/>
<ellipse cx="179.6" cy="829.8" rx="3" ry="1.5" fill="#f7a866"/>
<ellipse cx="197.8" cy="834" rx="1.8" ry="2.3" fill="#f7a866"/>
<circle cx="194.3" cy="829.8" r="1.2" fill="#f7a866"/>
<circle cx="200" cy="824" r="1.3" fill="#f7a866"/>
<ellipse cx="207" cy="828.4" rx="3.3" ry="1.8" fill="#f7a866"/>
<ellipse cx="213.8" cy="831.7" rx="6" ry="7" fill="#9fd89c"/>
<ellipse cx="214.5" cy="829" rx="4" ry="5" fill="#6fc3a6"/>
<ellipse cx="244" cy="763" rx="5.5" ry="7.5" fill="#f7a866" transform="rotate(-35 244 763)" opacity="0.75"/>
<ellipse cx="266" cy="726" rx="3" ry="1.5" fill="#f7a866"/>
<ellipse cx="282.7" cy="715.4" rx="2" ry="4" fill="#f7a866"/>
<ellipse cx="282.7" cy="741.8" rx="7" ry="4" fill="#f7a866" opacity="0.75"/>
<ellipse cx="292.5" cy="750.5" rx="8" ry="5" fill="#f7a866" opacity="0.75"/>
<ellipse cx="259.3" cy="778.9" rx="6" ry="5" fill="#f7a866" opacity="0.75"/>
<ellipse cx="362.8" cy="705.6" rx="14" ry="3" fill="#f7a866" opacity="0.75"/>
<ellipse cx="362" cy="704.5" rx="7.8" ry="2" fill="#f7a866"/>
<ellipse cx="358.9" cy="728" rx="5" ry="4" fill="#f7a866" opacity="0.75"/>
<ellipse cx="359.5" cy="728.8" rx="3" ry="2.4" fill="#f7a866"/>
<ellipse cx="349" cy="713.4" rx="4" ry="3" fill="#f7a866"/>
<ellipse cx="386.6" cy="730" rx="2" ry="3" fill="#f7a866"/>
<ellipse cx="396" cy="729" rx="2.3" ry="2.8" fill="#f7a866"/>
<ellipse cx="404.8" cy="725.2" rx="2.6" ry="2.3" fill="#6fc3a6"/>
<circle cx="414.6" cy="723.6" r="1.9" fill="#6fc3a6"/>
<ellipse cx="269" cy="796" rx="5" ry="6" fill="#9fd89c"/>
<ellipse cx="269" cy="795.5" rx="2.9" ry="4.9" fill="#6fc3a6" transform="rotate(20 269 795.5)"/>
<ellipse cx="276.9" cy="796.4" rx="2.2" ry="3" fill="#6fc3a6"/>
<ellipse cx="290" cy="801.5" rx="6" ry="4" fill="#9fd89c"/>
<ellipse cx="290" cy="801.3" rx="4.1" ry="2.8" fill="#6fc3a6"/>
<ellipse cx="358" cy="806.2" rx="8" ry="5" fill="#f7a866" opacity="0.75"/>
<ellipse cx="358" cy="806.2" rx="5.8" ry="4.4" fill="#f7a866"/>
<ellipse cx="339.4" cy="807.2" rx="3" ry="3.4" fill="#f7a866"/>
<ellipse cx="347.2" cy="805.2" rx="3" ry="2" fill="#f7a866"/>
<ellipse cx="312" cy="811" rx="5" ry="3" fill="#f7a866"/>
<circle cx="304.2" cy="802.3" r="2" fill="#f7a866"/>
<circle cx="324.7" cy="812" r="2" fill="#6fc3a6"/>
<ellipse cx="408.7" cy="810" rx="3.8" ry="4.8" fill="#f7a866"/>
<ellipse cx="418.5" cy="805.2" rx="3.1" ry="1.9" fill="#6fc3a6"/>
<circle cx="294.5" cy="822.4" r="4.5" fill="#9fd89c"/>
<ellipse cx="294.5" cy="822.4" rx="3.6" ry="3.5" fill="#6fc3a6"/>
<ellipse cx="305.2" cy="820.9" rx="3" ry="4" fill="#f7a866"/>
<ellipse cx="321.8" cy="822.8" rx="6" ry="5" fill="#f7a866" opacity="0.75"/>
<circle cx="278.8" cy="827.7" r="2.8" fill="#f7a866"/>
<ellipse cx="259.3" cy="833.6" rx="3.8" ry="4.4" fill="#f7a866"/>
<ellipse cx="243.7" cy="835.5" rx="4" ry="3" fill="#f7a866"/>
<ellipse cx="239.8" cy="829.6" rx="3" ry="1.5" fill="#6fc3a6"/>
<ellipse cx="498" cy="702.6" rx="11" ry="5" fill="#f7a866" opacity="0.75"/>
<ellipse cx="504" cy="704.5" rx="3.8" ry="2.8" fill="#f7a866"/>
<ellipse cx="495" cy="700.6" rx="2.8" ry="2.3" fill="#f7a866"/>
<ellipse cx="525.5" cy="709.4" rx="9" ry="4.5" fill="#f7a866" transform="rotate(20 525.5 709.4)" opacity="0.75"/>
<ellipse cx="525.5" cy="709.4" rx="6.3" ry="3.2" fill="#f7a866" transform="rotate(20 525.5 709.4)"/>
<circle cx="513.8" cy="704.5" r="3" fill="#f7a866"/>
<circle cx="556.7" cy="699.6" r="5" fill="#f7a866" opacity="0.75"/>
<ellipse cx="558.7" cy="705.5" rx="3.5" ry="2.5" fill="#f7a866"/>
<ellipse cx="557.5" cy="702" rx="2.3" ry="3.3" fill="#f7a866"/>
<ellipse cx="568.8" cy="714.3" rx="2" ry="2.5" fill="#f7a866"/>
<ellipse cx="552.8" cy="713.3" rx="2.3" ry="1.8" fill="#f7a866"/>
<ellipse cx="489.3" cy="721.5" rx="2" ry="3.4" fill="#f7a866"/>
<circle cx="478.6" cy="715.3" r="1.8" fill="#f7a866"/>
<circle cx="485.4" cy="721" r="1.2" fill="#f7a866"/>
<circle cx="472.7" cy="726" r="1.2" fill="#f7a866"/>
<ellipse cx="425.5" cy="728.4" rx="3" ry="2.9" fill="#f7a866" transform="rotate(-30 425.5 728.4)"/>
<ellipse cx="428.8" cy="717.2" rx="2" ry="4" fill="#f7a866"/>
<ellipse cx="428.8" cy="734.8" rx="1.5" ry="2" fill="#f7a866"/>
<circle cx="438.5" cy="731" r="1.5" fill="#f7a866"/>
<circle cx="422.5" cy="712.3" r="0.9" fill="#6fc3a6"/>
<circle cx="446.4" cy="734.8" r="1.3" fill="#f7a866"/>
<circle cx="451.3" cy="734.8" r="1.3" fill="#f7a866"/>
<ellipse cx="477.6" cy="749.5" rx="4" ry="1.5" fill="#f7a866"/>
<circle cx="529.8" cy="723" r="1" fill="#6fc3a6"/>
<ellipse cx="601.6" cy="723" rx="1.8" ry="3" fill="#f7a866" transform="rotate(-30 601.6 723)"/>
<ellipse cx="590" cy="710.4" rx="1.6" ry="2" fill="#f7a866"/>
<ellipse cx="582.1" cy="722" rx="1.5" ry="2" fill="#f7a866"/>
<circle cx="555.4" cy="776.8" r="2.1" fill="#6fc3a6"/>
<circle cx="564.5" cy="777.2" r="1.8" fill="#f7a866"/>
<circle cx="541" cy="776.8" r="1.2" fill="#f7a866"/>
<circle cx="529.4" cy="780.7" r="1.2" fill="#f7a866"/>
<ellipse cx="586" cy="779.7" rx="5" ry="3" fill="#f7a866"/>
<circle cx="576.3" cy="786.6" r="3" fill="#f7a866"/>
<circle cx="449.3" cy="782.7" r="1.8" fill="#f7a866"/>
<circle cx="492.3" cy="793.4" r="1.3" fill="#f7a866"/>
<circle cx="498" cy="794.4" r="1.2" fill="#f7a866"/>
<circle cx="431.3" cy="802.8" r="1.9" fill="#6fc3a6"/>
<circle cx="426.8" cy="803.2" r="1.8" fill="#f7a866"/>
<circle cx="423" cy="805" r="1" fill="#6fc3a6"/>
<circle cx="532.3" cy="804" r="1" fill="#6fc3a6"/>
<circle cx="538.2" cy="804" r="1.9" fill="#f7a866"/>
<ellipse cx="459" cy="821.7" rx="7" ry="4" fill="#f7a866" opacity="0.75"/>
<circle cx="439.5" cy="809" r="2" fill="#f7a866"/>
<ellipse cx="475.7" cy="808.4" rx="5" ry="2" fill="#f7a866"/>
<ellipse cx="523.5" cy="819.8" rx="10" ry="4" fill="#f7a866" opacity="0.75"/>
<ellipse cx="486" cy="815.5" rx="2.9" ry="3" fill="#6fc3a6"/>
<circle cx="480.5" cy="815.5" r="1.8" fill="#6fc3a6"/>
<circle cx="474" cy="819.8" r="1.9" fill="#6fc3a6"/>
<circle cx="476.3" cy="825.2" r="1.8" fill="#6fc3a6"/>
<ellipse cx="451.3" cy="818.8" rx="3" ry="2" fill="#6fc3a6"/>
<ellipse cx="561" cy="818.8" rx="4.5" ry="5.5" fill="#f7a866" opacity="0.75"/>
<ellipse cx="565.5" cy="817.8" rx="4.4" ry="5.8" fill="#f7a866"/>
<circle cx="574.3" cy="815.9" r="4" fill="#9fd89c"/>
<ellipse cx="619.2" cy="813" rx="2.3" ry="3.1" fill="#6fc3a6"/>
<ellipse cx="626.5" cy="709" rx="6" ry="5" fill="#f7a866" opacity="0.75"/>
<circle cx="629.5" cy="711.4" r="3.4" fill="#f7a866"/>
<ellipse cx="673.5" cy="714.7" rx="3.3" ry="2.3" fill="#f7a866"/>
<ellipse cx="684" cy="724" rx="5" ry="1.5" fill="#f7a866" transform="rotate(35 684 724)"/>
<circle cx="688.7" cy="725.6" r="1" fill="#6fc3a6"/>
<ellipse cx="656.9" cy="730.3" rx="8" ry="2.6" fill="#f7a866" opacity="0.75"/>
<ellipse cx="656.9" cy="730.3" rx="5.8" ry="2.1" fill="#f7a866"/>
<ellipse cx="734" cy="748.5" rx="1.8" ry="2.3" fill="#f7a866"/>
<circle cx="738.5" cy="747.5" r="1.7" fill="#6fc3a6"/>
<ellipse cx="658.4" cy="764.7" rx="1.9" ry="2.4" fill="#6fc3a6"/>
<ellipse cx="720.4" cy="769" rx="1.8" ry="2.1" fill="#6fc3a6"/>
<ellipse cx="716.5" cy="770" rx="1.7" ry="1.9" fill="#6fc3a6"/>
<ellipse cx="617.8" cy="759.2" rx="3" ry="1.5" fill="#f7a866"/>
<circle cx="615.9" cy="771" r="1.3" fill="#f7a866"/>
<circle cx="635.4" cy="769" r="1.3" fill="#f7a866"/>
<circle cx="692.4" cy="787.5" r="2.1" fill="#6fc3a6"/>
<ellipse cx="780.9" cy="728.4" rx="1.8" ry="2.5" fill="#f7a866"/>
<circle cx="788.7" cy="730" r="2.3" fill="#6fc3a6"/>
<ellipse cx="795.2" cy="727.6" rx="2.5" ry="2" fill="#f7a866"/>
<circle cx="806.3" cy="730" r="2.1" fill="#6fc3a6"/>
<circle cx="793.2" cy="725" r="1" fill="#6fc3a6"/>
<circle cx="789.7" cy="720" r="3" fill="#f7a866"/>
<ellipse cx="790.7" cy="736.2" rx="1.8" ry="2.3" fill="#f7a866"/>
<ellipse cx="797.5" cy="741.6" rx="2.3" ry="3" fill="#6fc3a6"/>
<circle cx="793.6" cy="742.6" r="1" fill="#6fc3a6"/>
<ellipse cx="792.6" cy="753.4" rx="2.6" ry="1.9" fill="#6fc3a6"/>
<circle cx="797.9" cy="753.8" r="1.9" fill="#6fc3a6"/>
<ellipse cx="806.3" cy="755.7" rx="2.5" ry="2" fill="#f7a866"/>
<ellipse cx="777" cy="758.8" rx="1.8" ry="2.3" fill="#f7a866"/>
<circle cx="782.8" cy="759.2" r="1" fill="#6fc3a6"/>
<circle cx="776" cy="773" r="1.6" fill="#f7a866"/>
<circle cx="782.8" cy="773.9" r="1.7" fill="#6fc3a6"/>
<ellipse cx="759.4" cy="729" rx="3" ry="2" fill="#f7a866"/>
<circle cx="766.3" cy="731" r="2" fill="#f7a866"/>
<circle cx="770.2" cy="735.8" r="1.8" fill="#f7a866"/>
<ellipse cx="770.2" cy="793.4" rx="20" ry="3" fill="#f7a866" opacity="0.75"/>
<ellipse cx="681.3" cy="814.3" rx="1.3" ry="1.6" fill="#6fc3a6"/>
<ellipse cx="618.8" cy="812" rx="1" ry="2" fill="#6fc3a6"/>
<circle cx="787.7" cy="814" r="5" fill="#9fd89c"/>
<ellipse cx="856.6" cy="817.8" rx="5" ry="4" fill="#f7a866" opacity="0.75"/>
<ellipse cx="888" cy="804.6" rx="7" ry="1.8" fill="#f7a866" transform="rotate(22 888 804.6)"/>
<circle cx="902.5" cy="801.8" r="2.8" fill="#f7a866"/>
<circle cx="876.6" cy="774.8" r="3" fill="#f7a866"/>
<ellipse cx="899.6" cy="775.2" rx="5" ry="3.4" fill="#f7a866"/>
<ellipse cx="908" cy="776.8" rx="5" ry="1.5" fill="#f7a866" transform="rotate(12 908 776.8)"/>
<ellipse cx="901.6" cy="786.6" rx="9" ry="4" fill="#9fd89c"/>
<ellipse cx="904.5" cy="787" rx="3" ry="2.4" fill="#6fc3a6"/>
<circle cx="934.8" cy="777.8" r="4" fill="#f7a866"/>
<circle cx="940.6" cy="781.7" r="2.5" fill="#f7a866"/>
<ellipse cx="943.6" cy="776.4" rx="2.6" ry="3.5" fill="#6fc3a6" transform="rotate(20 943.6 776.4)"/>
<ellipse cx="937.3" cy="788.5" rx="2.1" ry="4.5" fill="#6fc3a6"/>
<circle cx="934.8" cy="796.7" r="1.9" fill="#6fc3a6"/>
<ellipse cx="954.3" cy="788.5" rx="5.1" ry="3" fill="#6fc3a6"/>
<ellipse cx="944.5" cy="798.3" rx="3" ry="5" fill="#f7a866"/>
<ellipse cx="875.2" cy="731.5" rx="4" ry="2.9" fill="#f7a866"/>
<ellipse cx="867.4" cy="718.6" rx="3.8" ry="2.3" fill="#f7a866"/>
<ellipse cx="873.8" cy="717.2" rx="2.3" ry="2.6" fill="#6fc3a6"/>
<circle cx="879" cy="713" r="1.9" fill="#6fc3a6"/>
<circle cx="879.7" cy="709.4" r="1" fill="#f7a866"/>
<circle cx="873.8" cy="714.3" r="1" fill="#f7a866"/>
<ellipse cx="896.7" cy="741" rx="3" ry="2.3" fill="#f7a866"/>
<ellipse cx="848.8" cy="733.8" rx="2" ry="2.9" fill="#f7a866"/>
<circle cx="855.7" cy="731.9" r="1.9" fill="#6fc3a6"/>
<ellipse cx="853.7" cy="740.7" rx="2.6" ry="1.9" fill="#6fc3a6"/>
<ellipse cx="853" cy="743.2" rx="2.3" ry="1.8" fill="#f7a866"/>
<ellipse cx="868.4" cy="734.8" rx="2.1" ry="2.6" fill="#6fc3a6"/>
<circle cx="870" cy="737.7" r="1.9" fill="#6fc3a6"/>
<circle cx="863.5" cy="738" r="1.9" fill="#6fc3a6"/>
<circle cx="858.6" cy="739.3" r="1.9" fill="#6fc3a6"/>
<circle cx="864" cy="736.2" r="1.9" fill="#f7a866"/>
<ellipse cx="846.5" cy="738" rx="2" ry="1.5" fill="#f7a866"/>
<circle cx="806.4" cy="730.3" r="2.1" fill="#6fc3a6"/>
<circle cx="806.4" cy="755.7" r="2" fill="#f7a866"/>
<circle cx="803" cy="752.4" r="1" fill="#6fc3a6"/>
<ellipse cx="817.6" cy="766" rx="2.1" ry="2.6" fill="#6fc3a6"/>
<circle cx="821.5" cy="766.6" r="2" fill="#f7a866"/>
<circle cx="828" cy="764.5" r="1.8" fill="#f7a866"/>
<circle cx="818.2" cy="773" r="1.8" fill="#6fc3a6"/>
<circle cx="831.3" cy="759.8" r="1.8" fill="#6fc3a6"/>
<circle cx="825.4" cy="751.4" r="1.3" fill="#f7a866"/>
<ellipse cx="839" cy="729" rx="4.5" ry="5" fill="#9fd89c"/>
<ellipse cx="840" cy="726.4" rx="2.5" ry="1.5" fill="#6fc3a6"/>
<ellipse cx="841" cy="726" rx="2.1" ry="1.8" fill="#6fc3a6"/>
<circle cx="920" cy="737.7" r="3" fill="#9fd89c"/>
<circle cx="920" cy="740.6" r="1" fill="#6fc3a6"/>
<circle cx="925" cy="731" r="1.2" fill="#f7a866"/>
<circle cx="981.6" cy="730.3" r="2" fill="#f7a866"/>
<circle cx="969" cy="736.8" r="1" fill="#6fc3a6"/>
<ellipse cx="985.5" cy="723" rx="2" ry="3" fill="#f7a866"/>
<circle cx="943.6" cy="738.7" r="1.3" fill="#f7a866"/>
<circle cx="973.8" cy="752.4" r="1.3" fill="#f7a866"/>
<polygon points="241,760 244,758.3 247.5,762.5 249.5,767.5 246.5,768 243,764.3" fill="#f7a866" stroke="#f7a866" stroke-width="2.2" stroke-linejoin="round"/>
<polygon points="375.5,794.5 379.4,793.5 383.3,798.4 387.2,800.4 386.3,803.3 380.4,801.3 376.5,798.4" fill="#f7a866" stroke="#f7a866" stroke-width="2.2" stroke-linejoin="round"/>
<polygon points="281.2,832.6 283.7,828.7 288.6,826.7 294.5,829 304.2,829 308.1,827.7 314,829.6 316,824.8 318.9,826.7 321.8,830.6 327.7,831.6 335.5,829 342.3,829.6 343.3,831.6 347.2,829.6 358.9,829.6 362.8,827.7 366.7,824.8 370.6,822.8 374.5,824.8 378.4,822.8 386.3,823.8 392.1,824.8 392.5,829.6 390.2,833.6 378.4,834.5 374.5,831.6 364.8,832.2 358.9,831.6 347.2,832.2 342.3,834.5 339.4,836.5 331.6,836.9 323.8,833.6 316,834.5 312,835.5 298.4,836.5 290.5,838.8 284.7,837.5 281.2,835.5" fill="#f7a866" stroke="#f7a866" stroke-width="2.2" stroke-linejoin="round"/>
<polygon points="342.3,818.9 354,820.5 353,822.8 343.3,821.8" fill="#f7a866" stroke="#f7a866" stroke-width="2.2" stroke-linejoin="round"/>
<polygon points="431.7,824.6 434.6,820.7 439.5,819.4 445.4,821.7 453.2,822.7 458,826.6 465,827.6 468.8,829.5 462,830.5 457,828.6 447.3,829.5 441.5,830.5 435.6,828.6" fill="#f7a866" stroke="#f7a866" stroke-width="2.2" stroke-linejoin="round"/>
<polygon points="486.4,826.6 488.4,819.8 496.2,818.8 499,823.7 494.2,825.6" fill="#f7a866" stroke="#f7a866" stroke-width="2.2" stroke-linejoin="round"/>
<polygon points="502,823.7 503,815.9 507,814.9 510.8,819.8 513.8,822.7 511.8,824" fill="#f7a866" stroke="#f7a866" stroke-width="2.2" stroke-linejoin="round"/>
<polygon points="577.8,815.5 583,815.5 582.1,820.7 578.6,820.7" fill="#6fc3a6" stroke="#6fc3a6" stroke-width="2.2" stroke-linejoin="round"/>
<polygon points="592.9,817.8 595.8,814.9 603.6,815.9 607.5,816.8 612.4,814.9 615.3,817.8 613.4,820.7 603.6,821.7 595.8,821.3" fill="#f7a866" stroke="#f7a866" stroke-width="2.2" stroke-linejoin="round"/>
<polygon points="625.6,817.8 629.5,813.9 637.3,813 641.3,814.9 649,813.9 656.9,815.9 658.8,819.8 655,822.7 645.2,823.7 637.3,822.7 629.5,823.7 626.6,821.7" fill="#f7a866" stroke="#f7a866" stroke-width="2.2" stroke-linejoin="round"/>
<polygon points="663.7,814.9 667.6,813 674.5,814.9 676.4,817.8 670.5,820.7 664.7,819.8" fill="#f7a866" stroke="#f7a866" stroke-width="2.2" stroke-linejoin="round"/>
<polygon points="725.2,787.5 731,786.6 737,783.6 744.8,782.3 750.6,780.3 755.5,782.7 756.5,786.6 752.6,788.5 746.7,791.4 738.9,790.5 735,793.4 729.1,792" fill="#f7a866" stroke="#f7a866" stroke-width="2.2" stroke-linejoin="round"/>
<polygon points="692,794.4 701.8,791.4 709.6,794.4 711.6,800.2 707.7,806 701.8,808 696,802.2" fill="#f6c184" stroke="#f6c184" stroke-width="2.2" stroke-linejoin="round"/>
<polygon points="701.8,798.3 707.7,797.3 709.6,802.2 705.7,807 701.8,804.1" fill="#f7a866" stroke="#f7a866" stroke-width="2.2" stroke-linejoin="round"/>
<polygon points="703.8,807 709.6,804.1 713.5,812 711.6,819.8 705.7,820.7 707.7,813.9" fill="#f7a866" stroke="#f7a866" stroke-width="2.2" stroke-linejoin="round"/>
<polygon points="710.6,812 719.4,812 727.2,806 731,801.3 738.9,799.3 750.6,798.7 758.4,799.3 766.3,796.7 778,798.3 785.8,797.3 793.6,799.3 807.8,802.2 819.5,806 829.3,807 835.2,805 843,807 846.9,806 848.8,812 852.7,813.9 850.8,818.8 839,819.8 810,820.7 797.5,820.7 766.3,821.3 746.7,820.7 727.2,822.7 715.5,821.7 711.6,817.8" fill="#f7a866" stroke="#f7a866" stroke-width="2.2" stroke-linejoin="round"/>
<polygon points="784.8,812 790.7,812 789.3,819.8 786.8,818.8" fill="#6fc3a6" stroke="#6fc3a6" stroke-width="2.2" stroke-linejoin="round"/>
<polygon points="694.4,812 704.7,813 701.8,819.8 696,816.8" fill="#6fc3a6" stroke="#6fc3a6" stroke-width="2.2" stroke-linejoin="round"/>
<polygon points="778,768 781.9,768 783.8,771 780,771" fill="#6fc3a6" stroke="#6fc3a6" stroke-width="2.2" stroke-linejoin="round"/>
<polygon points="783.8,752.4 786.8,750.4 788.7,756.3 783.8,756.9" fill="#f7a866" stroke="#f7a866" stroke-width="2.2" stroke-linejoin="round"/>
<polygon points="856.6,796.3 860.5,791.4 866.4,790.5 873.2,791.4 877,794.4 880,800.2 877,803.2 872.3,800.2 868.4,802.2 862.5,798.3" fill="#f7a866" stroke="#f7a866" stroke-width="2.2" stroke-linejoin="round"/>
<polygon points="881,771.9 886,769.4 891.8,770.5 893.8,773.9 889.8,776.8 884,777.8 881,775.2" fill="#f7a866" stroke="#f7a866" stroke-width="2.2" stroke-linejoin="round"/>
<polygon points="909.4,800.2 917.2,798.3 927,799.3 931.8,800.2 930.9,804.1 925,806 917.2,804.5 910.4,803.8" fill="#6fc3a6" stroke="#6fc3a6" stroke-width="2.2" stroke-linejoin="round"/>
<polygon points="907,808 914.3,807 913.9,813 907.4,813" fill="#6fc3a6" stroke="#6fc3a6" stroke-width="2.2" stroke-linejoin="round"/>
<polygon points="929.9,807 936.7,805 940.6,807 939.6,811 932.8,811" fill="#f7a866" stroke="#f7a866" stroke-width="2.2" stroke-linejoin="round"/>
<polygon points="943.6,784.6 947.5,774.8 951.4,776.8 948.4,782.7 946.5,787.5" fill="#f7a866" stroke="#f7a866" stroke-width="2.2" stroke-linejoin="round"/>
<polygon points="949.4,794.4 958.2,794.4 957.8,799 953.5,801 949.4,799" fill="#f7a866" stroke="#f7a866" stroke-width="2.2" stroke-linejoin="round"/>
<polygon points="949.4,799 953.5,801 957.8,799 957.2,802.2 952.3,804.6 949.4,801.5" fill="#f7a866" stroke="#f7a866" stroke-width="2.2" stroke-linejoin="round"/>
<polygon points="210.9,825.5 215.8,823.9 219.7,827.8 216.8,831.7 213.8,829.8" fill="#6fc3a6" stroke="#6fc3a6" stroke-width="2.2" stroke-linejoin="round"/></g>
<g filter="url(#jag)"><polygon points="241,760 244,758.3 247.5,762.5 249.5,767.5 246.5,768 243,764.3" fill="#fb0a04"/>
<polygon points="375.5,794.5 379.4,793.5 383.3,798.4 387.2,800.4 386.3,803.3 380.4,801.3 376.5,798.4" fill="#fb0a04"/>
<polygon points="281.2,832.6 283.7,828.7 288.6,826.7 294.5,829 304.2,829 308.1,827.7 314,829.6 316,824.8 318.9,826.7 321.8,830.6 327.7,831.6 335.5,829 342.3,829.6 343.3,831.6 347.2,829.6 358.9,829.6 362.8,827.7 366.7,824.8 370.6,822.8 374.5,824.8 378.4,822.8 386.3,823.8 392.1,824.8 392.5,829.6 390.2,833.6 378.4,834.5 374.5,831.6 364.8,832.2 358.9,831.6 347.2,832.2 342.3,834.5 339.4,836.5 331.6,836.9 323.8,833.6 316,834.5 312,835.5 298.4,836.5 290.5,838.8 284.7,837.5 281.2,835.5" fill="#fb0a04"/>
<polygon points="342.3,818.9 354,820.5 353,822.8 343.3,821.8" fill="#fb0a04"/>
<polygon points="431.7,824.6 434.6,820.7 439.5,819.4 445.4,821.7 453.2,822.7 458,826.6 465,827.6 468.8,829.5 462,830.5 457,828.6 447.3,829.5 441.5,830.5 435.6,828.6" fill="#fb0a04"/>
<polygon points="486.4,826.6 488.4,819.8 496.2,818.8 499,823.7 494.2,825.6" fill="#fb0a04"/>
<polygon points="502,823.7 503,815.9 507,814.9 510.8,819.8 513.8,822.7 511.8,824" fill="#fb0a04"/>
<polygon points="577.8,815.5 583,815.5 582.1,820.7 578.6,820.7" fill="#0a50f0"/>
<polygon points="592.9,817.8 595.8,814.9 603.6,815.9 607.5,816.8 612.4,814.9 615.3,817.8 613.4,820.7 603.6,821.7 595.8,821.3" fill="#fb0a04"/>
<polygon points="625.6,817.8 629.5,813.9 637.3,813 641.3,814.9 649,813.9 656.9,815.9 658.8,819.8 655,822.7 645.2,823.7 637.3,822.7 629.5,823.7 626.6,821.7" fill="#fb0a04"/>
<polygon points="663.7,814.9 667.6,813 674.5,814.9 676.4,817.8 670.5,820.7 664.7,819.8" fill="#f4562c"/>
<polygon points="725.2,787.5 731,786.6 737,783.6 744.8,782.3 750.6,780.3 755.5,782.7 756.5,786.6 752.6,788.5 746.7,791.4 738.9,790.5 735,793.4 729.1,792" fill="#fb0a04"/>
<polygon points="692,794.4 701.8,791.4 709.6,794.4 711.6,800.2 707.7,806 701.8,808 696,802.2" fill="#f7a866"/>
<polygon points="701.8,798.3 707.7,797.3 709.6,802.2 705.7,807 701.8,804.1" fill="#fb0a04"/>
<polygon points="703.8,807 709.6,804.1 713.5,812 711.6,819.8 705.7,820.7 707.7,813.9" fill="#fb0a04"/>
<polygon points="710.6,812 719.4,812 727.2,806 731,801.3 738.9,799.3 750.6,798.7 758.4,799.3 766.3,796.7 778,798.3 785.8,797.3 793.6,799.3 807.8,802.2 819.5,806 829.3,807 835.2,805 843,807 846.9,806 848.8,812 852.7,813.9 850.8,818.8 839,819.8 810,820.7 797.5,820.7 766.3,821.3 746.7,820.7 727.2,822.7 715.5,821.7 711.6,817.8" fill="#fb0a04"/>
<polygon points="784.8,812 790.7,812 789.3,819.8 786.8,818.8" fill="#0a50f0"/>
<polygon points="694.4,812 704.7,813 701.8,819.8 696,816.8" fill="#0a50f0"/>
<polygon points="778,768 781.9,768 783.8,771 780,771" fill="#0a50f0"/>
<polygon points="783.8,752.4 786.8,750.4 788.7,756.3 783.8,756.9" fill="#fb0a04"/>
<polygon points="856.6,796.3 860.5,791.4 866.4,790.5 873.2,791.4 877,794.4 880,800.2 877,803.2 872.3,800.2 868.4,802.2 862.5,798.3" fill="#fb0a04"/>
<polygon points="881,771.9 886,769.4 891.8,770.5 893.8,773.9 889.8,776.8 884,777.8 881,775.2" fill="#fb0a04"/>
<polygon points="909.4,800.2 917.2,798.3 927,799.3 931.8,800.2 930.9,804.1 925,806 917.2,804.5 910.4,803.8" fill="#0a50f0"/>
<polygon points="907,808 914.3,807 913.9,813 907.4,813" fill="#0a50f0"/>
<polygon points="929.9,807 936.7,805 940.6,807 939.6,811 932.8,811" fill="#fb0a04"/>
<polygon points="943.6,784.6 947.5,774.8 951.4,776.8 948.4,782.7 946.5,787.5" fill="#fb0a04"/>
<polygon points="949.4,794.4 958.2,794.4 957.8,799 953.5,801 949.4,799" fill="#fb0a04"/>
<polygon points="949.4,799 953.5,801 957.8,799 957.2,802.2 952.3,804.6 949.4,801.5" fill="#f4562c"/>
<polygon points="210.9,825.5 215.8,823.9 219.7,827.8 216.8,831.7 213.8,829.8" fill="#0a50f0"/></g>
<g filter="url(#b3)"><ellipse cx="58" cy="718.8" rx="2.5" ry="3.4" fill="#0a50f0"/>
<circle cx="58.9" cy="730.7" r="1.2" fill="#f4562c"/>
<ellipse cx="145.9" cy="735" rx="1.7" ry="1.9" fill="#fb0a04"/>
<circle cx="159.5" cy="734.6" r="1" fill="#fb0a04"/>
<ellipse cx="98.6" cy="768.5" rx="1.8" ry="3" fill="#f4562c"/>
<ellipse cx="151" cy="765" rx="0.9" ry="1.8" fill="#0a50f0"/>
<ellipse cx="204.5" cy="746.2" rx="0.9" ry="1.9" fill="#0a50f0"/>
<ellipse cx="209" cy="756.3" rx="2.8" ry="1.8" fill="#fb0a04"/>
<ellipse cx="214.5" cy="754" rx="3" ry="1.3" fill="#f4562c" transform="rotate(-15 214.5 754)"/>
<circle cx="209" cy="796" r="1" fill="#fb0a04"/>
<circle cx="103.9" cy="813.2" r="0.8" fill="#0a50f0"/>
<circle cx="109.7" cy="813.2" r="1.2" fill="#fb0a04"/>
<circle cx="116.2" cy="812.8" r="1" fill="#0a50f0"/>
<circle cx="117.1" cy="815.7" r="1" fill="#fb0a04"/>
<ellipse cx="81" cy="823.3" rx="2.4" ry="1.4" fill="#fb0a04"/>
<circle cx="112.3" cy="828.2" r="0.8" fill="#0a50f0"/>
<ellipse cx="107.4" cy="837.4" rx="3.5" ry="1.5" fill="#fb0a04"/>
<ellipse cx="77" cy="846" rx="2.5" ry="2" fill="#f4562c"/>
<ellipse cx="128" cy="848.6" rx="3.5" ry="1.8" fill="#f4562c"/>
<ellipse cx="159.5" cy="838.6" rx="1.5" ry="2" fill="#0a50f0"/>
<ellipse cx="174.4" cy="844.4" rx="0.8" ry="1.5" fill="#0a50f0"/>
<circle cx="165" cy="845.4" r="0.9" fill="#fb0a04"/>
<ellipse cx="188.4" cy="830.2" rx="2" ry="1.4" fill="#fb0a04"/>
<ellipse cx="197.8" cy="834" rx="1" ry="1.5" fill="#f4562c"/>
<ellipse cx="207" cy="828.4" rx="2.5" ry="1" fill="#f4562c"/>
<ellipse cx="362" cy="704.5" rx="7" ry="1.2" fill="#f4562c"/>
<ellipse cx="359.5" cy="728.8" rx="2.2" ry="1.6" fill="#f4562c"/>
<ellipse cx="386.6" cy="730" rx="1" ry="2" fill="#fb0a04"/>
<ellipse cx="396" cy="729" rx="1.5" ry="2" fill="#f4562c"/>
<ellipse cx="404.8" cy="725.2" rx="1.5" ry="1.2" fill="#0a50f0"/>
<circle cx="414.6" cy="723.6" r="0.8" fill="#0a50f0"/>
<ellipse cx="269" cy="795.5" rx="1.8" ry="3.8" fill="#0a50f0" transform="rotate(20 269 795.5)"/>
<ellipse cx="276.9" cy="796.4" rx="1.1" ry="1.9" fill="#0a50f0"/>
<ellipse cx="290" cy="801.3" rx="3" ry="1.7" fill="#0a50f0"/>
<ellipse cx="358" cy="806.2" rx="5" ry="3.6" fill="#f4562c"/>
<ellipse cx="339.4" cy="807.2" rx="2" ry="2.4" fill="#fb0a04"/>
<circle cx="304.2" cy="802.3" r="1.2" fill="#f4562c"/>
<ellipse cx="408.7" cy="810" rx="3" ry="4" fill="#f4562c"/>
<ellipse cx="418.5" cy="805.2" rx="2" ry="0.8" fill="#0a50f0"/>
<ellipse cx="294.5" cy="822.4" rx="2.5" ry="2.4" fill="#0a50f0"/>
<circle cx="278.8" cy="827.7" r="2" fill="#f4562c"/>
<ellipse cx="259.3" cy="833.6" rx="3" ry="3.6" fill="#f4562c"/>
<ellipse cx="504" cy="704.5" rx="3" ry="2" fill="#f4562c"/>
<ellipse cx="495" cy="700.6" rx="2" ry="1.5" fill="#f4562c"/>
<ellipse cx="525.5" cy="709.4" rx="5.5" ry="2.4" fill="#f4562c" transform="rotate(20 525.5 709.4)"/>
<ellipse cx="558.7" cy="705.5" rx="2.5" ry="1.5" fill="#fb0a04"/>
<ellipse cx="557.5" cy="702" rx="1.5" ry="2.5" fill="#f4562c"/>
<ellipse cx="568.8" cy="714.3" rx="1" ry="1.5" fill="#fb0a04"/>
<ellipse cx="552.8" cy="713.3" rx="1.5" ry="1" fill="#f4562c"/>
<ellipse cx="489.3" cy="721.5" rx="1" ry="2.4" fill="#fb0a04"/>
<circle cx="478.6" cy="715.3" r="1" fill="#f4562c"/>
<ellipse cx="425.5" cy="728.4" rx="2" ry="1.9" fill="#fb0a04" transform="rotate(-30 425.5 728.4)"/>
<circle cx="555.4" cy="776.8" r="1" fill="#0a50f0"/>
<circle cx="564.5" cy="777.2" r="1" fill="#f4562c"/>
<circle cx="431.3" cy="802.8" r="0.8" fill="#0a50f0"/>
<circle cx="426.8" cy="803.2" r="1" fill="#f4562c"/>
<circle cx="538.2" cy="804" r="1.1" fill="#f4562c"/>
<circle cx="439.5" cy="809" r="1.2" fill="#f4562c"/>
<ellipse cx="486" cy="815.5" rx="1.8" ry="1.9" fill="#0a50f0"/>
<circle cx="480.5" cy="815.5" r="0.7" fill="#0a50f0"/>
<circle cx="474" cy="819.8" r="0.8" fill="#0a50f0"/>
<circle cx="476.3" cy="825.2" r="0.7" fill="#0a50f0"/>
<ellipse cx="565.5" cy="817.8" rx="3.4" ry="4.8" fill="#fb0a04"/>
<ellipse cx="619.2" cy="813" rx="1.2" ry="2" fill="#0a50f0"/>
<circle cx="629.5" cy="711.4" r="2.4" fill="#fb0a04"/>
<ellipse cx="673.5" cy="714.7" rx="2.5" ry="1.5" fill="#f4562c"/>
<ellipse cx="656.9" cy="730.3" rx="5" ry="1.3" fill="#f4562c"/>
<ellipse cx="734" cy="748.5" rx="1" ry="1.5" fill="#f4562c"/>
<circle cx="738.5" cy="747.5" r="0.6" fill="#0a50f0"/>
<ellipse cx="658.4" cy="764.7" rx="0.8" ry="1.3" fill="#0a50f0"/>
<ellipse cx="720.4" cy="769" rx="0.7" ry="1" fill="#0a50f0"/>
<ellipse cx="716.5" cy="770" rx="0.6" ry="0.8" fill="#0a50f0"/>
<circle cx="692.4" cy="787.5" r="1" fill="#0a50f0"/>
<ellipse cx="780.9" cy="728.4" rx="0.8" ry="1.5" fill="#fb0a04"/>
<circle cx="788.7" cy="730" r="1.2" fill="#0a50f0"/>
<ellipse cx="795.2" cy="727.6" rx="1.5" ry="1" fill="#fb0a04"/>
<circle cx="806.3" cy="730" r="1" fill="#0a50f0"/>
<ellipse cx="790.7" cy="736.2" rx="1" ry="1.5" fill="#f4562c"/>
<ellipse cx="797.5" cy="741.6" rx="1.2" ry="1.9" fill="#0a50f0"/>
<ellipse cx="792.6" cy="753.4" rx="1.5" ry="0.8" fill="#0a50f0"/>
<circle cx="797.9" cy="753.8" r="0.8" fill="#0a50f0"/>
<ellipse cx="806.3" cy="755.7" rx="1.5" ry="1" fill="#fb0a04"/>
<ellipse cx="777" cy="758.8" rx="1" ry="1.5" fill="#f4562c"/>
<circle cx="776" cy="773" r="0.8" fill="#f4562c"/>
<circle cx="782.8" cy="773.9" r="0.6" fill="#0a50f0"/>
<circle cx="770.2" cy="735.8" r="1" fill="#f4562c"/>
<circle cx="902.5" cy="801.8" r="2" fill="#f4562c"/>
<circle cx="876.6" cy="774.8" r="2" fill="#fb0a04"/>
<ellipse cx="899.6" cy="775.2" rx="4" ry="2.4" fill="#fb0a04"/>
<circle cx="934.8" cy="777.8" r="3" fill="#fb0a04"/>
<circle cx="940.6" cy="781.7" r="1.5" fill="#fb0a04"/>
<ellipse cx="943.6" cy="776.4" rx="1.5" ry="2.4" fill="#0a50f0" transform="rotate(20 943.6 776.4)"/>
<ellipse cx="937.3" cy="788.5" rx="1" ry="3.4" fill="#0a50f0"/>
<circle cx="934.8" cy="796.7" r="0.8" fill="#0a50f0"/>
<ellipse cx="954.3" cy="788.5" rx="4" ry="1.9" fill="#0a50f0"/>
<ellipse cx="875.2" cy="731.5" rx="3" ry="1.9" fill="#fb0a04"/>
<ellipse cx="867.4" cy="718.6" rx="3" ry="1.5" fill="#f4562c"/>
<ellipse cx="873.8" cy="717.2" rx="1.2" ry="1.5" fill="#0a50f0"/>
<circle cx="879" cy="713" r="0.8" fill="#0a50f0"/>
<ellipse cx="896.7" cy="741" rx="2" ry="1.3" fill="#fb0a04"/>
<ellipse cx="848.8" cy="733.8" rx="1" ry="1.9" fill="#fb0a04"/>
<circle cx="855.7" cy="731.9" r="0.8" fill="#0a50f0"/>
<ellipse cx="853.7" cy="740.7" rx="1.5" ry="0.8" fill="#0a50f0"/>
<ellipse cx="853" cy="743.2" rx="1.5" ry="1" fill="#f4562c"/>
<ellipse cx="868.4" cy="734.8" rx="1" ry="1.5" fill="#0a50f0"/>
<circle cx="870" cy="737.7" r="0.8" fill="#0a50f0"/>
<circle cx="863.5" cy="738" r="0.8" fill="#0a50f0"/>
<circle cx="858.6" cy="739.3" r="0.8" fill="#0a50f0"/>
<circle cx="864" cy="736.2" r="0.9" fill="#fb0a04"/>
<circle cx="806.4" cy="730.3" r="1" fill="#0a50f0"/>
<circle cx="806.4" cy="755.7" r="1" fill="#fb0a04"/>
<ellipse cx="817.6" cy="766" rx="1" ry="1.5" fill="#0a50f0"/>
<circle cx="821.5" cy="766.6" r="1" fill="#fb0a04"/>
<circle cx="828" cy="764.5" r="0.8" fill="#fb0a04"/>
<circle cx="818.2" cy="773" r="0.7" fill="#0a50f0"/>
<circle cx="831.3" cy="759.8" r="0.7" fill="#0a50f0"/>
<ellipse cx="841" cy="726" rx="1" ry="0.7" fill="#0a50f0"/>
<circle cx="981.6" cy="730.3" r="1" fill="#fb0a04"/></g>
</g>
<text x="163.5" y="675.3" font-size="27.5" fill="#000" textLength="243" lengthAdjust="spacingAndGlyphs">Exstensive erosion</text>
<polyline points="235.3,752.6 162,681.2 593.8,681.2 618.3,703.8" fill="none" stroke="#000" stroke-width="1.9"/>
<line x1="465" y1="681.2" x2="486.5" y2="693" stroke="#000" stroke-width="2"/>
<line x1="540" y1="681.2" x2="551.5" y2="688.2" stroke="#000" stroke-width="2"/>
<polyline points="260,763 901.3,763 945,787.5" fill="none" stroke="#000" stroke-width="2.3"/>
<line x1="288.8" y1="763" x2="340" y2="815" stroke="#000" stroke-width="2"/>
<line x1="440" y1="763" x2="480" y2="804.3" stroke="#000" stroke-width="2.3"/>
<line x1="590" y1="763" x2="626.3" y2="799.5" stroke="#000" stroke-width="2.3"/>
<line x1="761.3" y1="763" x2="793.8" y2="796.3" stroke="#000" stroke-width="2.3"/>
<circle cx="246.2" cy="762.8" r="13.8" fill="none" stroke="#111" stroke-width="1.3"/>
<circle cx="498.1" cy="701.7" r="13.8" fill="none" stroke="#111" stroke-width="1.3"/>
<circle cx="561.2" cy="698.7" r="13.8" fill="none" stroke="#111" stroke-width="1.3"/>
<circle cx="630.5" cy="711.3" r="13.8" fill="none" stroke="#111" stroke-width="1.3"/>
<circle cx="952.4" cy="799.7" r="13.8" fill="none" stroke="#111" stroke-width="1.3"/>
<rect x="271.4" y="815" width="129.5" height="27.8" rx="13.7" fill="none" stroke="#111" stroke-width="1.4"/>
<rect x="425.4" y="804.4" width="109.3" height="27.5" rx="13.7" fill="none" stroke="#111" stroke-width="1.4"/>
<rect x="560.6" y="799.7" width="129.7" height="27.7" rx="13.7" fill="none" stroke="#111" stroke-width="1.4"/>
<rect x="709.2" y="796.3" width="152.6" height="27.6" rx="13.7" fill="none" stroke="#111" stroke-width="1.4"/>
</g>
<g id="cbar">
<defs><linearGradient id="cb" x1="0" x2="1" y1="0" y2="0">
<stop offset="0" stop-color="#fe0000"/><stop offset="0.03" stop-color="#fb1a0c"/><stop offset="0.12" stop-color="#f5552c"/><stop offset="0.21" stop-color="#f78a56"/>
<stop offset="0.27" stop-color="#f9a866"/><stop offset="0.33" stop-color="#f4bf83"/><stop offset="0.385" stop-color="#ead69c"/>
<stop offset="0.43" stop-color="#d2cba9"/><stop offset="0.50" stop-color="#c2c2c2"/><stop offset="0.57" stop-color="#cdd4ae"/>
<stop offset="0.63" stop-color="#dde6a2"/><stop offset="0.70" stop-color="#c2e0a2"/><stop offset="0.78" stop-color="#a4d8a0"/>
<stop offset="0.86" stop-color="#7fc8a0"/><stop offset="0.905" stop-color="#62b4a4"/><stop offset="0.94" stop-color="#4690c4"/>
<stop offset="0.97" stop-color="#2468e4"/><stop offset="1" stop-color="#0a48fa"/></linearGradient></defs>
<rect x="256.3" y="922.2" width="544.3" height="26.2" fill="url(#cb)"/>
<path d="M256.6 948.4v6.8M290.6 948.4v6.8M324.6 948.4v6.8M358.6 948.4v6.8M392.6 948.4v6.8M426.6 948.4v6.8M460.6 948.4v6.8M494.6 948.4v6.8M528.6 948.4v6.8M562.6 948.4v6.8M596.6 948.4v6.8M630.6 948.4v6.8M664.6 948.4v6.8M698.6 948.4v6.8M732.6 948.4v6.8M766.6 948.4v6.8M800.6 948.4v6.8" stroke="#c8c8c8" stroke-width="1.2" fill="none"/>
<g font-size="21.6" fill="#000">
<text x="174" y="941.8" textLength="74" lengthAdjust="spacingAndGlyphs">Erosion</text>
<text x="253" y="917.3" textLength="57" lengthAdjust="spacingAndGlyphs">-0.4m</text>
<text x="509.5" y="917.3" textLength="31" lengthAdjust="spacingAndGlyphs">0m</text>
<text x="745.3" y="917.8" textLength="52" lengthAdjust="spacingAndGlyphs">0.4m</text>
<text x="806.3" y="941" textLength="106.5" lengthAdjust="spacingAndGlyphs">Deposition</text>
</g>
</g>
<g>
<rect x="278.5" y="1049" width="28.2" height="310.8" fill="#c9cfe6"/>
<rect x="92.6" y="1358.6" width="10" height="1.2" fill="#00008b"/>
<rect x="105.4" y="1358.4" width="10.2" height="1.4" fill="#00008b"/>
<rect x="118.4" y="1358.2" width="10.2" height="1.6" fill="#00008b"/>
<rect x="131.4" y="1357.9" width="10.2" height="1.9" fill="#00008b"/>
<rect x="144.4" y="1357.9" width="10.2" height="1.9" fill="#00008b"/>
<rect x="157.4" y="1357.3" width="10.2" height="2.5" fill="#00008b"/>
<rect x="170.4" y="1357.3" width="10.2" height="2.5" fill="#00008b"/>
<rect x="183.4" y="1355.9" width="10.2" height="3.9" fill="#00008b"/>
<rect x="196.4" y="1355.1" width="10.2" height="4.7" fill="#00008b"/>
<rect x="209.4" y="1352.8" width="10.2" height="7" fill="#00008b"/>
<rect x="222.4" y="1349.3" width="10.2" height="10.5" fill="#00008b"/>
<rect x="235.4" y="1345.4" width="10.2" height="14.4" fill="#00008b"/>
<rect x="248.4" y="1335.7" width="10.2" height="24.1" fill="#00008b"/>
<rect x="261.4" y="1284.3" width="10.2" height="75.5" fill="#00008b"/>
<rect x="274.4" y="1085.9" width="10.2" height="273.9" fill="#00008b"/>
<rect x="278.5" y="1085.9" width="6.1" height="273.9" fill="#6b72bb"/>
<rect x="287.4" y="1142.7" width="10.2" height="217.1" fill="#00008b"/>
<rect x="287.4" y="1142.7" width="10.2" height="217.1" fill="#6b72bb"/>
<rect x="300.4" y="1303.4" width="10.2" height="56.4" fill="#00008b"/>
<rect x="300.4" y="1303.4" width="6.3" height="56.4" fill="#6b72bb"/>
<rect x="313.4" y="1337.6" width="10.2" height="22.2" fill="#00008b"/>
<rect x="326.4" y="1347" width="10.2" height="12.8" fill="#00008b"/>
<rect x="339.4" y="1351.6" width="10.2" height="8.2" fill="#00008b"/>
<rect x="352.4" y="1353.2" width="10.2" height="6.6" fill="#00008b"/>
<rect x="365.4" y="1354.7" width="10.2" height="5.1" fill="#00008b"/>
<rect x="378.4" y="1355.9" width="10.2" height="3.9" fill="#00008b"/>
<rect x="391.4" y="1356.7" width="10.2" height="3.1" fill="#00008b"/>
<rect x="404.4" y="1357.1" width="10.2" height="2.7" fill="#00008b"/>
<rect x="417.4" y="1357.5" width="10.2" height="2.3" fill="#00008b"/>
<rect x="430.4" y="1358.1" width="10.2" height="1.7" fill="#00008b"/>
<rect x="443.4" y="1358.2" width="10.2" height="1.6" fill="#00008b"/>
<rect x="456.4" y="1358.4" width="10.2" height="1.4" fill="#00008b"/>
<rect x="469.4" y="1358.6" width="10.2" height="1.2" fill="#00008b"/>
<rect x="92" y="1048.5" width="394.5" height="311.3" fill="none" stroke="#555" stroke-width="1"/>
<path d="M97.5 1359.8v-4M97.5 1048.5v4" stroke="#555" stroke-width="1" fill="none"/>
<path d="M162.5 1359.8v-4M162.5 1048.5v4" stroke="#555" stroke-width="1" fill="none"/>
<path d="M227.5 1359.8v-4M227.5 1048.5v4" stroke="#555" stroke-width="1" fill="none"/>
<path d="M292.5 1359.8v-4M292.5 1048.5v4" stroke="#555" stroke-width="1" fill="none"/>
<path d="M357.5 1359.8v-4M357.5 1048.5v4" stroke="#555" stroke-width="1" fill="none"/>
<path d="M422.5 1359.8v-4M422.5 1048.5v4" stroke="#555" stroke-width="1" fill="none"/>
<path d="M486.5 1359.8v-4M486.5 1048.5v4" stroke="#555" stroke-width="1" fill="none"/>
<path d="M92 1359.8h4M486.5 1359.8h-4" stroke="#555" stroke-width="1" fill="none"/>
<path d="M92 1320.9h4M486.5 1320.9h-4" stroke="#555" stroke-width="1" fill="none"/>
<path d="M92 1282h4M486.5 1282h-4" stroke="#555" stroke-width="1" fill="none"/>
<path d="M92 1243.1h4M486.5 1243.1h-4" stroke="#555" stroke-width="1" fill="none"/>
<path d="M92 1204.2h4M486.5 1204.2h-4" stroke="#555" stroke-width="1" fill="none"/>
<path d="M92 1165.2h4M486.5 1165.2h-4" stroke="#555" stroke-width="1" fill="none"/>
<path d="M92 1126.3h4M486.5 1126.3h-4" stroke="#555" stroke-width="1" fill="none"/>
<path d="M92 1087.4h4M486.5 1087.4h-4" stroke="#555" stroke-width="1" fill="none"/>
<path d="M92 1048.5h4M486.5 1048.5h-4" stroke="#555" stroke-width="1" fill="none"/>
<g font-size="11.6" fill="#222" text-anchor="end">
<text x="88" y="1364">0</text>
<text x="88" y="1325.1">5</text>
<text x="88" y="1286.2">10</text>
<text x="88" y="1247.3">15</text>
<text x="88" y="1208.4">20</text>
<text x="88" y="1169.4">25</text>
<text x="88" y="1130.5">30</text>
<text x="88" y="1091.6">35</text>
<text x="88" y="1052.7">40</text>
</g>
<g font-size="11.6" fill="#222" text-anchor="middle">
<text x="95.5" y="1374.4">-0.3</text>
<text x="160.5" y="1374.4">-0.2</text>
<text x="225.5" y="1374.4">-0.1</text>
<text x="292.5" y="1374.4">0</text>
<text x="357.5" y="1374.4">0.1</text>
<text x="422.5" y="1374.4">0.2</text>
<text x="487.5" y="1374.4">0.3</text>
</g>
<text x="34" y="1042" font-size="34.5" font-weight="bold" fill="#000">A</text>
<text x="91.7" y="1037.5" font-size="20" fill="#000" textLength="230" lengthAdjust="spacingAndGlyphs">Uncertainity Bar +/- 2.5cm</text>
<text x="193.5" y="1403.8" font-size="25.5" fill="#000" textLength="204" lengthAdjust="spacingAndGlyphs">Activity Depth [m]</text>
<text transform="translate(61,1205.5) rotate(-90)" font-size="25.5" fill="#000" text-anchor="middle" textLength="166.5" lengthAdjust="spacingAndGlyphs">Frequency [%]</text>
</g>
<g>
<rect x="763.6" y="1048.5" width="28.7" height="311.3" fill="#c9cfe6"/>
<rect x="578.1" y="1356.7" width="10" height="3.1" fill="#00008b"/>
<rect x="590.9" y="1355.3" width="10.2" height="4.5" fill="#00008b"/>
<rect x="603.9" y="1354.9" width="10.2" height="4.9" fill="#00008b"/>
<rect x="616.9" y="1354.9" width="10.2" height="4.9" fill="#00008b"/>
<rect x="629.9" y="1353.6" width="10.2" height="6.2" fill="#00008b"/>
<rect x="642.9" y="1353.6" width="10.2" height="6.2" fill="#00008b"/>
<rect x="655.9" y="1351.3" width="10.2" height="8.5" fill="#00008b"/>
<rect x="668.9" y="1350.9" width="10.2" height="8.9" fill="#00008b"/>
<rect x="681.9" y="1348.2" width="10.2" height="11.6" fill="#00008b"/>
<rect x="694.9" y="1345.5" width="10.2" height="14.3" fill="#00008b"/>
<rect x="707.9" y="1342" width="10.2" height="17.8" fill="#00008b"/>
<rect x="720.9" y="1338.4" width="10.2" height="21.4" fill="#00008b"/>
<rect x="733.9" y="1325.9" width="10.2" height="33.9" fill="#00008b"/>
<rect x="746.9" y="1296.5" width="10.2" height="63.3" fill="#00008b"/>
<rect x="759.9" y="1150.4" width="10.2" height="209.4" fill="#00008b"/>
<rect x="763.6" y="1150.4" width="6.5" height="209.4" fill="#6b72bb"/>
<rect x="772.9" y="1070.3" width="10.2" height="289.5" fill="#00008b"/>
<rect x="772.9" y="1070.3" width="10.2" height="289.5" fill="#6b72bb"/>
<rect x="785.9" y="1277.8" width="10.2" height="82" fill="#00008b"/>
<rect x="785.9" y="1277.8" width="6.4" height="82" fill="#6b72bb"/>
<rect x="798.9" y="1331.3" width="10.2" height="28.5" fill="#00008b"/>
<rect x="811.9" y="1345.1" width="10.2" height="14.7" fill="#00008b"/>
<rect x="824.9" y="1348.7" width="10.2" height="11.1" fill="#00008b"/>
<rect x="837.9" y="1351.8" width="10.2" height="8" fill="#00008b"/>
<rect x="850.9" y="1353.1" width="10.2" height="6.7" fill="#00008b"/>
<rect x="863.9" y="1354.9" width="10.2" height="4.9" fill="#00008b"/>
<rect x="876.9" y="1355.8" width="10.2" height="4" fill="#00008b"/>
<rect x="889.9" y="1356.7" width="10.2" height="3.1" fill="#00008b"/>
<rect x="902.9" y="1357.1" width="10.2" height="2.7" fill="#00008b"/>
<rect x="915.9" y="1357.6" width="10.2" height="2.2" fill="#00008b"/>
<rect x="928.9" y="1358" width="10.2" height="1.8" fill="#00008b"/>
<rect x="941.9" y="1358" width="10.2" height="1.8" fill="#00008b"/>
<rect x="954.9" y="1358.9" width="10.2" height="0.9" fill="#00008b"/>
<rect x="577.5" y="1048" width="394.5" height="311.8" fill="none" stroke="#555" stroke-width="1"/>
<path d="M583 1359.8v-4M583 1048v4" stroke="#555" stroke-width="1" fill="none"/>
<path d="M648 1359.8v-4M648 1048v4" stroke="#555" stroke-width="1" fill="none"/>
<path d="M713 1359.8v-4M713 1048v4" stroke="#555" stroke-width="1" fill="none"/>
<path d="M778 1359.8v-4M778 1048v4" stroke="#555" stroke-width="1" fill="none"/>
<path d="M843 1359.8v-4M843 1048v4" stroke="#555" stroke-width="1" fill="none"/>
<path d="M908 1359.8v-4M908 1048v4" stroke="#555" stroke-width="1" fill="none"/>
<path d="M972 1359.8v-4M972 1048v4" stroke="#555" stroke-width="1" fill="none"/>
<path d="M577.5 1359.8h4M972 1359.8h-4" stroke="#555" stroke-width="1" fill="none"/>
<path d="M577.5 1315.3h4M972 1315.3h-4" stroke="#555" stroke-width="1" fill="none"/>
<path d="M577.5 1270.7h4M972 1270.7h-4" stroke="#555" stroke-width="1" fill="none"/>
<path d="M577.5 1226.2h4M972 1226.2h-4" stroke="#555" stroke-width="1" fill="none"/>
<path d="M577.5 1181.6h4M972 1181.6h-4" stroke="#555" stroke-width="1" fill="none"/>
<path d="M577.5 1137.1h4M972 1137.1h-4" stroke="#555" stroke-width="1" fill="none"/>
<path d="M577.5 1092.5h4M972 1092.5h-4" stroke="#555" stroke-width="1" fill="none"/>
<path d="M577.5 1048h4M972 1048h-4" stroke="#555" stroke-width="1" fill="none"/>
<g font-size="11.6" fill="#222" text-anchor="end">
<text x="573.5" y="1364">0</text>
<text x="573.5" y="1319.5">5</text>
<text x="573.5" y="1274.9">10</text>
<text x="573.5" y="1230.4">15</text>
<text x="573.5" y="1185.8">20</text>
<text x="573.5" y="1141.3">25</text>
<text x="573.5" y="1096.7">30</text>
<text x="573.5" y="1052.2">35</text>
</g>
<g font-size="11.6" fill="#222" text-anchor="middle">
<text x="581" y="1374.4">-0.3</text>
<text x="646" y="1374.4">-0.2</text>
<text x="711" y="1374.4">-0.1</text>
<text x="778" y="1374.4">0</text>
<text x="843" y="1374.4">0.1</text>
<text x="908" y="1374.4">0.2</text>
<text x="973" y="1374.4">0.3</text>
</g>
<text x="525" y="1045" font-size="34.5" font-weight="bold" fill="#000">B</text>
<text x="578.5" y="1033.8" font-size="20" fill="#000" textLength="230" lengthAdjust="spacingAndGlyphs">Uncertainity Bar +/- 2.5cm</text>
<text x="679.5" y="1403.8" font-size="25.5" fill="#000" textLength="204" lengthAdjust="spacingAndGlyphs">Activity Depth [m]</text>
<text transform="translate(546.5,1192) rotate(-90)" font-size="25.5" fill="#000" text-anchor="middle" textLength="166.5" lengthAdjust="spacingAndGlyphs">Frequency [%]</text>
</g>
</svg>
</body></html>
